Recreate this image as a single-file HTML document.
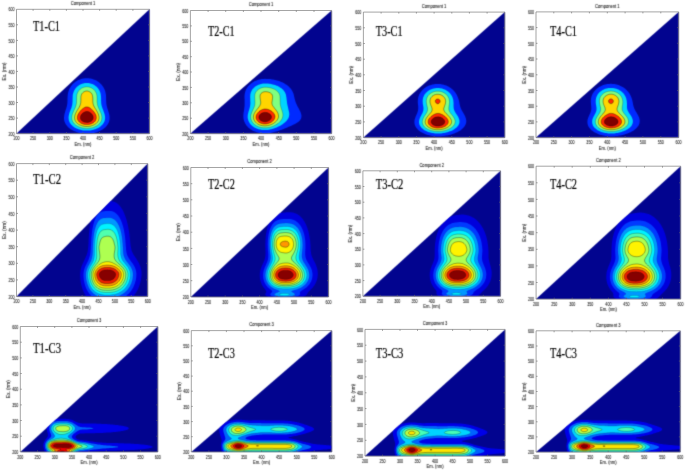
<!DOCTYPE html>
<html lang="en">
<head>
<meta charset="utf-8">
<title>PARAFAC components</title>
<style>
html,body{margin:0;padding:0;background:#fff;}
body{width:685px;height:472px;overflow:hidden;}
svg{display:block;font-family:"Liberation Sans",sans-serif;}
</style>
</head>
<body>
<svg width="685" height="472" viewBox="0 0 685 472">
<defs><filter id="bf" x="0" y="0" width="685" height="472" filterUnits="userSpaceOnUse" color-interpolation-filters="sRGB"><feConvolveMatrix order="3" kernelMatrix="1 5 1 5 25 5 1 5 1" edgeMode="duplicate" preserveAlpha="false"/></filter><filter id="bt" x="0" y="0" width="685" height="472" filterUnits="userSpaceOnUse" color-interpolation-filters="sRGB"><feConvolveMatrix order="3" kernelMatrix="1 5 1 5 25 5 1 5 1" edgeMode="duplicate" preserveAlpha="false"/></filter><filter id="bb" x="0" y="0" width="685" height="472" filterUnits="userSpaceOnUse" color-interpolation-filters="sRGB"><feConvolveMatrix order="3" kernelMatrix="1 6 1 6 36 6 1 6 1" edgeMode="duplicate" preserveAlpha="false"/></filter></defs>
<rect width="685" height="472" fill="#fff"/>
<g filter="url(#bf)">
<!-- T1-C1 -->
<clipPath id="c0"><polygon points="16.5,133.6 149.5,9.3 149.5,133.6"/></clipPath>
<polygon points="16.5,133.6 149.5,9.3 149.5,133.6" fill="rgb(2,4,143)"/>
<g clip-path="url(#c0)">
<path fill-rule="evenodd" fill="rgb(0,42,255)" d="M84.7,133.6 84.9,133.6 85.8,133.6 86.8,133.6 87.8,133.6 88.7,133.6 88.9,133.6 89.7,133.6 90.6,133.5 91.6,133.4 92.5,133.2 93.5,133 94.4,132.8 94.8,132.7 95.3,132.6 96.3,132.3 97.3,132 97.7,131.8 98.2,131.6 99.2,131.3 99.8,130.9 100.1,130.8 101,130.3 101.6,130 102,129.8 103,129.2 103.9,128.5 104.2,128.3 104.8,127.7 105.3,127.4 105.8,126.8 106.1,126.5 106.8,125.8 106.9,125.6 107.5,124.7 107.7,124.5 108.1,123.8 108.5,122.9 108.7,122.7 108.9,122.1 109.2,121.2 109.4,120.3 109.5,119.4 109.6,118.6 109.6,118.5 109.6,117.6 109.6,117.3 109.6,116.7 109.5,115.8 109.3,115 109.2,114.1 108.9,113.2 108.7,112.3 108.6,112.2 108.4,111.4 108.1,110.5 107.8,109.6 107.7,109.2 107.5,108.7 107.3,107.9 107,107 106.8,106.1 106.8,105.9 106.6,105.2 106.5,104.3 106.3,103.4 106.3,102.5 106.2,101.6 106.2,100.7 106.1,99.9 106.1,99 106.1,98.1 106.1,97.2 106,96.3 106,95.4 105.9,94.5 105.8,94.1 105.7,93.6 105.6,92.8 105.4,91.9 105.1,91 104.9,90.3 104.8,90.1 104.4,89.2 104,88.3 103.9,88.2 103.5,87.4 103,86.6 102.9,86.5 102.3,85.7 102,85.3 101.6,84.8 101.1,84.2 100.7,83.9 100.1,83.3 99.8,83 99.2,82.5 98.7,82.1 98.2,81.8 97.4,81.2 97.3,81.1 96.3,80.6 95.8,80.3 95.3,80.1 94.4,79.7 93.7,79.4 93.5,79.4 92.5,79 91.5,78.8 90.6,78.6 90.4,78.6 89.7,78.4 88.7,78.3 87.8,78.3 86.8,78.2 85.8,78.3 84.9,78.3 84,78.4 83.3,78.6 83,78.6 82,78.8 81.1,79.1 80.2,79.4 80,79.4 79.2,79.7 78.2,80.1 77.9,80.3 77.3,80.6 76.3,81.2 75.4,81.8 75,82.1 74.5,82.5 73.9,83 73.5,83.3 72.9,83.9 72.5,84.3 72.1,84.8 71.6,85.4 71.4,85.7 70.7,86.5 70.7,86.7 70.2,87.4 69.7,88.3 69.2,89.2 68.9,90.1 68.8,90.5 68.6,91 68.3,91.9 68.1,92.8 67.9,93.6 67.8,94.4 67.8,94.5 67.7,95.4 67.6,96.3 67.6,97.2 67.5,98.1 67.5,99 67.5,99.9 67.5,100.7 67.4,101.6 67.4,102.5 67.3,103.4 67.2,104.3 67,105.2 66.9,106.1 66.6,107 66.4,107.9 66.1,108.7 65.9,109.4 65.8,109.6 65.5,110.5 65.2,111.4 65,112.3 65,112.4 64.7,113.2 64.5,114.1 64.3,115 64.2,115.8 64.1,116.7 64,117.6 64,118.5 64.1,119.4 64.2,120.3 64.4,121.2 64.7,122.1 65,122.6 65.1,122.9 65.5,123.8 65.9,124.4 66.1,124.7 66.8,125.6 66.9,125.7 67.5,126.5 67.8,126.8 68.4,127.4 68.8,127.7 69.4,128.3 69.7,128.5 70.6,129.2 70.7,129.2 71.6,129.8 72.1,130 72.5,130.3 73.5,130.8 73.8,130.9 74.5,131.2 75.4,131.6 76,131.8 76.3,132 77.3,132.3 78.2,132.6 78.9,132.7 79.2,132.8 80.2,133 81.1,133.2 82,133.3 83,133.5 84,133.6 84.7,133.6Z"/>
<path fill-rule="evenodd" fill="rgb(0,212,255)" stroke="#000" stroke-opacity="0.1" stroke-width="0.5" d="M81.3,130 82,130.2 83,130.4 84,130.5 84.9,130.6 85.8,130.6 86.8,130.6 87.8,130.6 88.7,130.6 89.7,130.5 90.6,130.4 91.5,130.2 92.3,130 92.5,130 93.5,129.8 94.4,129.5 95.3,129.2 95.5,129.2 96.3,128.8 97.3,128.4 97.6,128.3 98.2,128 99.2,127.4 100.1,126.8 100.5,126.5 101,126 101.5,125.6 102,125.1 102.4,124.7 103,124.1 103.1,123.8 103.7,122.9 103.9,122.6 104.2,122.1 104.6,121.2 104.8,120.3 104.8,120.1 105,119.4 105.1,118.5 105.1,117.6 105.1,116.7 105,115.8 104.8,115.3 104.8,115 104.6,114.1 104.3,113.2 104,112.3 103.9,111.9 103.7,111.4 103.4,110.5 103,109.6 103,109.5 102.7,108.7 102.4,107.9 102.1,107 102,106.8 101.8,106.1 101.6,105.2 101.4,104.3 101.3,103.4 101.2,102.5 101.2,101.6 101.1,100.7 101.1,99.9 101.1,99 101.1,98.1 101.1,97.2 101,97.2 101,96.3 100.9,95.4 100.8,94.5 100.6,93.6 100.4,92.8 100.1,91.9 99.7,91 99.3,90.1 99.2,89.9 98.7,89.2 98.2,88.5 98.1,88.3 97.3,87.4 97.3,87.3 96.4,86.5 96.3,86.4 95.3,85.7 94.4,85.1 93.9,84.8 93.5,84.5 92.5,84.1 91.9,83.9 91.5,83.7 90.6,83.5 89.7,83.2 88.7,83.1 87.8,83 87.4,83 86.8,83 86.3,83 85.8,83 84.9,83.1 84,83.3 83,83.5 82,83.8 81.7,83.9 81.1,84.1 80.2,84.6 79.8,84.8 79.2,85.1 78.4,85.7 78.2,85.7 77.3,86.5 77.2,86.5 76.3,87.4 75.6,88.3 75.4,88.5 74.9,89.2 74.5,90 74.4,90.1 73.9,91 73.6,91.9 73.5,92 73.3,92.8 73,93.6 72.8,94.5 72.7,95.4 72.6,96.3 72.6,97.2 72.6,98.1 72.5,98.9 72.5,99 72.5,99.9 72.5,100.7 72.5,101.6 72.4,102.5 72.3,103.4 72.2,104.3 72.1,105.2 71.8,106.1 71.6,106.9 71.6,107 71.3,107.9 71,108.7 70.7,109.6 70.6,109.6 70.3,110.5 69.9,111.4 69.7,112.1 69.6,112.3 69.3,113.2 69.1,114.1 68.9,115 68.8,115.5 68.7,115.8 68.6,116.7 68.5,117.6 68.6,118.5 68.7,119.4 68.8,119.9 68.8,120.3 69.1,121.2 69.5,122.1 69.7,122.5 69.9,122.9 70.5,123.8 70.7,124 71.2,124.7 71.6,125.1 72.1,125.6 72.5,126 73.2,126.5 73.5,126.7 74.5,127.4 75.4,127.9 76.1,128.3 76.3,128.4 77.3,128.8 78.2,129.2 79.2,129.5 80.2,129.8 81.1,130 81.3,130Z"/>
<path fill-rule="evenodd" fill="rgb(128,255,128)" stroke="#000" stroke-opacity="0.45" stroke-width="0.5" d="M84.4,128.3 84.9,128.3 85.8,128.4 86.8,128.4 87.8,128.4 88.7,128.3 89.2,128.3 89.7,128.2 90.6,128.1 91.5,127.9 92.5,127.7 93.4,127.4 93.5,127.4 94.4,127 95.3,126.6 95.6,126.5 96.3,126.1 97.2,125.6 97.3,125.5 98.2,124.9 98.4,124.7 99.2,124 99.3,123.8 100.1,122.9 100.7,122.1 101,121.4 101.2,121.2 101.5,120.3 101.7,119.4 101.8,118.5 101.9,117.6 101.8,116.7 101.7,115.8 101.5,115 101.3,114.1 101.1,113.5 100.9,113.2 100.6,112.3 100.2,111.4 100.1,111.2 99.8,110.5 99.4,109.6 99.2,109.1 99,108.7 98.6,107.9 98.2,107 98.2,106.9 97.9,106.1 97.6,105.2 97.4,104.3 97.3,103.4 97.3,103.1 97.2,102.5 97.1,101.6 97.1,100.7 97.1,99.9 97.1,99 97.1,98.1 97,97.2 97,96.3 96.9,95.4 96.7,94.5 96.5,93.6 96.3,93.2 96.1,92.8 95.7,91.9 95.3,91.3 95.1,91 94.4,90.1 93.5,89.2 92.5,88.5 92.2,88.3 91.5,87.9 90.6,87.5 90.4,87.4 89.7,87.2 88.7,87 87.8,86.9 86.8,86.8 85.8,86.9 84.9,87 84,87.2 83.3,87.4 83,87.5 82,88 81.4,88.3 81.1,88.5 80.2,89.2 79.3,90.1 79.2,90.2 78.5,91 78.2,91.4 78,91.9 77.5,92.8 77.3,93.4 77.2,93.6 76.9,94.5 76.8,95.4 76.7,96.3 76.6,97.2 76.6,98.1 76.6,99 76.6,99.9 76.5,100.7 76.5,101.6 76.5,102.5 76.4,103.4 76.3,103.5 76.2,104.3 76,105.2 75.8,106.1 75.4,107 75.4,107.1 75.1,107.9 74.7,108.7 74.5,109.2 74.3,109.6 73.8,110.5 73.5,111.3 73.4,111.4 73.1,112.3 72.7,113.2 72.5,113.6 72.4,114.1 72.1,115 72,115.8 71.8,116.7 71.8,117.6 71.8,118.5 71.9,119.4 72.2,120.3 72.5,121.2 72.5,121.3 73,122.1 73.5,122.9 73.6,122.9 74.3,123.8 74.5,124 75.3,124.7 75.4,124.8 76.3,125.5 76.5,125.6 77.3,126.1 78.1,126.5 78.2,126.6 79.2,127 80.1,127.4 80.3,127.4 81.1,127.6 82,127.9 83,128.1 84,128.2 84.4,128.3Z"/>
<path fill-rule="evenodd" fill="rgb(255,213,0)" stroke="#000" stroke-opacity="0.75" stroke-width="0.5" d="M81.4,125.6 82,125.8 83,126.1 84,126.2 84.9,126.4 85.8,126.5 86.8,126.5 87.8,126.5 88.7,126.4 89.7,126.3 90.6,126.1 91.5,125.8 92.2,125.6 92.5,125.5 93.5,125.1 94.3,124.7 94.4,124.7 95.3,124.1 95.7,123.8 96.3,123.4 96.8,122.9 97.3,122.4 97.5,122.1 98.1,121.2 98.2,121 98.6,120.3 98.8,119.4 99,118.5 99,117.6 99,116.7 98.8,115.8 98.6,115 98.3,114.1 98.2,113.8 97.9,113.2 97.5,112.3 97.3,111.8 97,111.4 96.5,110.5 96.3,110.2 96,109.6 95.4,108.7 95.3,108.6 94.9,107.9 94.4,107 93.9,106.1 93.5,105.2 93.5,104.9 93.2,104.3 93,103.4 92.9,102.5 92.8,101.6 92.8,100.7 92.8,99.9 92.8,99 92.8,98.1 92.7,97.2 92.6,96.3 92.5,95.7 92.4,95.4 92.1,94.5 91.7,93.6 91.5,93.5 90.9,92.8 90.6,92.4 89.8,91.9 89.7,91.8 88.7,91.4 87.8,91.1 86.8,91 85.8,91.1 84.9,91.4 84,91.8 83.8,91.9 83,92.5 82.7,92.8 82,93.6 81.5,94.5 81.2,95.4 81.1,95.9 81,96.3 80.9,97.2 80.9,98.1 80.9,99 80.9,99.9 80.9,100.7 80.8,101.6 80.8,102.5 80.6,103.4 80.4,104.3 80.2,105 80.1,105.2 79.7,106.1 79.3,107 79.2,107.1 78.8,107.9 78.2,108.7 77.7,109.6 77.3,110.2 77.1,110.5 76.6,111.4 76.3,111.9 76.1,112.3 75.7,113.2 75.4,113.9 75.3,114.1 75,115 74.8,115.8 74.7,116.7 74.6,117.6 74.7,118.5 74.8,119.4 75.1,120.3 75.4,121 75.5,121.2 76.1,122.1 76.3,122.4 76.9,122.9 77.3,123.3 77.9,123.8 78.2,124.1 79.2,124.6 79.3,124.7 80.2,125.1 81.1,125.5 81.4,125.6Z"/>
<path fill-rule="evenodd" fill="rgb(255,42,0)" stroke="#000" stroke-opacity="0.75" stroke-width="0.5" d="M82.5,123.8 83,124 84,124.3 84.9,124.4 85.8,124.5 86.8,124.6 87.8,124.5 88.7,124.4 89.7,124.3 90.6,124 91.2,123.8 91.5,123.7 92.5,123.2 93,122.9 93.5,122.7 94.2,122.1 94.4,121.9 95.1,121.2 95.3,120.8 95.7,120.3 96,119.4 96.2,118.5 96.3,117.6 96.2,116.7 96.1,115.8 95.8,115 95.4,114.1 95.3,114 94.9,113.2 94.4,112.4 94.3,112.3 93.6,111.4 93.5,111.2 92.8,110.5 92.5,110.2 91.9,109.6 91.5,109.3 90.9,108.7 90.6,108.5 89.7,107.9 89.7,107.8 88.7,107.3 87.8,107 87.5,107 86.8,106.9 86.1,107 85.8,107 84.9,107.3 84,107.9 83,108.5 82.8,108.7 82,109.3 81.7,109.6 81.1,110.2 80.8,110.5 80.2,111.3 80,111.4 79.4,112.3 79.2,112.5 78.8,113.2 78.3,114.1 78.2,114.1 77.9,115 77.6,115.8 77.4,116.7 77.4,117.6 77.4,118.5 77.6,119.4 78,120.3 78.2,120.7 78.6,121.2 79.2,121.9 79.4,122.1 80.2,122.6 80.6,122.9 81.1,123.2 82,123.7 82.5,123.8Z"/>
<path fill-rule="evenodd" fill="rgb(128,0,0)" stroke="#000" stroke-opacity="0.7" stroke-width="0.5" d="M84.4,122.1 84.9,122.2 85.8,122.3 86.8,122.4 87.8,122.4 88.7,122.2 89.3,122.1 89.7,121.9 90.6,121.5 91.2,121.2 91.5,120.9 92.2,120.3 92.5,119.9 92.8,119.4 93.1,118.5 93.2,117.6 93.1,116.7 92.9,115.8 92.5,115 91.8,114.1 91.5,113.7 91,113.2 90.6,112.9 89.7,112.3 88.7,111.8 87.8,111.6 86.8,111.5 85.8,111.6 84.9,111.9 84,112.3 83,112.9 82.7,113.2 82,113.8 81.8,114.1 81.2,115 81.1,115.1 80.8,115.8 80.5,116.7 80.4,117.6 80.5,118.5 80.8,119.4 81.1,119.8 81.4,120.3 82,120.9 82.5,121.2 83,121.5 84,121.9 84.4,122.1Z"/>
</g>
<!-- T2-C1 -->
<clipPath id="c1"><polygon points="190.4,133.6 331.6,10.5 331.6,133.6"/></clipPath>
<polygon points="190.4,133.6 331.6,10.5 331.6,133.6" fill="rgb(2,4,143)"/>
<g clip-path="url(#c1)">
<path fill-rule="evenodd" fill="rgb(0,42,255)" d="M259,132.7 260,132.9 261,133.1 262,133.2 263,133.2 264,133.3 265,133.3 266,133.3 267.1,133.2 268.1,133.1 269.1,133 270.1,132.9 271,132.7 271.1,132.7 272.1,132.5 273.1,132.3 274.1,132.1 275,131.8 275.1,131.8 276.1,131.6 277.1,131.3 278.1,131 278.1,130.9 279.2,130.6 280.2,130.3 280.7,130.1 281.2,129.9 282.2,129.6 283.1,129.2 283.2,129.2 284.2,128.8 285.2,128.3 285.3,128.3 286.2,127.9 287.2,127.5 287.3,127.4 288.2,127.1 289.2,126.6 289.4,126.6 290.2,126.2 291.3,125.8 291.4,125.7 292.3,125.3 293.3,124.8 294.3,124.3 295.1,123.9 295.3,123.8 296.3,123.3 296.6,123 297.3,122.6 297.9,122.2 298.3,121.9 299,121.3 299.3,121 299.9,120.4 300.3,119.8 300.5,119.5 301,118.7 301.3,117.8 301.3,117.4 301.4,116.9 301.5,116 301.4,115.1 301.3,114.8 301.2,114.3 301,113.4 300.7,112.5 300.3,111.7 300.3,111.6 299.9,110.7 299.4,109.9 299.3,109.7 299,109 298.5,108.1 298.3,107.8 298,107.2 297.5,106.3 297.3,105.9 297.1,105.5 296.7,104.6 296.3,103.8 296.3,103.7 295.9,102.8 295.6,101.9 295.3,101.1 295.3,101 295.1,100.2 294.8,99.3 294.6,98.4 294.4,97.5 294.3,97 294.2,96.7 294,95.8 293.8,94.9 293.6,94 293.3,93.2 292.9,92.3 292.5,91.4 292.3,91 292,90.5 291.4,89.6 291.3,89.4 290.8,88.8 290.2,88.1 290,87.9 289.2,87.1 289.2,87 288.2,86.1 287.2,85.3 287.1,85.2 286.2,84.6 285.9,84.4 285.2,83.9 284.4,83.5 284.2,83.3 283.2,82.8 282.8,82.6 282.2,82.3 281.2,81.9 280.8,81.7 280.2,81.5 279.2,81.1 278.4,80.8 278.1,80.8 277.1,80.5 276.1,80.2 275.2,80 275.1,80 274.1,79.7 273.1,79.5 272.1,79.4 271.1,79.2 270.1,79.1 269.8,79.1 269.1,79 268.1,78.9 267.1,78.9 266,78.9 265,78.8 264,78.9 263,78.9 262,79.1 261.9,79.1 261,79.2 260,79.4 259,79.6 258,79.9 257.9,80 257,80.3 256,80.7 255.6,80.8 254.9,81.1 253.9,81.6 253.8,81.7 252.9,82.2 252.3,82.6 251.9,82.9 251.1,83.5 250.9,83.6 250,84.4 249.9,84.5 249.1,85.2 248.9,85.5 248.3,86.1 247.9,86.6 247.6,87 247,87.9 246.9,88.1 246.5,88.8 246,89.6 245.9,90 245.6,90.5 245.3,91.4 245.1,92.3 244.9,93.1 244.9,93.2 244.7,94 244.6,94.9 244.5,95.8 244.5,96.7 244.5,97.5 244.5,98.4 244.6,99.3 244.6,100.2 244.6,101.1 244.6,101.9 244.6,102.8 244.6,103.7 244.6,104.6 244.6,105.5 244.5,106.3 244.4,107.2 244.3,108.1 244.2,109 244.1,109.9 243.9,110.7 243.9,111.2 243.8,111.6 243.6,112.5 243.5,113.4 243.4,114.3 243.4,115.1 243.3,116 243.4,116.9 243.4,117.8 243.5,118.7 243.7,119.5 243.9,120 243.9,120.4 244.2,121.3 244.6,122.2 244.9,122.8 245,123 245.4,123.9 245.9,124.6 246,124.8 246.6,125.7 246.9,126 247.4,126.6 247.9,127.1 248.2,127.4 248.9,128 249.2,128.3 249.9,128.8 250.4,129.2 250.9,129.5 251.8,130.1 251.9,130.2 252.9,130.7 253.5,131 253.9,131.2 254.9,131.6 255.7,131.8 256,131.9 257,132.2 258,132.5 259,132.7Z"/>
<path fill-rule="evenodd" fill="rgb(0,212,255)" stroke="#000" stroke-opacity="0.1" stroke-width="0.5" d="M264,130.1 265,130.1 265.4,130.1 266,130.1 267.1,130 268.1,129.9 269.1,129.8 270.1,129.6 271.1,129.3 271.6,129.2 272.1,129.1 273.1,128.8 274.1,128.5 274.5,128.3 275.1,128.1 276.1,127.7 276.8,127.4 277.1,127.3 278.1,126.8 278.6,126.6 279.2,126.3 280.2,125.7 280.3,125.7 281.2,125.2 281.8,124.8 282.2,124.5 283.1,123.9 283.2,123.8 284.2,123.1 284.2,123 285.2,122.2 286.1,121.3 286.2,121.2 286.9,120.4 287.2,120 287.6,119.5 288.2,118.7 288.2,118.5 288.6,117.8 288.9,116.9 289.1,116 289.2,115.2 289.3,115.1 289.3,114.3 289.3,113.4 289.2,113.2 289.2,112.5 289,111.6 288.8,110.7 288.6,109.9 288.4,109 288.2,108.3 288.2,108.1 288,107.2 287.8,106.3 287.6,105.5 287.4,104.6 287.2,103.7 287.2,103.6 287.1,102.8 287,101.9 286.9,101.1 286.8,100.2 286.7,99.3 286.6,98.4 286.5,97.5 286.3,96.7 286.2,95.9 286.2,95.8 286,94.9 285.8,94 285.4,93.2 285.2,92.7 285,92.3 284.4,91.4 284.2,91.1 283.8,90.5 283.2,89.9 283,89.6 282.2,88.9 282,88.8 281.2,88.1 280.9,87.9 280.2,87.4 279.5,87 279.2,86.8 278.1,86.3 277.9,86.1 277.1,85.8 276.1,85.4 275.8,85.2 275.1,85 274.1,84.7 273.1,84.4 272.9,84.4 272.1,84.2 271.1,84 270.1,83.8 269.1,83.7 268.1,83.6 267.1,83.5 266.3,83.5 266,83.5 265,83.5 264.6,83.5 264,83.5 263,83.6 262,83.7 261,84 260,84.2 259.6,84.4 259,84.6 258,85 257.5,85.2 257,85.5 256,86.1 255.9,86.1 254.9,86.8 254.7,87 253.9,87.7 253.7,87.9 252.9,88.7 252.9,88.8 252.2,89.6 251.9,90.1 251.7,90.5 251.2,91.4 250.9,92.1 250.8,92.3 250.6,93.2 250.3,94 250.2,94.9 250.2,95.8 250.1,96.7 250.1,97.5 250.2,98.4 250.2,99.3 250.2,100.2 250.2,101.1 250.3,101.9 250.3,102.8 250.3,103.7 250.2,104.6 250.1,105.5 250,106.3 249.9,106.7 249.8,107.2 249.6,108.1 249.3,109 249.1,109.9 248.9,110.4 248.8,110.7 248.5,111.6 248.3,112.5 248,113.4 247.9,114.2 247.9,114.3 247.7,115.1 247.7,116 247.6,116.9 247.7,117.8 247.8,118.7 247.9,118.9 248,119.5 248.3,120.4 248.6,121.3 248.9,121.8 249.1,122.2 249.6,123 249.9,123.5 250.2,123.9 250.9,124.7 251,124.8 251.9,125.7 252.9,126.5 253,126.6 253.9,127.2 254.3,127.4 254.9,127.8 256,128.3 257,128.7 258,129.1 258.4,129.2 259,129.4 260,129.6 261,129.8 262,129.9 263,130 264,130.1Z"/>
<path fill-rule="evenodd" fill="rgb(128,255,128)" stroke="#000" stroke-opacity="0.45" stroke-width="0.5" d="M261,127.4 262,127.6 263,127.8 264,127.8 265,127.8 266,127.8 267.1,127.7 268.1,127.6 268.8,127.4 269.1,127.4 270.1,127.2 271.1,126.9 272,126.6 272.1,126.5 273.1,126.2 274.1,125.7 274.2,125.7 275.1,125.2 275.9,124.8 276.1,124.6 277.1,124 277.3,123.9 278.1,123.3 278.4,123 279.2,122.4 279.5,122.2 280.2,121.4 280.3,121.3 281,120.4 281.2,120.2 281.6,119.5 282.1,118.7 282.2,118.5 282.5,117.8 282.7,116.9 282.9,116 282.9,115.1 282.9,114.3 282.8,113.4 282.6,112.5 282.3,111.6 282.2,111.1 282.1,110.7 281.8,109.9 281.5,109 281.2,108.1 280.9,107.2 280.7,106.3 280.5,105.5 280.3,104.6 280.2,103.7 280.2,102.8 280.2,102 280.2,101.9 280.1,101.1 280.1,100.2 280.1,99.3 280.1,98.4 280,97.5 280,96.7 279.9,95.8 279.7,94.9 279.4,94 279.2,93.6 278.9,93.2 278.3,92.3 278.1,92.1 277.5,91.4 277.1,91.1 276.4,90.5 276.1,90.3 275.1,89.6 274.1,89.1 273.3,88.8 273.1,88.7 272.1,88.3 271.1,88 270.6,87.9 270.1,87.8 269.1,87.6 268.1,87.4 267.1,87.3 266,87.3 265,87.2 264,87.3 263,87.4 262,87.7 261.3,87.9 261,88 260,88.4 259.3,88.8 259,89 258,89.6 258,89.7 257.1,90.5 257,90.6 256.3,91.4 256,91.9 255.7,92.3 255.3,93.2 255,94 254.9,94.4 254.8,94.9 254.8,95.8 254.7,96.7 254.7,97.5 254.8,98.4 254.8,99.3 254.9,100.2 254.9,101.1 254.9,101.7 255,101.9 255,102.8 254.9,103.3 254.9,103.7 254.8,104.6 254.7,105.5 254.4,106.3 254.1,107.2 253.9,107.6 253.7,108.1 253.3,109 252.9,109.8 252.9,109.9 252.5,110.7 252.1,111.6 251.9,111.9 251.7,112.5 251.4,113.4 251.1,114.3 250.9,115.1 250.8,116 250.7,116.9 250.8,117.8 250.9,118.6 250.9,118.7 251.1,119.5 251.5,120.4 251.9,121.3 252.4,122.2 252.9,122.8 253.1,123 253.9,123.9 254.9,124.8 255,124.8 256,125.5 256.3,125.7 257,126.1 258,126.5 258.1,126.6 259,126.9 260,127.2 261,127.4Z"/>
<path fill-rule="evenodd" fill="rgb(255,213,0)" stroke="#000" stroke-opacity="0.75" stroke-width="0.5" d="M262.5,125.7 263,125.8 264,125.8 265,125.9 266,125.8 267.1,125.7 267.2,125.7 268.1,125.5 269.1,125.3 270.1,125 270.7,124.8 271.1,124.6 272.1,124.2 272.6,123.9 273.1,123.7 274.1,123 275.1,122.3 275.2,122.2 276.1,121.3 276.2,121.3 276.9,120.4 277.1,120.1 277.5,119.5 278,118.7 278.1,118.2 278.3,117.8 278.5,116.9 278.5,116 278.4,115.1 278.2,114.3 278.1,114 278,113.4 277.6,112.5 277.1,111.7 277.1,111.6 276.5,110.7 276.1,110.2 275.9,109.9 275.2,109 275.1,108.9 274.4,108.1 274.1,107.6 273.8,107.2 273.1,106.3 272.6,105.5 272.2,104.6 272.1,104.2 272,103.7 271.9,102.8 272,101.9 272.1,101.3 272.1,101.1 272.3,100.2 272.4,99.3 272.5,98.4 272.6,97.5 272.6,96.7 272.5,95.8 272.2,94.9 272.1,94.7 271.7,94 271.1,93.5 270.7,93.2 270.1,92.8 269.1,92.3 269,92.3 268.1,92 267.1,91.8 266,91.7 265,91.7 264,91.8 263,92.1 262.6,92.3 262,92.6 261.4,93.2 261,93.5 260.6,94 260.2,94.9 260.1,95.8 260,96.7 260.1,97.5 260.2,98.4 260.3,99.3 260.4,100.2 260.6,101.1 260.7,101.9 260.7,102.8 260.6,103.7 260.3,104.6 260,105.3 259.9,105.5 259.4,106.3 259,106.9 258.8,107.2 258.1,108.1 258,108.2 257.4,109 257,109.4 256.6,109.9 256,110.7 255.3,111.6 254.9,112.2 254.8,112.5 254.3,113.4 253.9,114.2 253.9,114.3 253.7,115.1 253.5,116 253.4,116.9 253.4,117.8 253.6,118.7 253.9,119.5 253.9,119.7 254.3,120.4 254.8,121.3 254.9,121.5 255.5,122.2 256,122.6 256.4,123 257,123.5 257.6,123.9 258,124.1 259,124.7 259.3,124.8 260,125.1 261,125.4 262,125.6 262.5,125.7Z"/>
<path fill-rule="evenodd" fill="rgb(255,42,0)" stroke="#000" stroke-opacity="0.75" stroke-width="0.5" d="M264.6,123.9 265,123.9 265.2,123.9 266,123.9 267.1,123.7 268.1,123.5 269.1,123.2 269.5,123 270.1,122.8 271.1,122.3 271.2,122.2 272.1,121.6 272.5,121.3 273.1,120.7 273.4,120.4 274,119.5 274.1,119.4 274.5,118.7 274.8,117.8 275,116.9 274.9,116 274.7,115.1 274.3,114.3 274.1,113.9 273.8,113.4 273.1,112.6 273,112.5 272.1,111.6 271.1,110.9 270.8,110.7 270.1,110.3 269.1,109.9 269.1,109.8 268.1,109.5 267.1,109.2 266,109.1 265,109 264,109.1 263,109.4 262,109.7 261.7,109.9 261,110.2 260.2,110.7 260,110.8 259,111.6 258.1,112.5 258,112.6 257.4,113.4 257,114 256.8,114.3 256.4,115.1 256.1,116 256,116.9 256,117.8 256.2,118.7 256.6,119.5 257,120.2 257.1,120.4 257.8,121.3 258,121.4 258.9,122.2 259,122.3 260,122.8 260.4,123 261,123.3 262,123.6 263,123.8 264,123.9 264.6,123.9Z"/>
<path fill-rule="evenodd" fill="rgb(128,0,0)" stroke="#000" stroke-opacity="0.7" stroke-width="0.5" d="M262.2,121.3 263,121.5 264,121.7 265,121.8 266,121.7 267.1,121.5 267.6,121.3 268.1,121.1 269.1,120.6 269.4,120.4 270.1,119.8 270.4,119.5 271,118.7 271.1,118.5 271.4,117.8 271.5,116.9 271.3,116 271.1,115.6 270.9,115.1 270.1,114.3 270.1,114.2 269.1,113.5 268.9,113.4 268.1,113 267.1,112.6 266.3,112.5 266,112.4 265,112.4 264,112.4 263.8,112.5 263,112.7 262,113.1 261.4,113.4 261,113.6 260.3,114.3 260,114.5 259.5,115.1 259.1,116 259,116.3 258.9,116.9 258.9,117.8 259,118.1 259.2,118.7 259.7,119.5 260,119.9 260.6,120.4 261,120.7 262,121.2 262.2,121.3Z"/>
</g>
<!-- T3-C1 -->
<clipPath id="c2"><polygon points="363.4,137.6 504.8,12.1 504.8,137.6"/></clipPath>
<polygon points="363.4,137.6 504.8,12.1 504.8,137.6" fill="rgb(2,4,143)"/>
<g clip-path="url(#c2)">
<path fill-rule="evenodd" fill="rgb(0,42,255)" d="M431.7,135.8 432.1,135.9 433.1,136 434.1,136.1 435.1,136.2 436.1,136.3 437.1,136.3 438.1,136.3 439.1,136.3 440.2,136.3 441.2,136.2 442.2,136.1 443.2,136 444.2,135.9 444.8,135.8 445.2,135.7 446.2,135.6 447.2,135.4 448.2,135.2 449.2,135 449.4,134.9 450.3,134.7 451.3,134.4 452.3,134.1 452.7,134 453.3,133.8 454.3,133.5 455.2,133.1 455.3,133.1 456.3,132.6 457.2,132.2 457.3,132.2 458.3,131.6 458.9,131.3 459.4,131 460.3,130.4 460.4,130.4 461.4,129.6 461.5,129.5 462.4,128.8 462.5,128.6 463.4,127.8 463.4,127.7 464.2,126.8 464.4,126.5 464.8,125.9 465.3,125 465.4,124.8 465.7,124.2 466,123.3 466.2,122.4 466.3,121.5 466.3,120.6 466.1,119.7 466,118.8 465.7,117.9 465.4,117 465,116.1 464.6,115.2 464.4,114.9 464.1,114.3 463.6,113.4 463.4,113.1 463,112.5 462.5,111.6 462.4,111.4 462,110.7 461.5,109.8 461.4,109.6 461.1,108.9 460.7,108 460.4,107.1 460.4,107 460.1,106.2 459.9,105.3 459.7,104.4 459.5,103.5 459.4,102.6 459.2,101.7 459,100.8 458.8,99.9 458.5,99.1 458.3,98.6 458.2,98.2 457.9,97.3 457.5,96.4 457.3,96 457.1,95.5 456.6,94.6 456.3,94 456.1,93.7 455.5,92.8 455.3,92.5 454.8,91.9 454.3,91.3 454.1,91 453.3,90.2 453.2,90.1 452.3,89.2 452.2,89.2 451.3,88.4 451.1,88.3 450.3,87.7 449.8,87.4 449.2,87 448.3,86.5 448.2,86.5 447.2,86 446.3,85.6 446.2,85.6 445.2,85.2 444.2,84.9 443.6,84.7 443.2,84.6 442.2,84.4 441.2,84.2 440.2,84.1 439.1,84 438.1,83.9 437.1,83.9 436.1,84 435.1,84.1 434.1,84.2 433.1,84.4 432.1,84.6 431.7,84.7 431.1,84.9 430.1,85.2 429.1,85.6 429,85.6 428,86 427.1,86.5 427,86.5 426,87.1 425.6,87.4 425,87.8 424.3,88.3 424,88.6 423.3,89.2 423,89.4 422.3,90.1 422,90.5 421.5,91 421,91.7 420.8,91.9 420.2,92.8 420,93.2 419.7,93.7 419.2,94.6 418.9,95.3 418.9,95.5 418.5,96.4 418.3,97.3 418.1,98.2 418,99.1 417.9,99.2 417.9,99.9 417.8,100.8 417.8,101.7 417.8,102.6 417.9,103.5 417.9,103.9 418,104.4 418.1,105.3 418.2,106.2 418.2,107.1 418.2,108 418.2,108.9 418.1,109.8 418,110.7 417.9,110.9 417.7,111.6 417.4,112.5 417.1,113.4 416.9,113.7 416.7,114.3 416.3,115.2 415.9,116 415.9,116.1 415.5,117 415.2,117.9 414.9,118.7 414.9,118.8 414.6,119.7 414.5,120.6 414.4,121.5 414.4,122.4 414.5,123.3 414.6,124.2 414.9,125 414.9,125.1 415.2,125.9 415.7,126.8 415.9,127.2 416.3,127.7 416.9,128.6 417,128.6 417.8,129.5 417.9,129.7 418.8,130.4 418.9,130.6 419.9,131.3 420,131.4 421,132 421.3,132.2 422,132.6 422.9,133.1 423,133.1 424,133.6 425,134 426,134.4 427,134.7 427.6,134.9 428,135 429.1,135.3 430.1,135.5 431.1,135.7 431.7,135.8Z"/>
<path fill-rule="evenodd" fill="rgb(0,212,255)" stroke="#000" stroke-opacity="0.1" stroke-width="0.5" d="M432.9,133.1 433.1,133.1 434.1,133.3 435.1,133.4 436.1,133.5 437.1,133.5 438.1,133.5 439.1,133.5 440.2,133.5 441.2,133.4 442.2,133.3 443.2,133.1 444.2,133 445.2,132.8 446.2,132.5 447.2,132.3 447.4,132.2 448.2,132 449.2,131.6 450.1,131.3 450.3,131.3 451.3,130.9 452.2,130.4 452.3,130.4 453.3,129.9 453.9,129.5 454.3,129.3 455.2,128.6 455.3,128.6 456.3,127.8 456.4,127.7 457.3,126.8 458,125.9 458.3,125.4 458.6,125 459,124.2 459.3,123.3 459.4,123 459.5,122.4 459.5,121.5 459.5,120.6 459.4,120 459.3,119.7 459,118.8 458.7,117.9 458.3,117.1 458.3,117 457.8,116.1 457.3,115.4 457.2,115.2 456.6,114.3 456.3,113.9 456,113.4 455.4,112.5 455.3,112.3 454.9,111.6 454.5,110.7 454.3,110.3 454.1,109.8 453.9,108.9 453.7,108 453.7,107.1 453.6,106.2 453.6,105.3 453.6,104.4 453.6,103.5 453.6,102.6 453.5,101.7 453.4,100.8 453.3,100 453.3,99.9 453.1,99.1 452.8,98.2 452.5,97.3 452.3,96.8 452.1,96.4 451.6,95.5 451.3,94.9 451,94.6 450.3,93.7 450.3,93.6 449.5,92.8 449.2,92.5 448.6,91.9 448.2,91.6 447.4,91 447.2,90.9 446.2,90.2 446,90.1 445.2,89.7 444.2,89.2 444.1,89.2 443.2,88.9 442.2,88.6 441.2,88.3 440.9,88.3 440.2,88.2 439.1,88 438.1,88 437.1,88 436.1,88.1 435.1,88.2 434.4,88.3 434.1,88.4 433.1,88.6 432.1,88.9 431.3,89.2 431.1,89.3 430.1,89.7 429.4,90.1 429.1,90.3 428,91 427,91.7 426.9,91.9 426,92.7 425.9,92.8 425.2,93.7 425,93.9 424.5,94.6 424,95.5 423.6,96.4 423.2,97.3 423,98.1 423,98.2 422.8,99.1 422.7,99.9 422.6,100.8 422.6,101.7 422.7,102.6 422.7,103.5 422.9,104.4 423,105.2 423,105.3 423.2,106.2 423.3,107.1 423.4,108 423.4,108.9 423.3,109.8 423.2,110.7 423,111.4 422.9,111.6 422.6,112.5 422.2,113.4 422,113.8 421.7,114.3 421.2,115.2 421,115.7 420.8,116.1 420.3,117 420,117.8 419.9,117.9 419.6,118.8 419.3,119.7 419.1,120.6 419,121.5 419,122.4 419.1,123.3 419.3,124.2 419.6,125 420,125.7 420.1,125.9 420.7,126.8 421,127.2 421.4,127.7 422,128.3 422.3,128.6 423,129.2 423.5,129.5 424,129.9 424.9,130.4 425,130.5 426,131 426.7,131.3 427,131.5 428,131.9 429.1,132.2 430.1,132.5 431.1,132.8 432.1,133 432.9,133.1Z"/>
<path fill-rule="evenodd" fill="rgb(128,255,128)" stroke="#000" stroke-opacity="0.45" stroke-width="0.5" d="M435,131.3 435.1,131.3 436.1,131.4 437.1,131.5 438.1,131.5 439.1,131.5 440.2,131.4 440.9,131.3 441.2,131.3 442.2,131.2 443.2,131 444.2,130.8 445.2,130.5 445.5,130.4 446.2,130.2 447.2,129.9 448,129.5 448.2,129.4 449.2,129 449.9,128.6 450.3,128.4 451.3,127.8 451.4,127.7 452.3,127 452.5,126.8 453.3,126.1 453.4,125.9 454.1,125 454.3,124.7 454.6,124.2 454.9,123.3 455.1,122.4 455.2,121.5 455.1,120.6 454.8,119.7 454.5,118.8 454.3,118.4 454.1,117.9 453.5,117 453.3,116.7 452.9,116.1 452.3,115.3 452.2,115.2 451.5,114.3 451.3,114 450.8,113.4 450.3,112.7 450.1,112.5 449.6,111.6 449.2,110.8 449.2,110.7 448.9,109.8 448.8,108.9 448.8,108 448.9,107.1 449,106.2 449.1,105.3 449.2,104.6 449.3,104.4 449.4,103.5 449.5,102.6 449.5,101.7 449.4,100.8 449.3,99.9 449.2,99.8 449.1,99.1 448.8,98.2 448.4,97.3 448.2,97 447.9,96.4 447.2,95.5 446.4,94.6 446.2,94.4 445.4,93.7 445.2,93.6 444.2,92.9 444,92.8 443.2,92.4 442.2,91.9 442,91.9 441.2,91.6 440.2,91.4 439.1,91.2 438.1,91.2 437.1,91.2 436.1,91.2 435.1,91.4 434.1,91.6 433.3,91.9 433.1,92 432.1,92.4 431.4,92.8 431.1,93 430.1,93.7 430,93.7 429.1,94.5 429,94.6 428.2,95.5 428,95.8 427.6,96.4 427.2,97.3 427,97.6 426.8,98.2 426.5,99.1 426.4,99.9 426.3,100.8 426.3,101.7 426.4,102.6 426.5,103.5 426.7,104.4 426.9,105.3 427,105.9 427.1,106.2 427.3,107.1 427.5,108 427.5,108.9 427.5,109.8 427.4,110.7 427.1,111.6 427,111.7 426.7,112.5 426.2,113.4 426,113.6 425.6,114.3 425,115.2 424.4,116.1 424,116.8 423.9,117 423.4,117.9 423,118.8 422.7,119.7 422.5,120.6 422.3,121.5 422.3,122.4 422.5,123.3 422.7,124.2 423,124.7 423.1,125 423.7,125.9 424,126.3 424.4,126.8 425,127.4 425.4,127.7 426,128.2 426.7,128.6 427,128.8 428,129.4 428.3,129.5 429.1,129.9 430.1,130.2 430.7,130.4 431.1,130.6 432.1,130.8 433.1,131 434.1,131.2 435,131.3Z"/>
<path fill-rule="evenodd" fill="rgb(255,213,0)" stroke="#000" stroke-opacity="0.75" stroke-width="0.5" d="M435,129.5 435.1,129.5 436.1,129.7 437.1,129.7 438.1,129.7 439.1,129.7 440.2,129.6 440.8,129.5 441.2,129.5 442.2,129.3 443.2,129.1 444.2,128.8 444.7,128.6 445.2,128.4 446.2,128 446.8,127.7 447.2,127.5 448.2,126.9 448.4,126.8 449.2,126.1 449.5,125.9 450.3,125.1 450.3,125 450.9,124.2 451.3,123.4 451.3,123.3 451.5,122.4 451.6,121.5 451.4,120.6 451.3,120 451.2,119.7 450.7,118.8 450.3,118 450.2,117.9 449.5,117 449.2,116.7 448.7,116.1 448.2,115.5 447.9,115.2 447.2,114.5 447,114.3 446.2,113.5 446.1,113.4 445.3,112.5 445.2,112.4 444.6,111.6 444.2,110.9 444.1,110.7 443.8,109.8 443.7,108.9 443.9,108 444.2,107.1 444.2,107 444.5,106.2 444.8,105.3 445.1,104.4 445.2,104.2 445.4,103.5 445.5,102.6 445.6,101.7 445.6,100.8 445.5,99.9 445.2,99.1 444.8,98.2 444.2,97.3 443.3,96.4 443.2,96.2 442.2,95.5 442.1,95.5 441.2,95 440.2,94.6 440,94.6 439.1,94.4 438.1,94.3 437.1,94.3 436.1,94.4 435.4,94.6 435.1,94.6 434.1,95 433.3,95.5 433.1,95.6 432.1,96.3 432.1,96.4 431.3,97.3 431.1,97.5 430.7,98.2 430.3,99.1 430.1,99.9 430.1,100 430,100.8 430,101.7 430.1,102.5 430.1,102.6 430.3,103.5 430.6,104.4 430.9,105.3 431.1,105.8 431.3,106.2 431.6,107.1 431.9,108 432.1,108.7 432.1,108.9 432.1,109.8 432.1,110 431.9,110.7 431.5,111.6 431.1,112.2 430.9,112.5 430.1,113.4 430.1,113.5 429.3,114.3 429.1,114.6 428.6,115.2 428,115.8 427.8,116.1 427.1,117 427,117.1 426.5,117.9 426,118.7 426,118.8 425.6,119.7 425.4,120.6 425.2,121.5 425.2,122.4 425.4,123.3 425.7,124.2 426,124.7 426.2,125 427,125.9 427,126 428,126.8 428,126.9 429.1,127.6 429.4,127.7 430.1,128.1 431.1,128.5 431.3,128.6 432.1,128.9 433.1,129.2 434.1,129.4 435,129.5Z"/>
<path fill-rule="evenodd" fill="rgb(255,42,0)" stroke="#000" stroke-opacity="0.75" stroke-width="0.5" d="M435,127.7 435.1,127.8 436.1,127.9 437.1,128 438.1,128 439.1,127.9 440.2,127.8 440.8,127.7 441.2,127.7 442.2,127.4 443.2,127.1 443.9,126.8 444.2,126.7 445.2,126.2 445.6,125.9 446.2,125.5 446.7,125 447.2,124.5 447.5,124.2 448,123.3 448.2,122.4 448.2,122.3 448.3,121.5 448.2,121.3 448.1,120.6 447.8,119.7 447.2,118.8 446.5,117.9 446.2,117.6 445.6,117 445.2,116.6 444.5,116.1 444.2,115.9 443.2,115.2 442.2,114.6 441.4,114.3 441.2,114.2 440.2,113.8 439.1,113.5 438.1,113.4 437.1,113.5 436.1,113.7 435.1,114 434.5,114.3 434.1,114.5 433.1,115 432.8,115.2 432.1,115.7 431.6,116.1 431.1,116.5 430.6,117 430.1,117.5 429.7,117.9 429.1,118.8 429,118.8 428.5,119.7 428.2,120.6 428.1,121.5 428.1,122.4 428.3,123.3 428.7,124.2 429.1,124.6 429.4,125 430.1,125.6 430.5,125.9 431.1,126.3 432,126.8 432.1,126.9 433.1,127.2 434.1,127.5 435,127.7ZM436.9,103.5 437.1,103.7 438.1,103.7 438.6,103.5 439.1,103.2 439.7,102.6 440.1,101.7 440.1,100.8 439.7,99.9 439.1,99.4 438.4,99.1 438.1,99 437.1,99 437,99.1 436.1,99.5 435.7,99.9 435.3,100.8 435.4,101.7 435.8,102.6 436.1,103 436.9,103.5Z"/>
<path fill-rule="evenodd" fill="rgb(128,0,0)" stroke="#000" stroke-opacity="0.7" stroke-width="0.5" d="M436.4,125.9 437.1,126 438.1,126 439.1,126 439.3,125.9 440.2,125.8 441.2,125.5 442.2,125.1 442.3,125 443.2,124.5 443.6,124.2 444.2,123.5 444.4,123.3 444.7,122.4 444.8,121.5 444.5,120.6 444.2,119.9 444,119.7 443.2,118.8 442.2,118 441.9,117.9 441.2,117.5 440.2,117.1 439.4,117 439.1,116.9 438.1,116.8 437.1,116.9 436.4,117 436.1,117 435.1,117.3 434.1,117.8 434,117.9 433.1,118.5 432.7,118.8 432.1,119.5 431.9,119.7 431.4,120.6 431.2,121.5 431.2,122.4 431.6,123.3 432.1,123.9 432.3,124.2 433.1,124.8 433.5,125 434.1,125.3 435.1,125.7 436.1,125.9 436.4,125.9Z"/>
</g>
<!-- T4-C1 -->
<clipPath id="c3"><polygon points="536,137.6 678.6,11.9 678.6,137.6"/></clipPath>
<polygon points="536,137.6 678.6,11.9 678.6,137.6" fill="rgb(2,4,143)"/>
<g clip-path="url(#c3)">
<path fill-rule="evenodd" fill="rgb(0,42,255)" d="M604.8,135.8 605.2,135.9 606.3,136 607.3,136.1 608.3,136.2 609.3,136.3 610.3,136.3 611.4,136.3 612.4,136.3 613.4,136.3 614.4,136.2 615.4,136.1 616.4,136 617.5,135.9 618.1,135.8 618.5,135.7 619.5,135.6 620.5,135.4 621.5,135.2 622.6,135 622.7,134.9 623.6,134.7 624.6,134.4 625.6,134.1 626,134 626.6,133.8 627.7,133.5 628.5,133.1 628.7,133.1 629.7,132.6 630.6,132.2 630.7,132.2 631.7,131.6 632.3,131.3 632.7,131 633.7,130.4 633.8,130.4 634.8,129.6 634.9,129.5 635.8,128.8 636,128.6 636.8,127.7 637.6,126.8 637.8,126.5 638.3,125.9 638.8,125 638.9,124.8 639.2,124.1 639.5,123.2 639.6,122.3 639.7,121.4 639.7,120.5 639.6,119.6 639.4,118.7 639.2,117.8 638.9,117 638.8,116.9 638.5,116.1 638,115.2 637.8,114.8 637.5,114.3 637,113.4 636.8,113.1 636.5,112.5 635.9,111.6 635.8,111.4 635.4,110.7 634.9,109.8 634.8,109.5 634.5,108.9 634.1,108 633.8,107.1 633.8,107 633.5,106.2 633.3,105.3 633.1,104.4 632.9,103.5 632.8,102.6 632.7,102.6 632.6,101.7 632.4,100.8 632.2,99.9 631.9,99 631.7,98.5 631.6,98.1 631.3,97.2 630.9,96.3 630.7,95.9 630.5,95.4 630,94.5 629.7,94 629.5,93.6 628.9,92.7 628.7,92.4 628.2,91.8 627.7,91.2 627.4,90.9 626.6,90.1 626.6,90 625.6,89.2 625.6,89.1 624.6,88.3 624.4,88.2 623.6,87.6 623.1,87.3 622.6,87 621.6,86.4 621.5,86.4 620.5,85.9 619.6,85.5 619.5,85.5 618.5,85.1 617.5,84.8 616.9,84.6 616.4,84.5 615.4,84.3 614.4,84.1 613.4,84 612.4,83.9 611.4,83.8 610.3,83.8 609.3,83.9 608.3,84 607.3,84.1 606.3,84.3 605.2,84.5 604.8,84.6 604.2,84.8 603.2,85.1 602.2,85.5 601.2,85.9 600.2,86.4 600.1,86.5 599.1,87 598.7,87.3 598.1,87.7 597.4,88.2 597.1,88.5 596.3,89.1 596.1,89.4 595.4,90 595,90.4 594.6,90.9 594,91.6 593.9,91.8 593.3,92.7 593,93.1 592.7,93.6 592.3,94.5 592,95.2 591.9,95.4 591.6,96.3 591.3,97.2 591.1,98.1 591,99 591,99.2 590.9,99.9 590.8,100.8 590.8,101.7 590.9,102.6 590.9,103.5 591,103.8 591,104.4 591.1,105.3 591.2,106.2 591.2,107.1 591.3,108 591.3,108.9 591.2,109.8 591,110.7 591,110.8 590.8,111.6 590.5,112.5 590.1,113.4 590,113.7 589.7,114.3 589.3,115.2 588.9,116 588.9,116.1 588.5,116.9 588.2,117.8 587.9,118.7 587.6,119.6 587.5,120.5 587.4,121.4 587.4,122.3 587.5,123.2 587.6,124.1 587.9,125 587.9,125.1 588.2,125.9 588.7,126.8 588.9,127.2 589.3,127.7 590,128.6 590.8,129.5 591,129.7 591.8,130.4 592,130.6 593,131.3 594,132 594.3,132.2 595,132.6 596,133.1 596.1,133.1 597.1,133.6 598.1,134 599.1,134.4 600.1,134.7 600.8,134.9 601.2,135 602.2,135.3 603.2,135.5 604.2,135.7 604.8,135.8Z"/>
<path fill-rule="evenodd" fill="rgb(0,212,255)" stroke="#000" stroke-opacity="0.1" stroke-width="0.5" d="M606.1,133.1 606.3,133.1 607.3,133.3 608.3,133.4 609.3,133.5 610.3,133.5 611.4,133.5 612.4,133.5 613.4,133.4 614.4,133.4 615.4,133.3 616.4,133.1 617.5,132.9 618.5,132.8 619.5,132.5 620.5,132.3 620.6,132.2 621.5,132 622.6,131.6 623.4,131.3 623.6,131.3 624.6,130.8 625.5,130.4 625.6,130.4 626.6,129.8 627.2,129.5 627.7,129.3 628.6,128.6 628.7,128.6 629.7,127.8 629.7,127.7 630.7,126.8 631.4,125.9 631.7,125.4 632,125 632.4,124.1 632.7,123.2 632.7,123 632.9,122.3 632.9,121.4 632.9,120.5 632.7,120 632.7,119.6 632.4,118.7 632.1,117.8 631.7,117.1 631.7,116.9 631.2,116.1 630.7,115.3 630.6,115.2 630,114.3 629.7,113.8 629.4,113.4 628.8,112.5 628.7,112.3 628.3,111.6 627.8,110.7 627.7,110.3 627.5,109.8 627.2,108.9 627.1,108 627,107.1 627,106.2 627,105.3 627,104.4 627,103.5 626.9,102.6 626.9,101.7 626.8,100.8 626.6,99.9 626.4,99 626.2,98.1 625.8,97.2 625.6,96.7 625.4,96.3 624.9,95.4 624.6,94.9 624.3,94.5 623.7,93.6 623.6,93.5 622.8,92.7 622.6,92.4 621.9,91.8 621.5,91.5 620.7,90.9 620.5,90.8 619.5,90.2 619.2,90 618.5,89.6 617.5,89.2 617.3,89.1 616.4,88.8 615.4,88.5 614.4,88.3 614.1,88.2 613.4,88.1 612.4,88 611.4,87.9 610.3,87.9 609.3,88 608.3,88.1 607.6,88.2 607.3,88.3 606.3,88.5 605.2,88.8 604.5,89.1 604.2,89.2 603.2,89.7 602.5,90 602.2,90.2 601.2,90.9 601.1,90.9 600.1,91.7 600,91.8 599.1,92.6 599,92.7 598.3,93.6 598.1,93.8 597.6,94.5 597.1,95.4 596.7,96.3 596.3,97.2 596.1,98 596.1,98.1 595.9,99 595.7,99.9 595.7,100.8 595.7,101.7 595.7,102.6 595.8,103.5 595.9,104.4 596.1,105.1 596.1,105.3 596.2,106.2 596.4,107.1 596.4,108 596.5,108.9 596.4,109.8 596.3,110.7 596.1,111.4 596,111.6 595.7,112.5 595.2,113.4 595,113.7 594.8,114.3 594.3,115.2 594,115.7 593.8,116.1 593.4,116.9 593,117.7 593,117.8 592.6,118.7 592.3,119.6 592.2,120.5 592.1,121.4 592.1,122.3 592.2,123.2 592.4,124.1 592.7,125 593,125.7 593.1,125.9 593.7,126.8 594,127.2 594.5,127.7 595,128.3 595.4,128.6 596.1,129.1 596.6,129.5 597.1,129.9 598,130.4 598.1,130.5 599.1,131 599.8,131.3 600.1,131.5 601.2,131.9 602.2,132.2 603.2,132.5 604.2,132.8 605.2,133 606.1,133.1Z"/>
<path fill-rule="evenodd" fill="rgb(128,255,128)" stroke="#000" stroke-opacity="0.45" stroke-width="0.5" d="M608.2,131.3 608.3,131.3 609.3,131.4 610.3,131.5 611.4,131.5 612.4,131.5 613.4,131.4 614.1,131.3 614.4,131.3 615.4,131.2 616.4,131 617.5,130.8 618.5,130.5 618.8,130.4 619.5,130.2 620.5,129.8 621.3,129.5 621.5,129.4 622.6,129 623.2,128.6 623.6,128.4 624.6,127.8 624.7,127.7 625.6,127 625.8,126.8 626.6,126 626.7,125.9 627.4,125 627.7,124.7 628,124.1 628.3,123.2 628.5,122.3 628.5,121.4 628.4,120.5 628.2,119.6 627.9,118.7 627.7,118.3 627.4,117.8 626.9,116.9 626.6,116.6 626.2,116.1 625.6,115.3 625.5,115.2 624.8,114.3 624.6,114 624.1,113.4 623.6,112.6 623.5,112.5 622.9,111.6 622.6,110.8 622.5,110.7 622.2,109.8 622.1,108.9 622.1,108 622.2,107.1 622.3,106.2 622.4,105.3 622.6,104.6 622.6,104.4 622.7,103.5 622.8,102.6 622.8,101.7 622.7,100.8 622.6,99.9 622.6,99.7 622.4,99 622.1,98.1 621.7,97.2 621.5,96.9 621.2,96.3 620.5,95.4 619.7,94.5 619.5,94.3 618.6,93.6 618.5,93.5 617.5,92.8 617.3,92.7 616.4,92.3 615.4,91.9 615.3,91.8 614.4,91.5 613.4,91.3 612.4,91.2 611.4,91.1 610.3,91.1 609.3,91.2 608.3,91.3 607.3,91.6 606.5,91.8 606.3,91.9 605.2,92.3 604.5,92.7 604.2,92.9 603.2,93.6 602.2,94.5 601.4,95.4 601.2,95.7 600.7,96.3 600.3,97.2 600.1,97.5 599.9,98.1 599.7,99 599.5,99.9 599.4,100.8 599.4,101.7 599.5,102.6 599.6,103.5 599.8,104.4 600,105.3 600.1,105.8 600.2,106.2 600.4,107.1 600.6,108 600.7,108.9 600.6,109.8 600.5,110.7 600.2,111.6 600.1,111.6 599.8,112.5 599.3,113.4 599.1,113.6 598.7,114.3 598.1,115.1 598.1,115.2 597.5,116.1 597.1,116.7 597,116.9 596.5,117.8 596.1,118.7 595.7,119.6 595.5,120.5 595.4,121.4 595.4,122.3 595.5,123.2 595.8,124.1 596.1,124.7 596.2,125 596.8,125.9 597.1,126.3 597.5,126.8 598.1,127.4 598.5,127.7 599.1,128.2 599.8,128.6 600.1,128.8 601.2,129.4 601.5,129.5 602.2,129.8 603.2,130.2 603.8,130.4 604.2,130.5 605.2,130.8 606.3,131 607.3,131.2 608.2,131.3Z"/>
<path fill-rule="evenodd" fill="rgb(255,213,0)" stroke="#000" stroke-opacity="0.75" stroke-width="0.5" d="M608.2,129.5 608.3,129.5 609.3,129.6 610.3,129.7 611.4,129.7 612.4,129.7 613.4,129.6 614,129.5 614.4,129.5 615.4,129.3 616.4,129.1 617.5,128.8 617.9,128.6 618.5,128.4 619.5,128 620.1,127.7 620.5,127.5 621.5,126.9 621.7,126.8 622.6,126.1 622.8,125.9 623.6,125.1 623.6,125 624.3,124.1 624.6,123.4 624.7,123.2 624.9,122.3 624.9,121.4 624.8,120.5 624.6,120 624.5,119.6 624.1,118.7 623.6,118 623.5,117.8 622.8,116.9 622.6,116.6 622.1,116.1 621.5,115.5 621.2,115.2 620.5,114.5 620.3,114.3 619.5,113.5 619.4,113.4 618.6,112.5 618.5,112.4 617.8,111.6 617.5,110.9 617.3,110.7 617.1,109.8 617,108.9 617.2,108 617.4,107.1 617.5,107 617.8,106.2 618.1,105.3 618.4,104.4 618.5,104.1 618.6,103.5 618.8,102.6 618.9,101.7 618.9,100.8 618.7,99.9 618.5,99.1 618.5,99 618,98.1 617.5,97.2 617.4,97.2 616.6,96.3 616.4,96.2 615.4,95.4 614.4,94.9 613.4,94.5 613.2,94.5 612.4,94.3 611.4,94.2 610.3,94.2 609.3,94.3 608.6,94.5 608.3,94.6 607.3,95 606.4,95.4 606.3,95.5 605.2,96.3 604.4,97.2 604.2,97.5 603.8,98.1 603.4,99 603.2,99.9 603.1,100.8 603.1,101.7 603.2,102.4 603.2,102.6 603.4,103.5 603.7,104.4 604,105.3 604.2,105.7 604.4,106.2 604.8,107.1 605.1,108 605.2,108.7 605.3,108.9 605.3,109.8 605.2,110 605.1,110.7 604.6,111.6 604.2,112.1 604,112.5 603.3,113.4 603.2,113.4 602.5,114.3 602.2,114.6 601.7,115.2 601.2,115.7 600.9,116.1 600.2,116.9 600.1,117.1 599.6,117.8 599.1,118.7 598.7,119.6 598.5,120.5 598.3,121.4 598.3,122.3 598.5,123.2 598.8,124.1 599.1,124.7 599.3,125 600.1,125.9 600.1,126 601.1,126.8 601.2,126.9 602.2,127.5 602.5,127.7 603.2,128.1 604.2,128.5 604.5,128.6 605.2,128.9 606.3,129.2 607.3,129.4 608.2,129.5Z"/>
<path fill-rule="evenodd" fill="rgb(255,42,0)" stroke="#000" stroke-opacity="0.75" stroke-width="0.5" d="M608.2,127.7 608.3,127.7 609.3,127.9 610.3,128 611.4,128 612.4,127.9 613.4,127.8 614,127.7 614.4,127.7 615.4,127.4 616.4,127.1 617.1,126.8 617.5,126.7 618.5,126.2 618.9,125.9 619.5,125.4 620,125 620.5,124.5 620.8,124.1 621.3,123.2 621.5,122.3 621.6,121.4 621.5,121.3 621.4,120.5 621.1,119.6 620.5,118.8 620.5,118.7 619.8,117.8 619.5,117.5 618.9,116.9 618.5,116.6 617.8,116.1 617.5,115.8 616.4,115.2 615.4,114.6 614.7,114.3 614.4,114.1 613.4,113.7 612.4,113.5 611.4,113.4 610.3,113.4 609.3,113.6 608.3,114 607.7,114.3 607.3,114.4 606.3,115 606,115.2 605.2,115.7 604.7,116.1 604.2,116.5 603.7,116.9 603.2,117.4 602.8,117.8 602.2,118.7 601.7,119.6 601.3,120.5 601.2,121.4 601.2,122.3 601.4,123.2 601.8,124.1 602.2,124.6 602.5,125 603.2,125.6 603.6,125.9 604.2,126.3 605.2,126.8 606.3,127.2 607.3,127.5 608.2,127.7ZM610.1,103.5 610.3,103.6 611.4,103.6 611.8,103.5 612.4,103.2 612.9,102.6 613.3,101.7 613.4,100.8 612.9,99.9 612.4,99.4 611.6,99 611.4,98.9 610.3,98.9 610.2,99 609.3,99.5 608.9,99.9 608.5,100.8 608.6,101.7 609,102.6 609.3,103 610.1,103.5Z"/>
<path fill-rule="evenodd" fill="rgb(128,0,0)" stroke="#000" stroke-opacity="0.7" stroke-width="0.5" d="M609.6,125.9 610.3,126 611.4,126 612.4,126 612.6,125.9 613.4,125.8 614.4,125.5 615.4,125.1 615.6,125 616.4,124.5 616.9,124.1 617.5,123.5 617.7,123.2 618,122.3 618,121.4 617.8,120.5 617.5,119.9 617.3,119.6 616.5,118.7 616.4,118.7 615.4,118 615.1,117.8 614.4,117.5 613.4,117.1 612.7,116.9 612.4,116.9 611.4,116.8 610.3,116.8 609.6,116.9 609.3,117 608.3,117.3 607.3,117.8 607.1,117.8 606.3,118.5 605.9,118.7 605.2,119.5 605.1,119.6 604.6,120.5 604.4,121.4 604.4,122.3 604.7,123.2 605.2,123.9 605.4,124.1 606.3,124.8 606.7,125 607.3,125.3 608.3,125.6 609.3,125.9 609.6,125.9Z"/>
</g>
<!-- T1-C2 -->
<clipPath id="c4"><polygon points="16.5,296.5 147.7,163.6 147.7,296.5"/></clipPath>
<polygon points="16.5,296.5 147.7,163.6 147.7,296.5" fill="rgb(2,4,143)"/>
<g clip-path="url(#c4)">
<path fill-rule="evenodd" fill="rgb(0,0,220)" d="M86.3,296.5 86.8,296.5 87.7,296.5 88.6,296.5 89.6,296.5 90.5,296.5 91.4,296.5 92.4,296.5 93.3,296.5 94.3,296.5 95.2,296.5 96.1,296.5 97.1,296.5 98,296.5 98.9,296.5 99.9,296.5 100.8,296.5 101.7,296.5 102.7,296.5 103.6,296.5 104.6,296.5 105.5,296.5 106.4,296.5 107.4,296.5 108.3,296.5 109.2,296.5 110.2,296.5 111.1,296.5 112.1,296.5 113,296.5 113.9,296.5 114.9,296.5 115.8,296.5 116.7,296.5 117.7,296.5 118.6,296.5 119.5,296.5 120.5,296.5 121.4,296.5 122.4,296.5 123.3,296.5 124.2,296.5 125.2,296.5 126.1,296.5 127,296.5 128,296.5 128.9,296.5 129.9,296.5 130.8,296.5 131.7,296.5 132.7,296.5 133.2,296.5 133.6,296 134,295.6 134.5,294.8 134.7,294.6 135.4,293.7 135.5,293.5 136,292.7 136.4,292 136.6,291.8 137.1,290.8 137.3,290.3 137.6,289.9 138.1,288.9 138.3,288.4 138.5,288 138.9,287 139.2,286.1 139.6,285.1 139.9,284.2 140.1,283.2 140.2,283.1 140.4,282.3 140.6,281.3 140.8,280.4 141,279.4 141.1,278.7 141.1,278.5 141.3,277.5 141.4,276.6 141.5,275.6 141.5,274.7 141.5,273.7 141.5,272.8 141.5,271.8 141.3,270.9 141.2,269.9 141.1,269.4 141,269 140.8,268 140.5,267.1 140.2,266.1 139.8,265.2 139.4,264.2 139.2,263.8 139,263.3 138.5,262.3 138.3,261.9 138,261.4 137.4,260.4 137.3,260.3 136.8,259.5 136.4,258.8 136.2,258.5 135.6,257.6 135.5,257.5 134.9,256.6 134.5,256.1 134.3,255.7 133.6,254.7 133.1,253.8 132.7,253 132.6,252.8 132.2,251.9 131.8,250.9 131.7,250.8 131.5,250 131.3,249 131.1,248.1 130.9,247.1 130.8,246.6 130.7,246.2 130.6,245.2 130.5,244.3 130.4,243.3 130.3,242.4 130.2,241.4 130.1,240.5 130,239.5 129.9,238.6 129.9,238 129.8,237.6 129.7,236.7 129.6,235.7 129.5,234.8 129.4,233.8 129.2,232.9 129.1,231.9 128.9,231 128.9,230.8 128.8,230.1 128.6,229.1 128.5,228.2 128.3,227.2 128.1,226.3 128,225.8 127.9,225.3 127.7,224.4 127.5,223.4 127.2,222.5 127,221.8 127,221.5 126.7,220.6 126.5,219.6 126.2,218.7 126.1,218.5 125.9,217.7 125.5,216.8 125.2,215.8 125.2,215.7 124.8,214.9 124.5,213.9 124.2,213.4 124.1,213 123.6,212 123.3,211.3 123.2,211.1 122.7,210.1 122.4,209.6 122.1,209.2 121.5,208.2 121.4,208 120.9,207.3 120.5,206.7 120.2,206.3 119.5,205.6 119.4,205.4 118.6,204.6 118.4,204.4 117.7,203.8 117.3,203.5 116.7,203.1 115.8,202.5 114.9,202.1 113.9,201.7 113.5,201.6 113,201.4 112.1,201.2 111.1,201.1 110.2,201.1 109.2,201.5 109.2,201.6 108.3,202.4 108.2,202.5 107.4,203.3 107.2,203.5 106.4,204.2 106.2,204.4 105.5,205.1 105.3,205.4 104.6,206 104.3,206.3 103.6,206.9 103.3,207.3 102.7,207.9 102.3,208.2 101.7,208.8 101.4,209.2 100.8,209.7 100.4,210.1 99.9,210.6 99.5,211.1 98.9,211.6 98.5,212 98,212.5 97.6,213 97.1,213.5 96.6,213.9 96.1,214.4 95.7,214.9 95.2,215.4 94.8,215.8 94.3,216.4 93.9,216.8 93.3,217.4 93,217.7 92.4,218.5 92.2,218.7 91.4,219.5 91.4,219.6 90.8,220.6 90.6,221.5 90.5,222.2 90.5,222.5 90.3,223.4 90.1,224.4 90,225.3 89.8,226.3 89.7,227.2 89.6,228.2 89.6,228.4 89.5,229.1 89.4,230.1 89.3,231 89.2,231.9 89.1,232.9 89,233.8 88.9,234.8 88.9,235.7 88.8,236.7 88.7,237.6 88.7,238.6 88.6,239.5 88.6,239.9 88.6,240.5 88.6,241.4 88.5,242.4 88.5,243.3 88.4,244.3 88.3,245.2 88.3,246.2 88.2,247.1 88.1,248.1 88,249 87.9,250 87.7,250.9 87.7,251.2 87.5,251.9 87.3,252.8 87,253.8 86.8,254.5 86.7,254.7 86.3,255.7 85.9,256.6 85.8,256.8 85.5,257.6 85,258.5 84.9,258.9 84.6,259.5 84.1,260.4 83.9,260.9 83.7,261.4 83.3,262.3 83,262.9 82.8,263.3 82.4,264.2 82.1,265.1 82,265.2 81.7,266.1 81.3,267.1 81.1,267.8 81.1,268 80.8,269 80.6,269.9 80.4,270.9 80.3,271.8 80.2,272.5 80.2,272.8 80.1,273.7 80.1,274.7 80.1,275.6 80.1,276.6 80.2,277.5 80.2,277.7 80.3,278.5 80.3,279.4 80.4,280.4 80.6,281.3 80.7,282.3 80.9,283.2 81.1,284.2 81.1,284.3 81.3,285.1 81.6,286.1 81.8,287 82.1,287.8 82.1,288 82.4,288.9 82.8,289.9 83,290.4 83.2,290.8 83.6,291.8 83.9,292.5 84.1,292.7 84.5,293.7 84.9,294.3 85.1,294.6 85.7,295.6 85.8,295.8 86.3,296.5Z"/>
<path fill-rule="evenodd" fill="rgb(0,58,255)" d="M92.1,296.5 92.4,296.5 93.3,296.5 94.3,296.5 95.2,296.5 96.1,296.5 97.1,296.5 98,296.5 98.9,296.5 99.9,296.5 100.8,296.5 101.7,296.5 102.7,296.5 103.6,296.5 104.6,296.5 105.5,296.5 106.4,296.5 107.4,296.5 108.3,296.5 109.2,296.5 110.2,296.5 111.1,296.5 112.1,296.5 113,296.5 113.9,296.5 114.9,296.5 115.8,296.5 116.7,296.5 117.7,296.5 118.6,296.5 119.5,296.5 120.5,296.5 121.4,296.5 122.4,296.5 123.3,296.5 124.2,296.5 125.2,296.5 125.3,296.5 126.1,295.9 126.6,295.6 127,295.2 127.7,294.6 128,294.3 128.7,293.7 128.9,293.4 129.6,292.7 129.9,292.4 130.4,291.8 130.8,291.2 131.1,290.8 131.7,289.9 132.3,288.9 132.7,288.3 132.9,288 133.4,287 133.6,286.5 133.8,286.1 134.2,285.1 134.5,284.2 134.6,284.2 134.9,283.2 135.2,282.3 135.4,281.3 135.5,281.2 135.7,280.4 135.9,279.4 136,278.5 136.2,277.5 136.3,276.6 136.3,275.6 136.4,274.7 136.4,273.7 136.3,272.8 136.2,271.8 136,270.9 135.8,269.9 135.5,269 135.1,268 134.7,267.1 134.5,266.8 134.2,266.1 133.7,265.2 133.6,265.1 133.1,264.2 132.7,263.6 132.4,263.3 131.7,262.3 131,261.4 130.8,261.1 130.3,260.4 129.9,259.8 129.6,259.5 129,258.5 128.9,258.4 128.4,257.6 128,256.8 127.9,256.6 127.5,255.7 127.1,254.7 127,254.6 126.8,253.8 126.6,252.8 126.4,251.9 126.3,250.9 126.1,250 126.1,249.7 126,249 126,248.1 125.9,247.1 125.8,246.2 125.7,245.2 125.7,244.3 125.6,243.3 125.5,242.4 125.4,241.4 125.4,240.5 125.3,239.5 125.2,238.6 125.2,238.5 125.1,237.6 125,236.7 124.9,235.7 124.7,234.8 124.6,233.8 124.4,232.9 124.3,231.9 124.2,231.7 124.1,231 123.9,230.1 123.7,229.1 123.5,228.2 123.3,227.4 123.3,227.2 123,226.3 122.7,225.3 122.4,224.4 122.4,224.1 122.1,223.4 121.8,222.5 121.4,221.5 121,220.6 120.6,219.6 120.5,219.4 120.1,218.7 119.6,217.7 119.5,217.6 119,216.8 118.6,216.2 118.3,215.8 117.7,215 117.6,214.9 116.7,214 116.7,213.9 115.8,213.2 115.5,213 114.9,212.5 114,212 113.9,212 113,211.6 112.1,211.3 111.1,211.1 110.9,211.1 110.2,211 109.2,210.9 108.3,210.9 107.4,210.9 106.4,211 106,211.1 105.5,211.1 104.6,211.2 103.6,211.3 102.7,211.5 101.7,211.8 101.2,212 100.8,212.2 99.9,212.7 99.5,213 98.9,213.4 98.4,213.9 98,214.3 97.5,214.9 97.1,215.5 96.8,215.8 96.3,216.8 96.1,217 95.8,217.7 95.3,218.7 95.2,219 94.9,219.6 94.6,220.6 94.3,221.5 94.2,221.5 93.9,222.5 93.7,223.4 93.4,224.4 93.3,224.8 93.2,225.3 93,226.3 92.8,227.2 92.6,228.2 92.4,229.1 92.4,229.5 92.3,230.1 92.1,231 92,231.9 91.9,232.9 91.8,233.8 91.7,234.8 91.6,235.7 91.5,236.7 91.4,237.3 91.4,237.6 91.3,238.6 91.3,239.5 91.2,240.5 91.2,241.4 91.1,242.4 91.1,243.3 91,244.3 91,245.2 90.9,246.2 90.8,247.1 90.8,248.1 90.8,249 90.7,250 90.6,250.9 90.5,251.9 90.5,252.1 90.4,252.8 90.3,253.8 90.1,254.7 89.9,255.7 89.6,256.6 89.6,256.8 89.3,257.6 89,258.5 88.7,259.5 88.6,259.6 88.3,260.4 87.8,261.4 87.7,261.7 87.4,262.3 86.9,263.3 86.8,263.6 86.4,264.2 85.9,265.2 85.8,265.4 85.5,266.1 85.1,267.1 84.9,267.6 84.7,268 84.4,269 84.1,269.9 83.9,270.7 83.9,270.9 83.7,271.8 83.6,272.8 83.5,273.7 83.5,274.7 83.5,275.6 83.5,276.6 83.6,277.5 83.7,278.5 83.8,279.4 83.9,280.4 84.1,281.3 84.3,282.3 84.5,283.2 84.8,284.2 84.9,284.6 85,285.1 85.3,286.1 85.7,287 85.8,287.4 86.1,288 86.5,288.9 86.8,289.5 86.9,289.9 87.5,290.8 87.7,291.2 88,291.8 88.6,292.6 88.7,292.7 89.4,293.7 89.6,293.9 90.2,294.6 90.5,295 91.1,295.6 91.4,295.9 92.1,296.5Z"/>
<path fill-rule="evenodd" fill="rgb(0,151,255)" stroke="#000" stroke-opacity="0.15" stroke-width="0.5" d="M98.5,296.5 98.9,296.5 99.9,296.5 100.8,296.5 101.7,296.5 102.7,296.5 103.6,296.5 104.6,296.5 105.5,296.5 106.4,296.5 107.4,296.5 108.3,296.5 109.2,296.5 110.2,296.5 111.1,296.5 112.1,296.5 113,296.5 113.9,296.5 114.9,296.5 115.8,296.5 116.7,296.5 117.3,296.5 117.7,296.4 118.6,296 119.5,295.7 119.8,295.6 120.5,295.2 121.4,294.8 121.7,294.6 122.4,294.2 123.2,293.7 123.3,293.6 124.2,292.9 124.5,292.7 125.2,292.2 125.6,291.8 126.1,291.3 126.6,290.8 127,290.3 127.5,289.9 128,289.2 128.2,288.9 128.9,288 128.9,287.9 129.5,287 129.9,286.4 130.1,286.1 130.5,285.1 130.8,284.6 131,284.2 131.4,283.2 131.7,282.3 131.7,282.2 132,281.3 132.3,280.4 132.5,279.4 132.7,278.5 132.8,277.5 132.9,276.6 133,275.6 133,274.7 133,273.7 132.9,272.8 132.8,271.8 132.7,271.4 132.5,270.9 132.2,269.9 131.9,269 131.7,268.7 131.4,268 130.9,267.1 130.8,266.9 130.3,266.1 129.9,265.5 129.6,265.2 128.9,264.2 128.2,263.3 128,263 127.4,262.3 127,261.8 126.7,261.4 126.1,260.5 126,260.4 125.4,259.5 125.2,259 124.9,258.5 124.5,257.6 124.2,257 124.1,256.6 123.8,255.7 123.6,254.7 123.4,253.8 123.3,252.8 123.3,252.7 123.2,251.9 123.2,250.9 123.1,250 123.1,249 123,248.1 123,247.1 122.9,246.2 122.8,245.2 122.8,244.3 122.7,243.3 122.6,242.4 122.5,241.4 122.4,240.5 122.4,239.8 122.3,239.5 122.2,238.6 122.1,237.6 122,236.7 121.8,235.7 121.6,234.8 121.5,233.8 121.4,233.6 121.3,232.9 121,231.9 120.8,231 120.5,230.1 120.5,229.8 120.3,229.1 119.9,228.2 119.6,227.2 119.5,227.1 119.2,226.3 118.8,225.3 118.6,224.9 118.3,224.4 117.8,223.4 117.7,223.2 117.2,222.5 116.7,221.9 116.5,221.5 115.8,220.8 115.6,220.6 114.9,219.9 114.5,219.6 113.9,219.2 113,218.7 112.1,218.3 111.1,218 110.2,217.8 109.2,217.7 108.5,217.7 108.3,217.7 108.1,217.7 107.4,217.7 106.4,217.8 105.5,217.9 104.6,218 103.6,218.1 102.7,218.3 101.7,218.6 101.6,218.7 100.8,219 100,219.6 99.9,219.7 98.9,220.5 98.9,220.6 98.1,221.5 98,221.7 97.5,222.5 97.1,223.2 97,223.4 96.5,224.4 96.1,225.3 95.8,226.3 95.5,227.2 95.2,228.1 95.2,228.2 94.9,229.1 94.7,230.1 94.5,231 94.3,231.9 94.3,232.1 94.1,232.9 94,233.8 93.8,234.8 93.7,235.7 93.6,236.7 93.5,237.6 93.4,238.6 93.3,239.2 93.3,239.5 93.2,240.5 93.1,241.4 93.1,242.4 93,243.3 93,244.3 92.9,245.2 92.9,246.2 92.8,247.1 92.8,248.1 92.7,249 92.7,250 92.7,250.9 92.7,251.9 92.6,252.8 92.5,253.8 92.4,254.7 92.4,254.9 92.3,255.7 92.1,256.6 91.9,257.6 91.7,258.5 91.4,259.4 91.4,259.5 91.1,260.4 90.7,261.4 90.5,261.7 90.2,262.3 89.7,263.3 89.6,263.6 89.2,264.2 88.7,265.2 88.6,265.3 88.2,266.1 87.7,267.1 87.7,267.2 87.3,268 86.9,269 86.8,269.5 86.6,269.9 86.4,270.9 86.1,271.8 86,272.8 85.9,273.7 85.9,274.7 85.9,275.6 85.9,276.6 86,277.5 86.1,278.5 86.2,279.4 86.4,280.4 86.6,281.3 86.8,282 86.8,282.3 87.1,283.2 87.4,284.2 87.7,285.1 88.1,286.1 88.5,287 88.6,287.2 89,288 89.5,288.9 89.6,289 90.1,289.9 90.5,290.4 90.8,290.8 91.4,291.6 91.6,291.8 92.4,292.6 92.5,292.7 93.3,293.5 93.5,293.7 94.3,294.2 94.8,294.6 95.2,294.9 96.1,295.4 96.4,295.6 97.1,295.9 98,296.3 98.5,296.5Z"/>
<path fill-rule="evenodd" fill="rgb(0,243,255)" stroke="#000" stroke-opacity="0.3" stroke-width="0.5" d="M102.2,294.6 102.7,294.7 103.6,294.8 104.6,294.9 105.5,294.9 106.4,294.9 107.4,294.9 108.3,294.9 109.2,294.9 110.2,294.9 111.1,294.8 112.1,294.7 112.9,294.6 113,294.6 113.9,294.4 114.9,294.2 115.8,294 116.7,293.7 116.9,293.7 117.7,293.4 118.6,293 119.2,292.7 119.5,292.5 120.5,292 121,291.8 121.4,291.5 122.4,290.8 123.3,290.1 123.6,289.9 124.2,289.2 124.6,288.9 125.2,288.3 125.4,288 126.1,287.1 126.2,287 126.9,286.1 127,285.8 127.5,285.1 128,284.2 128.5,283.2 128.9,282.3 128.9,282.1 129.2,281.3 129.5,280.4 129.7,279.4 129.9,278.9 130,278.5 130.1,277.5 130.2,276.6 130.3,275.6 130.4,274.7 130.3,273.7 130.2,272.8 130,271.8 129.9,271.2 129.8,270.9 129.4,269.9 129,269 128.9,268.9 128.4,268 128,267.3 127.8,267.1 127.1,266.1 127,266 126.4,265.2 126.1,264.9 125.6,264.2 125.2,263.7 124.8,263.3 124.2,262.6 124,262.3 123.3,261.4 122.6,260.4 122.4,260 122.1,259.5 121.7,258.5 121.4,257.9 121.3,257.6 121.1,256.6 120.9,255.7 120.7,254.7 120.6,253.8 120.6,252.8 120.6,251.9 120.6,250.9 120.6,250 120.6,249 120.6,248.1 120.5,247.1 120.5,246.6 120.5,246.2 120.4,245.2 120.3,244.3 120.2,243.3 120.1,242.4 120,241.4 119.9,240.5 119.7,239.5 119.6,238.6 119.5,238.3 119.4,237.6 119.2,236.7 119,235.7 118.8,234.8 118.6,234.1 118.5,233.8 118.2,232.9 117.9,231.9 117.7,231.3 117.6,231 117.1,230.1 116.7,229.2 116.7,229.1 116.1,228.2 115.8,227.7 115.4,227.2 114.9,226.5 114.6,226.3 113.9,225.6 113.6,225.3 113,224.9 112.1,224.4 112.1,224.3 111.1,224 110.2,223.7 109.2,223.6 108.3,223.6 107.4,223.6 106.4,223.6 105.5,223.7 104.6,223.8 103.6,224 102.7,224.2 102.3,224.4 101.7,224.6 100.8,225.1 100.6,225.3 99.9,225.9 99.6,226.3 98.9,227 98.8,227.2 98.2,228.2 98,228.6 97.7,229.1 97.3,230.1 97.1,230.7 97,231 96.7,231.9 96.4,232.9 96.2,233.8 96.1,234 96,234.8 95.8,235.7 95.6,236.7 95.5,237.6 95.3,238.6 95.2,239.5 95.2,239.6 95.1,240.5 95,241.4 94.9,242.4 94.9,243.3 94.8,244.3 94.7,245.2 94.7,246.2 94.6,247.1 94.6,248.1 94.6,249 94.6,250 94.6,250.9 94.6,251.9 94.6,252.8 94.5,253.8 94.5,254.7 94.4,255.7 94.3,256.6 94.3,257.1 94.2,257.6 94,258.5 93.8,259.5 93.5,260.4 93.3,260.9 93.1,261.4 92.7,262.3 92.4,262.9 92.2,263.3 91.6,264.2 91.4,264.5 91.1,265.2 90.5,266.1 90,267.1 89.6,267.9 89.5,268 89.1,269 88.7,269.9 88.6,270.1 88.4,270.9 88.2,271.8 88,272.8 87.9,273.7 87.8,274.7 87.9,275.6 87.9,276.6 88,277.5 88.1,278.5 88.3,279.4 88.5,280.4 88.6,281.1 88.7,281.3 89,282.3 89.3,283.2 89.6,284 89.6,284.2 90,285.1 90.5,286.1 91,287 91.4,287.7 91.6,288 92.3,288.9 92.4,289 93.1,289.9 93.3,290 94.1,290.8 94.3,291 95.2,291.7 95.2,291.8 96.1,292.4 96.7,292.7 97.1,292.9 98,293.4 98.6,293.7 98.9,293.8 99.9,294.1 100.8,294.3 101.7,294.5 102.2,294.6Z"/>
<path fill-rule="evenodd" fill="rgb(81,255,174)" stroke="#000" stroke-opacity="0.5" stroke-width="0.5" d="M100.5,291.8 100.8,291.9 101.7,292.1 102.7,292.2 103.6,292.4 104.6,292.4 105.5,292.5 106.4,292.5 107.4,292.5 108.3,292.5 109.2,292.5 110.2,292.5 111.1,292.4 112.1,292.3 113,292.1 113.9,291.9 114.6,291.8 114.9,291.7 115.8,291.4 116.7,291.1 117.4,290.8 117.7,290.7 118.6,290.2 119.3,289.9 119.5,289.7 120.5,289.1 120.8,288.9 121.4,288.4 122,288 122.4,287.6 123,287 123.3,286.7 123.8,286.1 124.2,285.6 124.6,285.1 125.2,284.2 125.8,283.2 126.1,282.6 126.3,282.3 126.7,281.3 127,280.4 127,280.3 127.3,279.4 127.5,278.5 127.7,277.5 127.9,276.6 128,275.6 128,275.2 128,274.7 128,274 128,273.7 127.8,272.8 127.6,271.8 127.3,270.9 127,270.3 126.9,269.9 126.4,269 126.1,268.6 125.7,268 125.2,267.3 125,267.1 124.2,266.1 123.4,265.2 123.3,265.1 122.5,264.2 122.4,264.1 121.6,263.3 121.4,263.1 120.7,262.3 120.5,262 120,261.4 119.5,260.7 119.4,260.4 118.9,259.5 118.6,258.8 118.5,258.5 118.2,257.6 118,256.6 117.9,255.7 117.8,254.7 117.8,253.8 117.8,252.8 117.9,251.9 117.9,250.9 118,250 118,249 118,248.1 118,247.1 117.9,246.2 117.8,245.2 117.7,244.3 117.7,243.9 117.6,243.3 117.5,242.4 117.3,241.4 117.1,240.5 117,239.5 116.7,238.6 116.5,237.6 116.2,236.7 115.9,235.7 115.8,235.6 115.4,234.8 115,233.8 114.9,233.6 114.4,232.9 113.9,232.2 113.7,231.9 113,231.2 112.8,231 112.1,230.5 111.3,230.1 111.1,229.9 110.2,229.6 109.2,229.4 108.3,229.3 107.4,229.3 106.4,229.4 105.5,229.5 104.6,229.6 103.6,229.8 102.8,230.1 102.7,230.1 101.7,230.6 101.2,231 100.8,231.3 100.3,231.9 99.9,232.4 99.6,232.9 99.1,233.8 98.9,234.1 98.7,234.8 98.3,235.7 98,236.7 97.8,237.6 97.6,238.6 97.4,239.5 97.2,240.5 97.1,241.4 97.1,241.5 97,242.4 96.9,243.3 96.8,244.3 96.7,245.2 96.6,246.2 96.5,247.1 96.5,248.1 96.5,249 96.6,250 96.6,250.9 96.7,251.9 96.7,252.8 96.7,253.8 96.7,254.7 96.7,255.7 96.7,256.6 96.6,257.6 96.5,258.5 96.2,259.5 96.1,259.8 96,260.4 95.6,261.4 95.2,262.1 95.1,262.3 94.5,263.3 94.3,263.7 93.9,264.2 93.3,265.1 93.3,265.2 92.6,266.1 92.4,266.5 92,267.1 91.5,268 91.4,268.1 91,269 90.6,269.9 90.5,270.1 90.2,270.9 90,271.8 89.8,272.8 89.7,273.7 89.6,274.7 89.6,275.6 89.7,276.6 89.8,277.5 89.9,278.5 90.1,279.4 90.3,280.4 90.5,280.9 90.6,281.3 90.9,282.3 91.3,283.2 91.4,283.5 91.7,284.2 92.2,285.1 92.4,285.3 92.8,286.1 93.3,286.7 93.5,287 94.3,287.9 94.3,288 95.2,288.8 95.3,288.9 96.1,289.6 96.5,289.9 97.1,290.2 98,290.8 98.1,290.8 98.9,291.2 99.9,291.6 100.5,291.8Z"/>
<path fill-rule="evenodd" fill="rgb(174,255,81)" stroke="#000" stroke-opacity="0.7" stroke-width="0.5" d="M102,289.9 102.7,290 103.6,290.1 104.6,290.2 105.5,290.2 106.4,290.3 107.4,290.3 108.3,290.3 109.2,290.3 110.2,290.2 111.1,290.1 112.1,290 112.7,289.9 113,289.8 113.9,289.6 114.9,289.3 115.8,289 116,288.9 116.7,288.6 117.7,288.1 118,288 118.6,287.6 119.5,287 120.5,286.2 120.7,286.1 121.4,285.3 121.6,285.1 122.4,284.3 122.4,284.2 123.1,283.2 123.3,283 123.7,282.3 124.2,281.3 124.6,280.4 125,279.4 125.2,278.8 125.3,278.5 125.5,277.5 125.6,276.6 125.7,275.6 125.8,274.7 125.7,273.7 125.6,272.8 125.3,271.8 125.2,271.4 125,270.9 124.5,269.9 124.2,269.5 123.9,269 123.3,268.2 123.1,268 122.4,267.1 122.3,267.1 121.4,266.2 121.4,266.1 120.5,265.3 120.3,265.2 119.5,264.5 119.3,264.2 118.6,263.6 118.2,263.3 117.7,262.8 117.2,262.3 116.7,261.8 116.3,261.4 115.8,260.8 115.5,260.4 115,259.5 114.9,259.2 114.5,258.5 114.3,257.6 114.2,256.6 114.1,255.7 114.2,254.7 114.2,253.8 114.4,252.8 114.5,251.9 114.7,250.9 114.8,250 114.9,249.7 114.9,249 115,248.1 115,247.1 114.9,246.2 114.7,245.2 114.4,244.3 114.2,243.3 114,242.4 113.9,242.1 113.7,241.4 113.3,240.5 113,239.7 112.9,239.5 112.3,238.6 112.1,238.2 111.5,237.6 111.1,237.2 110.3,236.7 110.2,236.6 109.2,236.3 108.3,236.2 107.4,236.2 106.4,236.2 105.5,236.4 104.6,236.6 104.2,236.7 103.6,236.9 102.7,237.4 102.4,237.6 101.7,238.2 101.5,238.6 100.9,239.5 100.8,239.7 100.5,240.5 100.2,241.4 99.9,242.4 99.7,243.3 99.5,244.3 99.3,245.2 99.1,246.2 99,247.1 99,248.1 99.1,249 99.2,250 99.3,250.9 99.5,251.9 99.6,252.8 99.7,253.8 99.8,254.7 99.9,255.6 99.9,255.7 99.9,256.6 99.9,257.2 99.9,257.6 99.7,258.5 99.5,259.5 99.1,260.4 98.9,260.7 98.6,261.4 98,262.2 97.9,262.3 97.2,263.3 97.1,263.4 96.4,264.2 96.1,264.5 95.6,265.2 95.2,265.7 94.8,266.1 94.3,266.9 94.1,267.1 93.5,268 93.3,268.3 92.9,269 92.4,269.9 92.4,270 92,270.9 91.7,271.8 91.5,272.8 91.4,273 91.3,273.7 91.3,274.7 91.3,275.6 91.4,276.6 91.4,276.9 91.5,277.5 91.7,278.5 91.9,279.4 92.2,280.4 92.4,281 92.5,281.3 92.9,282.3 93.3,283.1 93.3,283.2 93.9,284.2 94.3,284.7 94.6,285.1 95.2,285.9 95.3,286.1 96.1,286.9 96.3,287 97.1,287.6 97.5,288 98,288.3 98.9,288.8 99.2,288.9 99.9,289.2 100.8,289.5 101.7,289.8 102,289.9Z"/>
<path fill-rule="evenodd" fill="rgb(255,243,0)" stroke="#000" stroke-opacity="0.7" stroke-width="0.5" d="M103.9,288 104.6,288 105.5,288.1 106.4,288.1 107.4,288.1 108.3,288.1 109.2,288.1 110.2,288 110.6,288 111.1,287.9 112.1,287.7 113,287.5 113.9,287.3 114.7,287 114.9,287 115.8,286.6 116.7,286.1 116.8,286.1 117.7,285.5 118.3,285.1 118.6,284.8 119.4,284.2 119.5,284 120.3,283.2 120.5,283 121.1,282.3 121.4,281.7 121.7,281.3 122.2,280.4 122.4,280.1 122.6,279.4 123,278.5 123.2,277.5 123.3,277.2 123.4,276.6 123.6,275.6 123.6,274.7 123.6,273.7 123.4,272.8 123.3,272.5 123.1,271.8 122.6,270.9 122.4,270.4 122,269.9 121.4,269.1 121.3,269 120.5,268.1 120.4,268 119.5,267.2 119.4,267.1 118.6,266.5 118.2,266.1 117.7,265.8 116.8,265.2 116.7,265.1 115.8,264.5 115.2,264.2 114.9,264 113.9,263.5 113.4,263.3 113,263 112.1,262.6 111.2,262.3 111.1,262.3 110.2,262 109.2,261.8 108.3,261.7 107.4,261.7 106.4,261.7 105.5,261.8 104.6,262 103.6,262.3 103.5,262.3 102.7,262.6 101.7,263 101.3,263.3 100.8,263.5 99.9,264.1 99.8,264.2 98.9,264.8 98.5,265.2 98,265.6 97.4,266.1 97.1,266.4 96.4,267.1 96.1,267.4 95.6,268 95.2,268.5 94.9,269 94.3,269.9 94.3,270 93.8,270.9 93.4,271.8 93.3,272.3 93.2,272.8 93,273.7 93,274.7 93,275.6 93.1,276.6 93.3,277.5 93.3,277.8 93.5,278.5 93.7,279.4 94.1,280.4 94.3,280.8 94.5,281.3 95,282.3 95.2,282.6 95.6,283.2 96.1,284 96.3,284.2 97.1,285 97.2,285.1 98,285.7 98.4,286.1 98.9,286.4 99.9,286.9 100.2,287 100.8,287.3 101.7,287.6 102.7,287.8 103.6,287.9 103.9,288Z"/>
<path fill-rule="evenodd" fill="rgb(255,151,0)" stroke="#000" stroke-opacity="0.7" stroke-width="0.5" d="M101.4,285.1 101.7,285.2 102.7,285.5 103.6,285.7 104.6,285.8 105.5,285.9 106.4,285.9 107.4,285.9 108.3,285.9 109.2,285.9 110.2,285.8 111.1,285.6 112.1,285.4 113,285.2 113.3,285.1 113.9,284.9 114.9,284.5 115.5,284.2 115.8,284 116.7,283.4 116.9,283.2 117.7,282.6 118,282.3 118.6,281.7 118.9,281.3 119.5,280.4 119.6,280.4 120.1,279.4 120.5,278.6 120.6,278.5 120.9,277.5 121.1,276.6 121.3,275.6 121.3,274.7 121.3,273.7 121.1,272.8 120.7,271.8 120.5,271.5 120.1,270.9 119.5,270.1 119.4,269.9 118.6,269.1 118.4,269 117.7,268.3 117.2,268 116.7,267.7 115.8,267.1 115.7,267.1 114.9,266.6 113.9,266.2 113.6,266.1 113,265.9 112.1,265.6 111.1,265.4 110.2,265.3 109.4,265.2 109.2,265.2 108.3,265.1 107.4,265.1 106.4,265.1 105.9,265.2 105.5,265.2 104.6,265.3 103.6,265.4 102.7,265.6 101.7,265.9 101.3,266.1 100.8,266.3 99.9,266.8 99.4,267.1 98.9,267.4 98.1,268 98,268.1 97.1,269 97.1,269.1 96.4,269.9 96.1,270.3 95.8,270.9 95.3,271.8 95.2,272.2 95,272.8 94.8,273.7 94.8,274.7 94.8,275.6 94.9,276.6 95.1,277.5 95.2,277.9 95.4,278.5 95.7,279.4 96.1,280.4 96.7,281.3 97.1,281.9 97.4,282.3 98,283 98.3,283.2 98.9,283.8 99.5,284.2 99.9,284.4 100.8,284.9 101.4,285.1Z"/>
<path fill-rule="evenodd" fill="rgb(238,30,0)" stroke="#000" stroke-opacity="0.7" stroke-width="0.5" d="M103.5,283.2 103.6,283.2 104.6,283.4 105.5,283.5 106.4,283.5 107.4,283.5 108.3,283.5 109.2,283.4 110.2,283.3 110.9,283.2 111.1,283.2 112.1,282.9 113,282.6 113.7,282.3 113.9,282.2 114.9,281.6 115.3,281.3 115.8,280.9 116.4,280.4 116.7,279.9 117.2,279.4 117.7,278.6 117.8,278.5 118.2,277.5 118.5,276.6 118.6,276.2 118.7,275.6 118.8,274.7 118.8,273.7 118.6,273.2 118.5,272.8 118,271.8 117.7,271.4 117.2,270.9 116.7,270.4 116.2,269.9 115.8,269.7 114.9,269.1 114.6,269 113.9,268.6 113,268.3 112.2,268 112.1,268 111.1,267.8 110.2,267.6 109.2,267.5 108.3,267.5 107.4,267.5 106.4,267.5 105.5,267.6 104.6,267.6 103.6,267.8 102.7,268 102.5,268 101.7,268.3 100.8,268.7 100.3,269 99.9,269.2 99,269.9 98.9,270 98.1,270.9 98,271 97.5,271.8 97.1,272.7 97,272.8 96.8,273.7 96.7,274.7 96.8,275.6 97,276.6 97.1,276.9 97.2,277.5 97.6,278.5 98,279.3 98.1,279.4 98.7,280.4 98.9,280.6 99.6,281.3 99.9,281.5 100.8,282.2 100.9,282.3 101.7,282.7 102.7,283 103.5,283.2Z"/>
<path fill-rule="evenodd" fill="rgb(135,0,0)" stroke="#000" stroke-opacity="0.55" stroke-width="0.5" d="M104.1,280.4 104.6,280.5 105.5,280.6 106.4,280.6 107.4,280.6 108.3,280.6 109.2,280.5 110.2,280.4 110.3,280.4 111.1,280.1 112.1,279.7 112.6,279.4 113,279.2 113.9,278.5 113.9,278.4 114.7,277.5 114.9,277.2 115.2,276.6 115.5,275.6 115.7,274.7 115.6,273.7 115.1,272.8 114.9,272.4 114.3,271.8 113.9,271.5 113,270.9 112.9,270.9 112.1,270.5 111.1,270.2 110.2,270 109.3,269.9 109.2,269.9 108.3,269.9 107.4,269.8 106.4,269.9 105.6,269.9 105.5,269.9 104.6,270 103.6,270.2 102.7,270.5 101.8,270.9 101.7,270.9 100.8,271.6 100.5,271.8 99.9,272.6 99.8,272.8 99.4,273.7 99.3,274.7 99.4,275.6 99.7,276.6 99.9,277 100.1,277.5 100.8,278.5 101.7,279.3 101.8,279.4 102.7,279.9 103.6,280.2 104.1,280.4Z"/>
</g>
<!-- T2-C2 -->
<clipPath id="c5"><polygon points="190.8,296.9 328.5,167.5 328.5,296.9"/></clipPath>
<polygon points="190.8,296.9 328.5,167.5 328.5,296.9" fill="rgb(2,4,143)"/>
<g clip-path="url(#c5)">
<path fill-rule="evenodd" fill="rgb(0,0,220)" d="M268.3,296.9 268.5,296.9 269.5,296.9 270.5,296.9 271.5,296.9 272.4,296.9 273.4,296.9 274.4,296.9 275.4,296.9 276.4,296.9 277.4,296.9 278.3,296.9 279.3,296.9 280.3,296.9 281.3,296.9 282.3,296.9 283.3,296.9 284.2,296.9 285.2,296.9 286.2,296.9 287.2,296.9 288.2,296.9 289.2,296.9 290.1,296.9 291.1,296.9 292.1,296.9 293.1,296.9 294.1,296.9 295.1,296.9 296,296.9 297,296.9 298,296.9 299,296.9 300,296.9 301,296.9 301.9,296.9 302.9,296.9 303.1,296.9 303.9,296.6 304.9,296.1 305.2,296 305.9,295.5 306.4,295.1 306.9,294.4 307.1,294.1 307.6,293.2 307.8,292.7 308.1,292.3 308.8,291.4 308.9,291.4 309.8,290.5 309.9,290.4 310.8,289.6 310.9,289.5 311.8,288.6 312.7,287.7 312.8,287.5 313.4,286.7 313.7,286.3 314.1,285.8 314.7,284.9 314.7,284.8 315.2,284 315.7,283 316.1,282.1 316.5,281.2 316.7,280.6 316.8,280.3 317.1,279.3 317.3,278.4 317.5,277.5 317.6,276.6 317.7,276 317.7,275.6 317.8,274.7 317.8,273.8 317.8,272.9 317.7,271.9 317.7,271.8 317.6,271 317.5,270.1 317.3,269.2 317.1,268.2 316.8,267.3 316.7,267 316.5,266.4 316.2,265.5 315.8,264.5 315.7,264.4 315.4,263.6 315,262.7 314.7,262.2 314.5,261.8 314,260.9 313.7,260.3 313.5,259.9 313.1,259 312.8,258.4 312.6,258.1 312.2,257.2 311.8,256.2 311.8,256.1 311.5,255.3 311.3,254.4 311.1,253.5 311,252.5 310.8,251.6 310.8,251.3 310.7,250.7 310.7,249.8 310.6,248.8 310.6,247.9 310.6,247 310.5,246.1 310.5,245.1 310.4,244.2 310.3,243.3 310.3,242.4 310.2,241.4 310.1,240.5 310,239.6 309.8,238.7 309.8,238.5 309.7,237.7 309.6,236.8 309.4,235.9 309.2,235 309,234 308.8,233.1 308.6,232.2 308.4,231.3 308.1,230.4 307.8,229.5 307.8,229.4 307.5,228.5 307.2,227.6 306.9,226.7 306.5,225.7 306.1,224.8 305.9,224.3 305.7,223.9 305.2,223 304.9,222.4 304.7,222 304.1,221.1 303.9,220.7 303.5,220.2 302.9,219.3 302.1,218.3 301.9,218.1 301.3,217.4 301,217 300.4,216.5 300,216.1 299.3,215.6 299,215.3 298,214.7 298,214.6 297,214.1 296.3,213.7 296,213.6 295.1,213.2 294.1,212.9 293.8,212.8 293.1,212.6 292.1,212.4 291.1,212.3 290.1,212.2 289.2,212.2 288.2,212.2 287.2,212.2 286.2,212.3 285.2,212.4 284.2,212.5 283.3,212.6 282.3,212.8 282,212.8 281.3,212.9 280.3,213.1 279.3,213.3 278.3,213.7 277.4,214.6 277.3,214.6 276.4,215.4 276.2,215.6 275.4,216.3 275.2,216.5 274.4,217.2 274.2,217.4 273.4,218.2 273.2,218.3 272.4,219.1 272.3,219.3 271.5,220 271.3,220.2 270.5,221 270.4,221.1 269.5,222 269,223 268.6,223.9 268.5,224.2 268.3,224.8 267.9,225.7 267.7,226.7 267.5,227.1 267.4,227.6 267.1,228.5 266.9,229.4 266.7,230.4 266.5,231.3 266.4,232.2 266.2,233.1 266,234 265.9,235 265.8,235.9 265.7,236.8 265.6,237.7 265.6,238.7 265.6,238.9 265.5,239.6 265.4,240.5 265.4,241.4 265.4,242.4 265.3,243.3 265.3,244.2 265.3,245.1 265.3,246.1 265.3,247 265.4,247.9 265.4,248.8 265.4,249.8 265.4,250.7 265.5,251.6 265.5,252.5 265.5,253.5 265.4,254.4 265.4,255.3 265.3,256.2 265.2,257.2 265,258.1 264.7,259 264.6,259.6 264.5,259.9 264.1,260.9 263.7,261.8 263.6,262.1 263.3,262.7 262.9,263.6 262.6,264.2 262.5,264.5 262,265.5 261.7,266.4 261.6,266.5 261.3,267.3 261,268.2 260.7,269.2 260.6,269.4 260.4,270.1 260.2,271 260,271.9 259.9,272.9 259.8,273.8 259.8,274.7 259.8,275.6 259.8,276.6 259.9,277.5 260,278.4 260.1,279.3 260.3,280.3 260.6,281.2 260.6,281.4 260.9,282.1 261.2,283 261.6,284 262,284.9 262.5,285.8 262.6,285.9 263.1,286.7 263.6,287.4 263.7,287.7 264.5,288.6 264.6,288.7 265.2,289.5 265.6,290 265.9,290.4 266.3,291.4 266.2,292.3 265.6,293.2 265.6,293.4 265.2,294.1 265.3,295.1 265.6,295.3 266.2,296 266.5,296.1 267.5,296.6 268.3,296.9Z"/>
<path fill-rule="evenodd" fill="rgb(0,58,255)" d="M275,296.9 275.4,296.9 276.4,296.9 277.4,296.9 278.3,296.9 279.3,296.9 280.3,296.9 281.3,296.9 282.3,296.9 283.3,296.9 284.2,296.9 285.2,296.9 286.2,296.9 287.2,296.9 288.2,296.9 289.2,296.9 290.1,296.9 291.1,296.9 292.1,296.9 293.1,296.9 294.1,296.9 294.5,296.9 295.1,296.8 296,296.6 297,296.3 298,296 299,295.4 299.6,295.1 300,294.4 300.1,294.1 300,293.2 300,292.7 299.9,292.3 300,292.2 300.5,291.4 301,291 301.8,290.4 301.9,290.4 302.9,289.8 303.4,289.5 303.9,289.2 304.8,288.6 304.9,288.5 305.9,287.8 306.1,287.7 306.9,287 307.2,286.7 307.8,286.1 308.1,285.8 308.8,285 308.9,284.9 309.6,284 309.8,283.6 310.2,283 310.7,282.1 310.8,282 311.2,281.2 311.5,280.3 311.8,279.6 311.9,279.3 312.1,278.4 312.3,277.5 312.4,276.6 312.5,275.6 312.5,274.7 312.5,273.8 312.4,272.9 312.2,271.9 312,271 311.8,270.1 311.5,269.2 311.1,268.2 310.8,267.6 310.7,267.3 310.2,266.4 309.8,265.7 309.7,265.5 309.2,264.5 308.8,264 308.6,263.6 308,262.7 307.8,262.4 307.5,261.8 307,260.9 306.9,260.7 306.5,259.9 306.1,259 305.9,258.4 305.8,258.1 305.5,257.2 305.4,256.2 305.3,255.3 305.2,254.4 305.2,253.5 305.2,252.5 305.2,251.6 305.3,250.7 305.3,249.8 305.4,248.8 305.4,247.9 305.4,247 305.4,246.1 305.4,245.1 305.4,244.2 305.4,243.3 305.3,242.4 305.3,241.4 305.2,240.5 305.1,239.6 305,238.7 304.9,238.2 304.8,237.7 304.7,236.8 304.5,235.9 304.3,235 304.1,234 303.9,233.6 303.8,233.1 303.5,232.2 303.2,231.3 302.9,230.6 302.9,230.4 302.5,229.4 302,228.5 301.9,228.3 301.6,227.6 301.1,226.7 301,226.5 300.5,225.7 300,225 299.8,224.8 299,223.9 299,223.8 298.2,223 298,222.8 297.1,222 297,221.9 296,221.2 295.8,221.1 295.1,220.6 294.1,220.2 293.1,219.8 292.1,219.5 291.2,219.3 291.1,219.2 290.1,219.1 289.2,219 288.2,218.9 287.2,218.9 286.2,218.9 285.2,219 284.2,219 283.3,219.1 282.3,219.2 281.5,219.3 281.3,219.3 280.3,219.4 279.3,219.6 278.3,219.9 277.4,220.2 276.4,220.7 275.7,221.1 275.4,221.3 274.4,222 274.4,222.1 273.5,223 273.4,223.1 272.8,223.9 272.4,224.3 272.1,224.8 271.6,225.7 271.5,225.9 271.1,226.7 270.7,227.6 270.5,228 270.3,228.5 269.9,229.4 269.6,230.4 269.5,230.9 269.4,231.3 269.1,232.2 268.9,233.1 268.7,234 268.5,235 268.5,235.2 268.4,235.9 268.2,236.8 268.1,237.7 268,238.7 267.9,239.6 267.9,240.5 267.8,241.4 267.8,242.4 267.7,243.3 267.7,244.2 267.7,245.1 267.8,246.1 267.8,247 267.8,247.9 267.9,248.8 267.9,249.8 268,250.7 268.1,251.6 268.1,252.5 268.2,253.5 268.3,254.4 268.3,255.3 268.3,256.2 268.2,257.2 268.2,258.1 268,259 267.8,259.9 267.6,260.9 267.5,261 267.3,261.8 266.9,262.7 266.5,263.6 266.1,264.5 265.7,265.5 265.6,265.7 265.2,266.4 264.8,267.3 264.6,268 264.5,268.2 264.1,269.2 263.8,270.1 263.6,271 263.6,271.1 263.4,271.9 263.2,272.9 263.1,273.8 263.1,274.7 263.1,275.6 263.1,276.6 263.2,277.5 263.3,278.4 263.5,279.3 263.6,279.6 263.8,280.3 264,281.2 264.4,282.1 264.6,282.4 264.8,283 265.4,284 265.6,284.3 265.9,284.9 266.5,285.7 266.6,285.8 267.4,286.7 267.5,286.9 268.3,287.7 268.5,287.8 269.4,288.6 269.5,288.7 270.5,289.4 270.6,289.5 271.5,290.2 271.7,290.4 272.3,291.4 271.9,292.3 271.5,292.6 270.9,293.2 270.5,293.7 270.2,294.1 270.3,295.1 270.5,295.2 271.5,295.9 271.7,296 272.4,296.2 273.4,296.5 274.4,296.8 275,296.9Z"/>
<path fill-rule="evenodd" fill="rgb(0,151,255)" stroke="#000" stroke-opacity="0.15" stroke-width="0.5" d="M276.6,296 277.4,296.1 278.3,296.3 279.3,296.4 280.3,296.5 281.3,296.6 282.3,296.6 283.3,296.7 284.2,296.7 285.2,296.7 286.2,296.7 287.2,296.6 288.2,296.5 289.2,296.4 290.1,296.3 291.1,296.2 292.1,296 292.3,296 293.1,295.7 294.1,295.3 294.6,295.1 295,294.1 294.1,293.2 293.1,292.6 292.4,292.3 292.1,292 291.3,291.4 292.1,291 293.1,290.6 293.5,290.4 294.1,290.3 295.1,290 296,289.7 296.6,289.5 297,289.4 298,289 299,288.6 299.1,288.6 300,288.2 301,287.7 301.1,287.7 301.9,287.2 302.6,286.7 302.9,286.5 303.9,285.8 304.9,284.9 305.8,284 305.9,283.9 306.6,283 306.9,282.6 307.2,282.1 307.8,281.2 307.8,281 308.2,280.3 308.6,279.3 308.8,278.5 308.9,278.4 309.1,277.5 309.2,276.6 309.3,275.6 309.3,274.7 309.2,273.8 309.1,272.9 308.9,271.9 308.8,271.6 308.7,271 308.4,270.1 308,269.2 307.8,268.9 307.5,268.2 307,267.3 306.9,267 306.5,266.4 305.9,265.5 305.9,265.4 305.3,264.5 304.9,263.9 304.7,263.6 304.1,262.7 303.9,262.4 303.6,261.8 303.1,260.9 302.9,260.5 302.7,259.9 302.4,259 302.1,258.1 302,257.2 301.9,256.7 301.9,256.2 301.9,255.3 301.9,254.4 301.9,254.2 302,253.5 302.1,252.5 302.2,251.6 302.3,250.7 302.4,249.8 302.5,248.8 302.6,247.9 302.6,247 302.7,246.1 302.7,245.1 302.7,244.2 302.6,243.3 302.6,242.4 302.5,241.4 302.4,240.5 302.3,239.6 302.2,238.7 302,237.7 301.9,237.6 301.8,236.8 301.6,235.9 301.3,235 301,234 300.7,233.1 300.3,232.2 300,231.5 299.8,231.3 299.4,230.4 299,229.7 298.8,229.4 298.2,228.5 298,228.3 297.4,227.6 297,227.1 296.5,226.7 296,226.2 295.5,225.7 295.1,225.4 294.1,224.8 293.1,224.3 292.1,223.9 292,223.9 291.1,223.6 290.1,223.4 289.2,223.3 288.2,223.2 287.2,223.1 286.2,223.1 285.2,223.1 284.2,223.2 283.3,223.2 282.3,223.3 281.3,223.4 280.3,223.5 279.3,223.7 278.8,223.9 278.3,224 277.4,224.4 276.6,224.8 276.4,224.9 275.4,225.7 275.3,225.7 274.4,226.6 274.4,226.7 273.6,227.6 273.4,227.8 273,228.5 272.5,229.4 272.4,229.5 272,230.4 271.6,231.3 271.5,231.7 271.3,232.2 271,233.1 270.7,234 270.5,235 270.5,235.1 270.3,235.9 270.1,236.8 270,237.7 269.8,238.7 269.7,239.6 269.6,240.5 269.6,241.4 269.5,242.4 269.5,243.3 269.5,244.2 269.5,245.1 269.5,246.1 269.6,247 269.6,247.9 269.7,248.8 269.8,249.8 269.9,250.7 270,251.6 270.1,252.5 270.2,253.5 270.3,254.4 270.4,255.3 270.5,256.1 270.5,256.2 270.5,257.2 270.5,258.1 270.5,258.2 270.4,259 270.2,259.9 270,260.9 269.7,261.8 269.5,262.5 269.4,262.7 269,263.6 268.6,264.5 268.5,264.7 268.2,265.5 267.7,266.4 267.5,266.8 267.3,267.3 266.9,268.2 266.5,269.2 266.2,270.1 265.9,271 265.7,271.9 265.6,272.8 265.5,272.9 265.4,273.8 265.3,274.7 265.3,275.6 265.4,276.6 265.5,277.5 265.6,277.8 265.7,278.4 265.9,279.3 266.2,280.3 266.5,281.2 267,282.1 267.5,283 268.1,284 268.5,284.4 268.9,284.9 269.5,285.5 269.8,285.8 270.5,286.4 270.9,286.7 271.5,287.2 272.2,287.7 272.4,287.8 273.4,288.4 273.9,288.6 274.4,288.9 275.4,289.3 276,289.5 276.4,289.7 277.4,290.1 278.3,290.4 278.5,290.4 279.3,291 279.8,291.4 279.3,291.5 278.3,292 277.9,292.3 277.4,292.5 276.4,292.8 275.6,293.2 275.4,293.4 274.4,294.1 274.3,294.1 274.4,294.7 274.4,295.1 275.4,295.5 276.4,295.9 276.6,296Z"/>
<path fill-rule="evenodd" fill="rgb(0,243,255)" stroke="#000" stroke-opacity="0.3" stroke-width="0.5" d="M279.5,295.1 280.3,295.2 281.3,295.4 282.3,295.5 283.3,295.6 284.2,295.6 285.2,295.6 286.2,295.5 287.2,295.4 288.2,295.2 289.1,295.1 289.2,294.8 289.3,294.1 289.2,294.1 288.2,293.8 287.2,293.6 286.2,293.5 285.2,293.4 284.2,293.4 283.3,293.4 282.3,293.5 281.3,293.7 280.3,293.9 279.4,294.1 279.5,295.1ZM281.1,288.6 281.3,288.6 282.3,288.7 283.3,288.8 284.2,288.8 285.2,288.8 286.2,288.8 287.2,288.8 288.2,288.8 289.2,288.7 290.1,288.7 290.9,288.6 291.1,288.6 292.1,288.4 293.1,288.3 294.1,288.1 295.1,287.8 295.6,287.7 296,287.5 297,287.2 298,286.8 298.2,286.7 299,286.4 300,285.8 301,285.2 301.4,284.9 301.9,284.5 302.6,284 302.9,283.7 303.5,283 303.9,282.6 304.3,282.1 304.9,281.3 305,281.2 305.5,280.3 305.9,279.5 305.9,279.3 306.3,278.4 306.5,277.5 306.7,276.6 306.8,275.6 306.8,274.7 306.7,273.8 306.6,272.9 306.3,271.9 306,271 305.9,270.6 305.7,270.1 305.2,269.2 304.9,268.6 304.7,268.2 304.2,267.3 303.9,266.9 303.5,266.4 302.9,265.5 302.2,264.5 301.9,264.1 301.6,263.6 301,262.7 300.4,261.8 300,261 299.9,260.9 299.5,259.9 299.2,259 299.1,258.1 299,257.2 299,256.2 299.1,255.3 299.2,254.4 299.4,253.5 299.5,252.5 299.7,251.6 299.9,250.7 300,249.9 300,249.8 300.1,248.8 300.3,247.9 300.3,247 300.4,246.1 300.4,245.1 300.4,244.2 300.4,243.3 300.4,242.4 300.3,241.4 300.2,240.5 300,239.6 300,239.4 299.8,238.7 299.6,237.7 299.4,236.8 299.1,235.9 299,235.7 298.7,235 298.3,234 298,233.4 297.9,233.1 297.3,232.2 297,231.8 296.7,231.3 296,230.5 295.9,230.4 295.1,229.5 295,229.4 294.1,228.7 293.8,228.5 293.1,228 292.1,227.6 291.1,227.2 290.1,226.9 289.2,226.7 288.7,226.7 288.2,226.6 287.2,226.5 286.2,226.5 285.2,226.5 284.2,226.6 283.3,226.6 282.6,226.7 282.3,226.7 281.3,226.8 280.3,226.9 279.3,227.1 278.3,227.4 278,227.6 277.4,227.9 276.4,228.5 275.4,229.4 274.6,230.4 274.4,230.6 274,231.3 273.4,232.2 273,233.1 272.6,234 272.4,234.6 272.3,235 272,235.9 271.8,236.8 271.6,237.7 271.5,238.6 271.4,238.7 271.3,239.6 271.2,240.5 271.1,241.4 271.1,242.4 271,243.3 271,244.2 271,245.1 271.1,246.1 271.1,247 271.2,247.9 271.3,248.8 271.4,249.8 271.5,249.9 271.6,250.7 271.7,251.6 271.9,252.5 272.1,253.5 272.2,254.4 272.4,255.3 272.4,255.6 272.5,256.2 272.6,257.2 272.6,258.1 272.6,259 272.5,259.9 272.4,260.1 272.3,260.9 272,261.8 271.6,262.7 271.5,263.1 271.2,263.6 270.7,264.5 270.5,265.1 270.3,265.5 269.8,266.4 269.5,267 269.3,267.3 268.9,268.2 268.5,269.2 268.1,270.1 267.8,271 267.6,271.9 267.5,272.4 267.4,272.9 267.3,273.8 267.2,274.7 267.2,275.6 267.3,276.6 267.4,277.5 267.5,278.1 267.6,278.4 267.9,279.3 268.2,280.3 268.5,280.9 268.6,281.2 269.2,282.1 269.5,282.6 269.8,283 270.5,283.8 270.6,284 271.5,284.7 271.6,284.9 272.4,285.5 272.8,285.8 273.4,286.2 274.4,286.7 275.4,287.2 276.4,287.6 276.7,287.7 277.4,287.9 278.3,288.1 279.3,288.3 280.3,288.5 281.1,288.6Z"/>
<path fill-rule="evenodd" fill="rgb(81,255,174)" stroke="#000" stroke-opacity="0.5" stroke-width="0.5" d="M279.8,286.7 280.3,286.8 281.3,287 282.3,287 283.3,287.1 284.2,287.1 285.2,287.2 286.2,287.2 287.2,287.2 288.2,287.1 289.2,287.1 290.1,287 291.1,286.9 292,286.7 292.1,286.7 293.1,286.5 294.1,286.3 295.1,286 295.7,285.8 296,285.7 297,285.3 297.8,284.9 298,284.8 299,284.2 299.4,284 300,283.6 300.7,283 301,282.8 301.7,282.1 301.9,281.8 302.5,281.2 302.9,280.5 303.1,280.3 303.6,279.3 303.9,278.6 304,278.4 304.3,277.5 304.5,276.6 304.6,275.6 304.6,274.7 304.5,273.8 304.3,272.9 304.1,271.9 303.9,271.5 303.7,271 303.3,270.1 302.9,269.4 302.8,269.2 302.2,268.2 301.9,267.8 301.6,267.3 301,266.5 300.9,266.4 300.2,265.5 300,265.3 299.4,264.5 299,264 298.6,263.6 298,262.8 297.9,262.7 297.3,261.8 297,261.3 296.7,260.9 296.3,259.9 296,259 295.9,258.1 295.9,257.2 296,256.2 296.2,255.3 296.5,254.4 296.7,253.5 297,252.5 297.3,251.6 297.5,250.7 297.7,249.8 297.9,248.8 298,248.4 298.1,247.9 298.2,247 298.3,246.1 298.3,245.1 298.4,244.2 298.3,243.3 298.3,242.4 298.2,241.4 298,240.5 297.8,239.6 297.6,238.7 297.3,237.7 297,237 297,236.8 296.6,235.9 296.1,235 296,234.9 295.5,234 295.1,233.5 294.8,233.1 294.1,232.4 293.9,232.2 293.1,231.6 292.7,231.3 292.1,230.9 291.1,230.5 290.8,230.4 290.1,230.1 289.2,229.9 288.2,229.7 287.2,229.6 286.2,229.6 285.2,229.6 284.2,229.6 283.3,229.7 282.3,229.7 281.3,229.8 280.3,230 279.3,230.2 279,230.4 278.3,230.6 277.4,231.2 277.2,231.3 276.4,232 276.1,232.2 275.4,233.1 274.8,234 274.4,234.7 274.3,235 273.9,235.9 273.6,236.8 273.4,237.3 273.3,237.7 273.1,238.7 272.9,239.6 272.8,240.5 272.6,241.4 272.6,242.4 272.5,243.3 272.5,244.2 272.5,245.1 272.6,246.1 272.7,247 272.8,247.9 272.9,248.8 273.1,249.8 273.3,250.7 273.4,251.3 273.5,251.6 273.8,252.5 274,253.5 274.3,254.4 274.4,254.8 274.6,255.3 274.8,256.2 275,257.2 275.1,258.1 275.1,259 275,259.9 274.7,260.9 274.4,261.6 274.3,261.8 273.9,262.7 273.4,263.6 272.9,264.5 272.4,265.3 272.3,265.5 271.8,266.4 271.5,266.9 271.2,267.3 270.8,268.2 270.5,268.8 270.3,269.2 269.9,270.1 269.6,271 269.5,271.3 269.3,271.9 269.1,272.9 269,273.8 268.9,274.7 268.9,275.6 269,276.6 269.1,277.5 269.3,278.4 269.5,278.9 269.7,279.3 270.1,280.3 270.5,281 270.6,281.2 271.3,282.1 271.5,282.3 272.1,283 272.4,283.4 273.2,284 273.4,284.2 274.4,284.8 274.5,284.9 275.4,285.4 276.4,285.8 277.4,286.2 278.3,286.4 279.3,286.7 279.8,286.7Z"/>
<path fill-rule="evenodd" fill="rgb(174,255,81)" stroke="#000" stroke-opacity="0.7" stroke-width="0.5" d="M278.5,284.9 279.3,285.1 280.3,285.3 281.3,285.4 282.3,285.5 283.3,285.6 284.2,285.6 285.2,285.7 286.2,285.7 287.2,285.6 288.2,285.6 289.2,285.5 290.1,285.4 291.1,285.3 292.1,285.1 293.1,284.9 293.2,284.9 294.1,284.6 295.1,284.3 295.9,284 296,283.9 297,283.4 297.7,283 298,282.8 299,282.1 300,281.2 300.8,280.3 301,280 301.4,279.3 301.9,278.4 301.9,278.2 302.2,277.5 302.4,276.6 302.5,275.6 302.5,274.7 302.4,273.8 302.2,272.9 302,271.9 301.9,271.9 301.6,271 301.1,270.1 301,269.9 300.5,269.2 300,268.4 299.8,268.2 299.1,267.3 299,267.2 298.2,266.4 298,266.2 297.3,265.5 297,265.2 296.4,264.5 296,264.2 295.4,263.6 295.1,263.3 294.4,262.7 294.1,262.4 293.4,261.8 293.1,261.4 292.6,260.9 292.1,260.2 291.9,259.9 291.5,259 291.4,258.1 291.6,257.2 292,256.2 292.1,256.1 292.5,255.3 293.1,254.4 293.1,254.3 293.6,253.5 294.1,252.5 294.5,251.6 294.9,250.7 295.1,250.3 295.3,249.8 295.5,248.8 295.8,247.9 296,247 296,246.5 296.1,246.1 296.2,245.1 296.2,244.2 296.2,243.3 296.1,242.4 296,242.1 295.9,241.4 295.7,240.5 295.5,239.6 295.2,238.7 295.1,238.4 294.7,237.7 294.2,236.8 294.1,236.6 293.6,235.9 293.1,235.4 292.7,235 292.1,234.5 291.5,234 291.1,233.8 290.1,233.3 289.5,233.1 289.2,233 288.2,232.8 287.2,232.7 286.2,232.6 285.2,232.6 284.2,232.6 283.3,232.7 282.3,232.8 281.3,232.9 280.3,233.1 280.1,233.1 279.3,233.4 278.3,233.9 278.1,234 277.4,234.6 277,235 276.4,235.7 276.2,235.9 275.7,236.8 275.4,237.5 275.3,237.7 274.9,238.7 274.7,239.6 274.5,240.5 274.4,240.8 274.3,241.4 274.2,242.4 274.1,243.3 274.1,244.2 274.2,245.1 274.2,246.1 274.3,247 274.4,247.4 274.5,247.9 274.7,248.8 275,249.8 275.3,250.7 275.4,251 275.7,251.6 276.1,252.5 276.4,253.1 276.6,253.5 277.1,254.4 277.4,254.8 277.7,255.3 278.2,256.2 278.3,256.4 278.8,257.2 279.1,258.1 279.1,259 278.9,259.9 278.3,260.7 278.3,260.9 277.6,261.8 277.4,262 276.8,262.7 276.4,263.2 276.1,263.6 275.4,264.4 275.3,264.5 274.5,265.5 274.4,265.6 273.8,266.4 273.4,267 273.2,267.3 272.6,268.2 272.4,268.5 272.1,269.2 271.6,270.1 271.5,270.5 271.2,271 270.9,271.9 270.7,272.9 270.5,273.8 270.5,274.7 270.5,275.6 270.6,276.6 270.7,277.5 271,278.4 271.4,279.3 271.5,279.4 271.9,280.3 272.4,281 272.6,281.2 273.4,282.1 274.4,282.9 274.5,283 275.4,283.6 276.1,284 276.4,284.1 277.4,284.5 278.3,284.9 278.5,284.9Z"/>
<path fill-rule="evenodd" fill="rgb(255,243,0)" stroke="#000" stroke-opacity="0.7" stroke-width="0.5" d="M281.2,284 281.3,284 282.3,284.1 283.3,284.2 284.2,284.2 285.2,284.2 286.2,284.2 287.2,284.2 288.2,284.2 289.2,284.1 290.1,284 291.1,283.8 292.1,283.6 293.1,283.3 293.9,283 294.1,283 295.1,282.6 295.9,282.1 296,282 297,281.4 297.3,281.2 298,280.6 298.3,280.3 299,279.5 299.1,279.3 299.7,278.4 300,277.8 300.1,277.5 300.4,276.6 300.5,275.6 300.5,274.7 300.4,273.8 300.2,272.9 300,272.2 299.9,271.9 299.4,271 299,270.3 298.8,270.1 298.1,269.2 298,269 297.3,268.2 297,268 296.3,267.3 296,267.1 295.2,266.4 295.1,266.3 294.1,265.6 293.9,265.5 293.1,265 292.3,264.5 292.1,264.4 291.1,264 290.1,263.6 289.2,263.3 288.2,263.1 287.2,263 286.2,263 285.2,263 284.2,263.1 283.3,263.2 282.3,263.3 281.3,263.6 281.1,263.6 280.3,263.9 279.3,264.3 278.9,264.5 278.3,264.8 277.4,265.5 276.4,266.3 276.3,266.4 275.4,267.3 274.6,268.2 274.4,268.5 274,269.2 273.4,270.1 272.9,271 272.6,271.9 272.4,272.4 272.3,272.9 272.1,273.8 272,274.7 272.1,275.6 272.2,276.6 272.4,277.5 272.4,277.6 272.7,278.4 273.2,279.3 273.4,279.6 273.9,280.3 274.4,280.9 274.7,281.2 275.4,281.7 275.9,282.1 276.4,282.4 277.4,282.9 277.7,283 278.3,283.3 279.3,283.6 280.3,283.8 281.2,284ZM282,252.5 282.3,252.6 283.3,252.7 284.2,252.9 285.2,253 286.2,253 287.2,252.9 288.2,252.6 288.4,252.5 289.2,252.2 290.1,251.6 290.2,251.6 291.1,250.8 291.2,250.7 291.9,249.8 292.1,249.5 292.5,248.8 292.9,247.9 293.1,247.5 293.2,247 293.4,246.1 293.6,245.1 293.6,244.2 293.6,243.3 293.4,242.4 293.2,241.4 293.1,241 292.9,240.5 292.5,239.6 292.1,239 291.9,238.7 291.1,237.9 291,237.7 290.1,237.1 289.6,236.8 289.2,236.6 288.2,236.3 287.2,236.1 286.2,236 285.2,236 284.2,236 283.3,236.1 282.3,236.2 281.3,236.3 280.3,236.6 279.8,236.8 279.3,237 278.4,237.7 278.3,237.8 277.6,238.7 277.4,239.1 277.1,239.6 276.7,240.5 276.4,241.4 276.4,241.8 276.3,242.4 276.2,243.3 276.2,244.2 276.2,245.1 276.3,246.1 276.4,246.4 276.5,247 276.8,247.9 277.2,248.8 277.4,249.2 277.7,249.8 278.3,250.6 278.4,250.7 279.3,251.5 279.6,251.6 280.3,252 281.3,252.4 282,252.5Z"/>
<path fill-rule="evenodd" fill="rgb(255,151,0)" stroke="#000" stroke-opacity="0.7" stroke-width="0.5" d="M279.7,282.1 280.3,282.3 281.3,282.5 282.3,282.6 283.3,282.7 284.2,282.7 285.2,282.7 286.2,282.7 287.2,282.7 288.2,282.7 289.2,282.6 290.1,282.4 291.1,282.2 291.6,282.1 292.1,282 293.1,281.6 294.1,281.2 295.1,280.6 295.6,280.3 296,279.9 296.6,279.3 297,278.9 297.4,278.4 297.9,277.5 298,277.3 298.3,276.6 298.4,275.6 298.5,274.7 298.3,273.8 298.1,272.9 298,272.7 297.7,271.9 297.1,271 297,270.9 296.4,270.1 296,269.7 295.5,269.2 295.1,268.8 294.3,268.2 294.1,268.1 293.1,267.5 292.8,267.3 292.1,267 291.1,266.6 290.5,266.4 290.1,266.3 289.2,266.1 288.2,265.9 287.2,265.8 286.2,265.8 285.2,265.8 284.2,265.8 283.3,265.9 282.3,266 281.3,266.2 280.7,266.4 280.3,266.5 279.3,266.9 278.5,267.3 278.3,267.4 277.4,268.1 277.1,268.2 276.4,268.9 276.2,269.2 275.4,270.1 274.8,271 274.4,271.8 274.3,271.9 274,272.9 273.8,273.8 273.7,274.7 273.7,275.6 273.9,276.6 274.2,277.5 274.4,278 274.6,278.4 275.2,279.3 275.4,279.5 276.1,280.3 276.4,280.5 277.4,281.1 277.4,281.2 278.3,281.6 279.3,282 279.7,282.1ZM283.7,247 284.2,247.1 285.2,247.2 286.2,247.2 287,247 287.2,246.9 288.2,246.3 288.4,246.1 288.9,245.1 289.1,244.2 288.9,243.3 288.4,242.4 288.2,242.1 287.3,241.4 287.2,241.4 286.2,241.2 285.2,241.1 284.2,241.2 283.3,241.4 283.1,241.4 282.3,241.7 281.3,242.2 281.1,242.4 280.5,243.3 280.3,244 280.3,244.2 280.3,244.4 280.5,245.1 281.2,246.1 281.3,246.1 282.3,246.6 283.3,246.9 283.7,247Z"/>
<path fill-rule="evenodd" fill="rgb(238,30,0)" stroke="#000" stroke-opacity="0.7" stroke-width="0.5" d="M279.4,280.3 280.3,280.6 281.3,280.8 282.3,281 283.3,281.1 284.2,281.1 285.2,281.2 286.2,281.2 287.2,281.1 288.2,281.1 289.2,280.9 290.1,280.7 291.1,280.5 291.7,280.3 292.1,280.1 293.1,279.6 293.6,279.3 294.1,279 294.7,278.4 295.1,278 295.4,277.5 295.9,276.6 296,276 296.1,275.6 296.2,274.7 296,273.9 296,273.8 295.7,272.9 295.1,271.9 295.1,271.8 294.4,271 294.1,270.7 293.3,270.1 293.1,270 292.1,269.4 291.7,269.2 291.1,268.9 290.1,268.6 289.2,268.3 288.7,268.2 288.2,268.2 287.2,268.1 286.2,268 285.2,268 284.2,268.1 283.3,268.2 282.6,268.2 282.3,268.3 281.3,268.5 280.3,268.8 279.4,269.2 279.3,269.2 278.3,269.9 278,270.1 277.4,270.7 277.1,271 276.4,271.9 276.4,272.1 276,272.9 275.7,273.8 275.6,274.7 275.6,275.6 275.8,276.6 276.2,277.5 276.4,277.8 276.9,278.4 277.4,278.9 277.8,279.3 278.3,279.7 279.3,280.2 279.4,280.3Z"/>
<path fill-rule="evenodd" fill="rgb(135,0,0)" stroke="#000" stroke-opacity="0.55" stroke-width="0.5" d="M280.4,278.4 281.3,278.8 282.3,279 283.3,279.1 284.2,279.2 285.2,279.3 286.2,279.3 287.2,279.2 288.2,279.1 289.2,278.9 290.1,278.6 290.6,278.4 291.1,278.1 292.1,277.5 292.8,276.6 293.1,276 293.2,275.6 293.3,274.7 293.1,273.8 292.5,272.9 292.1,272.4 291.6,271.9 291.1,271.6 290.1,271.1 289.9,271 289.2,270.8 288.2,270.6 287.2,270.4 286.2,270.4 285.2,270.4 284.2,270.4 283.3,270.5 282.3,270.7 281.3,270.9 281.1,271 280.3,271.4 279.5,271.9 279.3,272.1 278.7,272.9 278.3,273.5 278.2,273.8 278,274.7 278.1,275.6 278.3,276.5 278.4,276.6 279.1,277.5 279.3,277.7 280.3,278.4 280.4,278.4Z"/>
</g>
<!-- T3-C2 -->
<clipPath id="c6"><polygon points="362.9,296.3 500.5,170.8 500.5,296.3"/></clipPath>
<polygon points="362.9,296.3 500.5,170.8 500.5,296.3" fill="rgb(2,4,143)"/>
<g clip-path="url(#c6)">
<path fill-rule="evenodd" fill="rgb(0,0,220)" d="M439.7,296.3 440.6,296.3 441.6,296.3 442.5,296.3 443.5,296.3 444.5,296.3 445.5,296.3 446.5,296.3 447.4,296.3 448.4,296.3 449.4,296.3 450.4,296.3 451.4,296.3 452.4,296.3 453.3,296.3 454.3,296.3 455.3,296.3 456.3,296.3 457.3,296.3 458.3,296.3 459.2,296.3 460.2,296.3 461.2,296.3 462.2,296.3 463.2,296.3 464.1,296.3 465.1,296.3 466.1,296.3 467.1,296.3 468.1,296.3 469.1,296.3 470,296.3 471,296.3 472,296.3 473,296.3 474,296.3 475,296.3 475.9,296.3 476.4,296.3 476.9,296.1 477.9,295.7 478.4,295.4 478.9,295.1 479.7,294.5 479.9,294.4 480.6,293.6 480.9,293.4 481.4,292.7 481.8,292.2 482.2,291.8 482.8,291.3 483.2,290.9 483.8,290.3 484.1,290 484.8,289.4 485.1,289.1 485.8,288.4 485.9,288.2 486.7,287.3 487.4,286.4 487.7,286 488.1,285.5 488.6,284.6 488.7,284.5 489.1,283.8 489.6,282.9 489.7,282.6 490,282 490.4,281.1 490.7,280.2 490.7,280.1 490.9,279.3 491.2,278.4 491.3,277.5 491.5,276.6 491.6,275.7 491.6,274.8 491.7,274.5 491.7,273.9 491.7,273 491.7,272.7 491.6,272.1 491.6,271.2 491.5,270.3 491.3,269.4 491.1,268.5 490.9,267.6 490.7,266.7 490.7,266.6 490.5,265.8 490.2,264.9 490,264 489.7,263.2 489.7,263.1 489.4,262.2 489.2,261.3 489,260.4 488.8,259.5 488.7,258.7 488.6,257.8 488.5,256.9 488.5,256 488.5,255.1 488.5,254.2 488.5,253.3 488.5,252.4 488.5,251.5 488.4,250.6 488.4,249.7 488.3,248.8 488.3,247.9 488.2,247 488.1,246.1 488,245.2 487.9,244.3 487.7,243.4 487.7,243.3 487.6,242.5 487.5,241.6 487.3,240.7 487.1,239.8 486.9,238.9 486.7,238.3 486.7,238 486.5,237.1 486.2,236.2 485.9,235.3 485.8,234.9 485.6,234.4 485.3,233.6 485,232.7 484.8,232.2 484.6,231.8 484.2,230.9 483.8,230 483.8,229.9 483.4,229.1 482.9,228.2 482.8,228 482.4,227.3 481.8,226.4 481.3,225.5 480.9,224.9 480.6,224.6 480,223.7 479.9,223.6 479.2,222.8 478.9,222.4 478.4,221.9 477.9,221.3 477.6,221 476.9,220.4 476.6,220.1 475.9,219.5 475.5,219.2 475,218.8 474.3,218.3 474,218.1 473,217.5 472.8,217.4 472,217 471.1,216.5 471,216.5 470,216.1 469.1,215.7 468.7,215.6 468.1,215.4 467.1,215.2 466.1,215 465.1,214.8 464.3,214.7 464.1,214.7 463.2,214.6 462.2,214.6 461.2,214.6 460.2,214.7 459.8,214.7 459.2,214.8 458.3,214.9 457.3,215 456.3,215.1 455.3,215.3 454.3,215.5 453.9,215.6 453.3,215.8 452.4,216 451.4,216.4 451.1,216.5 450.4,216.8 449.4,217.2 449.1,217.4 448.4,217.8 447.6,218.3 447.4,218.4 446.5,219.2 446.4,219.2 445.5,220.1 444.5,221 443.5,221.9 442.7,222.8 442.5,222.9 442,223.7 441.6,224.3 441.3,224.6 440.8,225.5 440.6,225.8 440.2,226.4 439.7,227.3 439.6,227.6 439.3,228.2 438.9,229.1 438.6,229.6 438.5,230 438.1,230.9 437.8,231.8 437.6,232.2 437.4,232.7 437.1,233.6 436.9,234.4 436.6,235.3 436.4,236.2 436.2,237.1 436,238 435.8,238.9 435.7,239.8 435.5,240.7 435.4,241.6 435.2,242.5 435.1,243.4 435,244.3 435,245.2 434.9,246.1 434.8,247 434.8,247.9 434.7,248.8 434.7,249.7 434.7,250.1 434.7,250.6 434.7,251.5 434.7,252.4 434.7,253.3 434.7,254.1 434.7,254.2 434.7,255.1 434.6,256 434.6,256.9 434.5,257.8 434.3,258.7 434.1,259.5 433.9,260.4 433.7,261 433.6,261.3 433.2,262.2 432.9,263.1 432.7,263.5 432.5,264 432.1,264.9 431.7,265.8 431.7,265.9 431.4,266.7 431.1,267.6 430.8,268.5 430.7,268.6 430.5,269.4 430.3,270.3 430.1,271.2 429.9,272.1 429.8,273 429.8,273.9 429.8,274.3 429.7,274.8 429.7,275.7 429.8,276 429.8,276.6 429.9,277.5 430,278.4 430.1,279.3 430.3,280.2 430.6,281.1 430.7,281.6 430.8,282 431.2,282.9 431.5,283.8 431.7,284.1 432,284.6 432.5,285.5 432.7,286 433,286.4 433.6,287.3 433.7,287.4 434.3,288.2 434.7,288.7 435,289.1 435.7,289.9 435.8,290 436.3,290.9 436.6,291.8 436.5,292.7 436.4,293.6 436.6,294.2 436.8,294.5 437.6,295.3 437.8,295.4 438.6,295.8 439.6,296.3 439.7,296.3Z"/>
<path fill-rule="evenodd" fill="rgb(0,58,255)" d="M446.8,296.3 447.4,296.3 448.4,296.3 449.4,296.3 450.4,296.3 451.4,296.3 452.4,296.3 453.3,296.3 454.3,296.3 455.3,296.3 456.3,296.3 457.3,296.3 458.3,296.3 459.2,296.3 460.2,296.3 461.2,296.3 462.2,296.3 463.2,296.3 464.1,296.3 465.1,296.3 466.1,296.3 467.1,296.3 468.1,296.1 469.1,295.9 470,295.6 470.5,295.4 471,295.2 472,294.7 472.3,294.5 473,293.7 473.1,293.6 473.4,292.7 473.9,291.8 474,291.8 474.9,290.9 475,290.9 475.9,290.3 476.3,290 476.9,289.6 477.7,289.1 477.9,289 478.9,288.3 479,288.2 479.9,287.5 480.1,287.3 480.9,286.6 481.1,286.4 481.8,285.6 481.9,285.5 482.7,284.6 482.8,284.5 483.3,283.8 483.8,283 483.9,282.9 484.4,282 484.8,281.2 484.8,281.1 485.2,280.2 485.5,279.3 485.8,278.4 486,277.5 486.1,276.6 486.2,275.7 486.3,274.8 486.3,273.9 486.2,273 486.1,272.1 485.9,271.2 485.8,270.5 485.7,270.3 485.5,269.4 485.2,268.5 484.9,267.6 484.8,267.4 484.5,266.7 484.1,265.8 483.8,265 483.8,264.9 483.4,264 483,263.1 482.8,262.6 482.7,262.2 482.4,261.3 482.2,260.4 482.1,259.5 482,258.7 481.9,257.8 482,256.9 482,256 482.1,255.1 482.2,254.2 482.2,253.3 482.3,252.4 482.4,251.5 482.4,250.6 482.4,249.7 482.3,248.8 482.2,247.9 482.2,247 482.1,246.1 481.9,245.2 481.8,244.4 481.8,244.3 481.7,243.4 481.5,242.5 481.3,241.6 481.1,240.7 480.9,239.8 480.9,239.7 480.6,238.9 480.3,238 480,237.1 479.9,236.7 479.7,236.2 479.3,235.3 478.9,234.4 478.5,233.6 478,232.7 477.9,232.5 477.4,231.8 476.9,231 476.9,230.9 476.2,230 475.9,229.6 475.5,229.1 475,228.4 474.7,228.2 474,227.4 473.8,227.3 473,226.5 472.8,226.4 472,225.7 471.6,225.5 471,225.1 470.2,224.6 470,224.5 469.1,224 468.5,223.7 468.1,223.5 467.1,223.1 466.1,222.8 465.9,222.8 465.1,222.6 464.1,222.4 463.2,222.3 462.2,222.2 461.2,222.1 460.2,222.1 459.2,222.1 458.3,222.2 457.3,222.3 456.3,222.4 455.3,222.5 454.3,222.7 453.7,222.8 453.3,222.9 452.4,223.1 451.4,223.5 450.9,223.7 450.4,223.9 449.4,224.4 449.1,224.6 448.4,225 447.7,225.5 447.4,225.7 446.6,226.4 446.5,226.5 445.7,227.3 445.5,227.5 444.9,228.2 444.5,228.7 444.2,229.1 443.5,230 443,230.9 442.5,231.6 442.5,231.8 442,232.7 441.6,233.6 441.2,234.4 440.8,235.3 440.6,236 440.5,236.2 440.2,237.1 439.9,238 439.7,238.9 439.6,239.4 439.5,239.8 439.3,240.7 439.1,241.6 438.9,242.5 438.8,243.4 438.7,244.3 438.6,245.1 438.6,245.2 438.5,246.1 438.4,247 438.4,247.9 438.3,248.8 438.3,249.7 438.2,250.6 438.3,251.5 438.3,252.4 438.4,253.3 438.4,254.2 438.5,255.1 438.5,256 438.5,256.9 438.5,257.8 438.4,258.7 438.3,259.5 438,260.4 437.8,261.3 437.6,261.7 437.4,262.2 437,263.1 436.6,263.9 436.6,264 436.1,264.9 435.7,265.8 435.7,265.9 435.3,266.7 434.9,267.6 434.7,268.2 434.5,268.5 434.2,269.4 433.9,270.3 433.7,271.2 433.7,271.3 433.5,272.1 433.4,273 433.3,273.9 433.2,274.8 433.2,275.7 433.3,276.6 433.4,277.5 433.5,278.4 433.7,279.1 433.7,279.3 434,280.2 434.3,281.1 434.6,282 434.7,282.1 435,282.9 435.5,283.8 435.7,284 436.1,284.6 436.6,285.4 436.7,285.5 437.5,286.4 437.6,286.6 438.3,287.3 438.6,287.6 439.3,288.2 439.6,288.5 440.4,289.1 440.6,289.3 441.5,290 441.6,290.1 442.3,290.9 442.4,291.8 442,292.7 441.7,293.6 442,294.5 442.5,294.8 443.5,295.4 444.5,295.7 445.5,296 446.5,296.2 446.8,296.3Z"/>
<path fill-rule="evenodd" fill="rgb(0,151,255)" stroke="#000" stroke-opacity="0.15" stroke-width="0.5" d="M448.9,295.4 449.4,295.5 450.4,295.7 451.4,295.8 452.4,295.9 453.3,296 454.3,296 455.3,296 456.3,296 457.3,296 458.3,296 459.2,296 460.2,295.9 461.2,295.8 462.2,295.7 463.2,295.6 464.1,295.4 464.2,295.4 465.1,295.1 466.1,294.8 466.8,294.5 467.1,294.2 467.5,293.6 467.2,292.7 467.1,292.5 466.6,291.8 467.1,291 467.2,290.9 468.1,290.5 469.1,290.1 469.2,290 470,289.7 471,289.3 471.5,289.1 472,288.9 473,288.5 473.5,288.2 474,288 475,287.5 475.2,287.3 475.9,286.8 476.5,286.4 476.9,286.1 477.6,285.5 477.9,285.3 478.6,284.6 478.9,284.4 479.4,283.8 479.9,283.2 480.2,282.9 480.8,282 480.9,281.8 481.3,281.1 481.7,280.2 481.8,279.9 482.1,279.3 482.4,278.4 482.6,277.5 482.8,276.6 482.8,276 482.9,275.7 482.9,274.8 482.9,273.9 482.8,273.4 482.8,273 482.6,272.1 482.4,271.2 482.2,270.3 481.8,269.4 481.5,268.5 481.1,267.6 480.9,267.2 480.6,266.7 480.2,265.8 479.9,265.2 479.7,264.9 479.3,264 478.9,263.2 478.8,263.1 478.5,262.2 478.2,261.3 478,260.4 477.9,260 477.8,259.5 477.8,258.7 477.8,257.8 477.9,257 477.9,256.9 478,256 478.2,255.1 478.3,254.2 478.5,253.3 478.6,252.4 478.7,251.5 478.7,250.6 478.7,249.7 478.7,248.8 478.6,247.9 478.5,247 478.4,246.1 478.3,245.2 478.1,244.3 477.9,243.4 477.9,243.3 477.7,242.5 477.5,241.6 477.2,240.7 476.9,239.8 476.6,238.9 476.2,238 475.9,237.4 475.8,237.1 475.4,236.2 475,235.5 474.9,235.3 474.3,234.4 474,234 473.7,233.6 473,232.7 472.9,232.7 472.1,231.8 472,231.6 471.2,230.9 471,230.7 470.1,230 470,229.9 469.1,229.3 468.7,229.1 468.1,228.7 467.1,228.2 467,228.2 466.1,227.8 465.1,227.5 464.2,227.3 464.1,227.3 463.2,227.1 462.2,226.9 461.2,226.8 460.2,226.8 459.2,226.8 458.3,226.9 457.3,226.9 456.3,227 455.3,227.1 454.3,227.3 453.3,227.5 452.4,227.8 451.4,228.2 450.4,228.6 449.7,229.1 449.4,229.2 448.4,229.9 448.4,230 447.4,230.8 447.4,230.9 446.5,231.8 445.8,232.7 445.5,233.1 445.2,233.6 444.6,234.4 444.5,234.7 444.1,235.3 443.7,236.2 443.5,236.6 443.3,237.1 442.9,238 442.6,238.9 442.5,239.2 442.3,239.8 442.1,240.7 441.8,241.6 441.7,242.5 441.6,243.1 441.5,243.4 441.3,244.3 441.2,245.2 441.1,246.1 441,247 440.9,247.9 440.9,248.8 440.8,249.7 440.8,250.6 440.9,251.5 440.9,252.4 441,253.3 441.1,254.2 441.2,255.1 441.3,256 441.4,256.9 441.5,257.8 441.4,258.7 441.3,259.5 441.1,260.4 440.8,261.3 440.6,262 440.5,262.2 440.1,263.1 439.6,264 439.1,264.9 438.6,265.8 438.1,266.7 437.6,267.6 437.2,268.5 436.8,269.4 436.6,269.9 436.5,270.3 436.2,271.2 436,272.1 435.8,273 435.7,273.9 435.7,274.8 435.7,275.7 435.7,276.6 435.9,277.5 436,278.4 436.3,279.3 436.6,280.2 436.6,280.4 436.9,281.1 437.3,282 437.6,282.4 437.9,282.9 438.5,283.8 438.6,283.9 439.2,284.6 439.6,285.1 440,285.5 440.6,286.1 441,286.4 441.6,286.9 442.2,287.3 442.5,287.6 443.5,288.2 443.6,288.2 444.5,288.7 445.3,289.1 445.5,289.2 446.5,289.7 447.2,290 447.4,290.2 448.4,290.9 448.5,290.9 448.4,291 448.1,291.8 447.4,292.3 446.9,292.7 446.5,293.2 446.1,293.6 446.5,294.4 446.5,294.5 447.4,294.9 448.4,295.3 448.9,295.4Z"/>
<path fill-rule="evenodd" fill="rgb(0,243,255)" stroke="#000" stroke-opacity="0.3" stroke-width="0.5" d="M452.3,294.5 452.4,294.5 453.3,294.7 454.3,294.8 455.3,294.8 456.3,294.8 457.3,294.8 458.3,294.8 459.2,294.7 460.2,294.5 460.4,294.5 461.2,293.6 460.2,293.3 459.2,293 458.3,292.9 457.3,292.8 456.3,292.8 455.3,292.8 454.3,292.9 453.3,293.1 452.4,293.4 451.8,293.6 452.3,294.5ZM454.5,289.1 455.3,289.2 456.3,289.2 457.3,289.3 458.3,289.3 459.2,289.3 460.2,289.2 461.2,289.2 461.7,289.1 462.2,289.1 463.2,289 464.1,288.9 465.1,288.7 466.1,288.5 467.1,288.3 467.3,288.2 468.1,288 469.1,287.7 470,287.4 470.2,287.3 471,287 472,286.5 472.2,286.4 473,286 473.8,285.5 474,285.4 475,284.7 475.1,284.6 475.9,283.9 476.1,283.8 476.9,283 477,282.9 477.8,282 477.9,281.8 478.4,281.1 478.9,280.2 479.3,279.3 479.7,278.4 479.9,277.6 479.9,277.5 480.1,276.6 480.2,275.7 480.2,274.8 480.2,273.9 480.1,273 479.9,272.1 479.9,272 479.7,271.2 479.3,270.3 479,269.4 478.9,269.3 478.5,268.5 478,267.6 477.9,267.4 477.5,266.7 476.9,265.8 476.4,264.9 475.9,264.2 475.8,264 475.3,263.1 475,262.3 474.9,262.2 474.6,261.3 474.4,260.4 474.3,259.5 474.3,258.7 474.4,257.8 474.5,256.9 474.8,256 475,255.1 475.2,254.2 475.4,253.3 475.6,252.4 475.7,251.5 475.8,250.6 475.8,249.7 475.7,248.8 475.6,247.9 475.5,247 475.4,246.1 475.2,245.2 475.1,244.3 475,243.9 474.8,243.4 474.6,242.5 474.3,241.6 474,240.8 474,240.7 473.6,239.8 473.1,238.9 473,238.7 472.6,238 472.1,237.1 472,237 471.4,236.2 471,235.7 470.7,235.3 470,234.7 469.8,234.4 469.1,233.8 468.7,233.6 468.1,233.1 467.4,232.7 467.1,232.4 466.1,231.9 465.7,231.8 465.1,231.5 464.1,231.2 463.2,231 462.6,230.9 462.2,230.8 461.2,230.7 460.2,230.6 459.2,230.6 458.3,230.6 457.3,230.7 456.3,230.8 455.5,230.9 455.3,230.9 454.3,231.1 453.3,231.3 452.4,231.6 452.1,231.8 451.4,232.1 450.4,232.7 449.4,233.4 449.2,233.6 448.4,234.3 448.3,234.4 447.5,235.3 447.4,235.4 446.8,236.2 446.5,236.8 446.2,237.1 445.7,238 445.5,238.6 445.3,238.9 444.9,239.8 444.6,240.7 444.5,241 444.3,241.6 444.1,242.5 443.8,243.4 443.7,244.3 443.5,245.1 443.5,245.2 443.4,246.1 443.3,247 443.2,247.9 443.1,248.8 443.1,249.7 443.1,250.6 443.1,251.5 443.2,252.4 443.4,253.3 443.5,254.1 443.5,254.2 443.7,255.1 443.9,256 444,256.9 444.1,257.8 444.2,258.7 444.1,259.5 443.9,260.4 443.7,261.3 443.5,261.7 443.3,262.2 442.8,263.1 442.5,263.5 442.2,264 441.7,264.9 441.6,265.1 441.1,265.8 440.6,266.6 440.5,266.7 440,267.6 439.6,268.3 439.5,268.5 439,269.4 438.7,270.3 438.6,270.4 438.3,271.2 438.1,272.1 437.9,273 437.8,273.9 437.7,274.8 437.7,275.7 437.8,276.6 437.9,277.5 438.1,278.4 438.4,279.3 438.6,279.8 438.7,280.2 439.2,281.1 439.6,281.8 439.7,282 440.3,282.9 440.6,283.2 441.1,283.8 441.6,284.3 442,284.6 442.5,285.1 443.1,285.5 443.5,285.9 444.4,286.4 444.5,286.5 445.5,287 446.2,287.3 446.5,287.4 447.4,287.8 448.4,288.1 448.8,288.2 449.4,288.4 450.4,288.6 451.4,288.8 452.4,288.9 453.3,289 454.3,289.1 454.5,289.1Z"/>
<path fill-rule="evenodd" fill="rgb(81,255,174)" stroke="#000" stroke-opacity="0.5" stroke-width="0.5" d="M453.9,287.3 454.3,287.4 455.3,287.4 456.3,287.5 457.3,287.5 458.3,287.5 459.2,287.5 460.2,287.4 461.2,287.4 462,287.3 462.2,287.3 463.2,287.2 464.1,287.1 465.1,286.9 466.1,286.7 467.1,286.4 468.1,286.2 469.1,285.8 469.7,285.5 470,285.4 471,284.9 471.5,284.6 472,284.4 472.9,283.8 473,283.7 474,282.9 474.1,282.9 475,282 475.8,281.1 475.9,280.8 476.4,280.2 476.9,279.3 476.9,279.2 477.3,278.4 477.6,277.5 477.8,276.6 477.9,275.7 477.9,274.8 477.9,273.9 477.7,273 477.5,272.1 477.2,271.2 476.9,270.5 476.8,270.3 476.4,269.4 475.9,268.7 475.8,268.5 475.2,267.6 475,267.2 474.6,266.7 474,265.9 473.9,265.8 473.2,264.9 473,264.6 472.5,264 472,263.3 471.9,263.1 471.4,262.2 471,261.4 471,261.3 470.7,260.4 470.7,259.5 470.8,258.7 471,257.8 471,257.6 471.2,256.9 471.6,256 471.9,255.1 472,254.8 472.2,254.2 472.5,253.3 472.7,252.4 472.9,251.5 473,250.9 473,250.6 473,249.7 473,248.8 473,248.7 472.9,247.9 472.8,247 472.6,246.1 472.4,245.2 472.2,244.3 472,243.8 471.9,243.4 471.5,242.5 471.2,241.6 471,241.3 470.7,240.7 470.2,239.8 470,239.6 469.5,238.9 469.1,238.3 468.8,238 468.1,237.3 467.9,237.1 467.1,236.5 466.7,236.2 466.1,235.8 465.2,235.3 465.1,235.3 464.1,234.9 463.2,234.6 462.7,234.4 462.2,234.3 461.2,234.2 460.2,234.1 459.2,234.1 458.3,234.1 457.3,234.1 456.3,234.2 455.3,234.4 454.9,234.4 454.3,234.6 453.3,234.9 452.4,235.3 452.2,235.3 451.4,235.8 450.8,236.2 450.4,236.5 449.7,237.1 449.4,237.5 448.9,238 448.4,238.7 448.3,238.9 447.7,239.8 447.4,240.3 447.2,240.7 446.8,241.6 446.5,242.5 446.5,242.6 446.2,243.4 446,244.3 445.8,245.2 445.6,246.1 445.5,246.8 445.4,247 445.3,247.9 445.3,248.8 445.2,249.7 445.2,250.6 445.3,251.5 445.5,252.4 445.5,252.5 445.7,253.3 445.9,254.2 446.2,255.1 446.4,256 446.5,256.1 446.7,256.9 446.9,257.8 447,258.7 447,259.5 446.9,260.4 446.6,261.3 446.5,261.6 446.1,262.2 445.6,263.1 445.5,263.2 444.9,264 444.5,264.5 444.2,264.9 443.5,265.8 442.8,266.7 442.5,267.1 442.2,267.6 441.6,268.5 441.6,268.6 441.1,269.4 440.6,270.3 440.6,270.4 440.2,271.2 440,272.1 439.7,273 439.6,273.9 439.6,274 439.5,274.8 439.5,275.7 439.6,276.3 439.6,276.6 439.8,277.5 440,278.4 440.3,279.3 440.6,279.8 440.7,280.2 441.3,281.1 441.6,281.5 441.9,282 442.5,282.7 442.7,282.9 443.5,283.6 443.6,283.8 444.5,284.4 444.9,284.6 445.5,285 446.5,285.5 447.4,286 448.4,286.3 448.8,286.4 449.4,286.6 450.4,286.9 451.4,287 452.4,287.2 453.3,287.3 453.9,287.3Z"/>
<path fill-rule="evenodd" fill="rgb(174,255,81)" stroke="#000" stroke-opacity="0.7" stroke-width="0.5" d="M451.8,285.5 452.4,285.6 453.3,285.7 454.3,285.8 455.3,285.9 456.3,285.9 457.3,285.9 458.3,285.9 459.2,285.9 460.2,285.9 461.2,285.8 462.2,285.7 463.2,285.6 463.7,285.5 464.1,285.5 465.1,285.3 466.1,285 467.1,284.7 467.3,284.6 468.1,284.4 469.1,283.9 469.5,283.8 470,283.4 471,282.9 472,282.1 472.2,282 473,281.2 473.2,281.1 473.9,280.2 474,280.1 474.5,279.3 475,278.4 475.3,277.5 475.6,276.6 475.7,275.7 475.7,274.8 475.7,273.9 475.5,273 475.2,272.1 475,271.4 474.9,271.2 474.4,270.3 474,269.6 473.9,269.4 473.2,268.5 473,268.2 472.5,267.6 472,267.1 471.7,266.7 471,266.1 470.8,265.8 470,265.1 469.8,264.9 469.1,264.2 468.9,264 468.1,263.2 468,263.1 467.2,262.2 467.1,262.1 466.6,261.3 466.3,260.4 466.2,259.5 466.4,258.7 466.9,257.8 467.1,257.4 467.4,256.9 468,256 468.1,255.8 468.5,255.1 469,254.2 469.1,254.1 469.4,253.3 469.8,252.4 470,251.5 470.2,250.6 470.2,249.7 470.2,248.8 470,247.9 469.9,247 469.7,246.1 469.4,245.2 469.1,244.3 468.6,243.4 468.2,242.5 468.1,242.4 467.5,241.6 467.1,241 466.8,240.7 466.1,240 465.9,239.8 465.1,239.3 464.6,238.9 464.1,238.7 463.2,238.3 462.4,238 462.2,238 461.2,237.7 460.2,237.6 459.2,237.6 458.3,237.6 457.3,237.7 456.3,237.7 455.3,237.9 454.8,238 454.3,238.2 453.3,238.5 452.6,238.9 452.4,239.1 451.4,239.8 450.5,240.7 450.4,240.9 449.9,241.6 449.4,242.3 449.3,242.5 448.9,243.4 448.5,244.3 448.4,244.6 448.2,245.2 448,246.1 447.8,247 447.7,247.9 447.5,248.8 447.5,249.7 447.5,250.6 447.7,251.5 447.9,252.4 448.2,253.3 448.4,253.9 448.6,254.2 449,255.1 449.4,255.9 449.5,256 450,256.9 450.4,257.7 450.4,257.8 450.8,258.7 450.9,259.5 450.8,260.4 450.4,261.3 450.4,261.4 449.8,262.2 449.4,262.6 448.9,263.1 448.4,263.6 448,264 447.4,264.5 447,264.9 446.5,265.4 446.1,265.8 445.5,266.4 445.2,266.7 444.5,267.5 444.4,267.6 443.7,268.5 443.5,268.8 443.1,269.4 442.5,270.3 442.1,271.2 441.8,272.1 441.6,272.8 441.5,273 441.3,273.9 441.3,274.8 441.3,275.7 441.4,276.6 441.5,277.5 441.6,277.5 441.8,278.4 442.2,279.3 442.5,279.9 442.7,280.2 443.3,281.1 443.5,281.3 444.2,282 444.5,282.3 445.2,282.9 445.5,283.1 446.5,283.7 446.5,283.8 447.4,284.2 448.4,284.6 449.4,285 450.4,285.3 451.4,285.5 451.8,285.5Z"/>
<path fill-rule="evenodd" fill="rgb(255,243,0)" stroke="#000" stroke-opacity="0.7" stroke-width="0.5" d="M450.7,283.8 451.4,283.9 452.4,284.1 453.3,284.2 454.3,284.3 455.3,284.4 456.3,284.4 457.3,284.4 458.3,284.4 459.2,284.4 460.2,284.4 461.2,284.3 462.2,284.2 463.2,284.1 464.1,283.9 464.7,283.8 465.1,283.6 466.1,283.3 467.1,283 467.4,282.9 468.1,282.5 469.1,282 469.2,282 470,281.4 470.4,281.1 471,280.5 471.4,280.2 472,279.4 472.1,279.3 472.7,278.4 473,277.8 473.1,277.5 473.4,276.6 473.5,275.7 473.6,274.8 473.5,273.9 473.3,273 473,272.1 472.6,271.2 472,270.3 471.3,269.4 471,269.1 470.5,268.5 470,268.1 469.5,267.6 469.1,267.3 468.3,266.7 468.1,266.5 467.1,265.9 467,265.8 466.1,265.3 465.4,264.9 465.1,264.8 464.1,264.3 463.3,264 463.2,263.9 462.2,263.6 461.2,263.4 460.2,263.3 459.2,263.2 458.3,263.2 457.3,263.2 456.3,263.3 455.3,263.5 454.3,263.6 453.3,263.9 453.1,264 452.4,264.3 451.4,264.7 451,264.9 450.4,265.2 449.4,265.8 449.3,265.8 448.4,266.4 448,266.7 447.4,267.2 446.9,267.6 446.5,268 446,268.5 445.5,269.1 445.2,269.4 444.5,270.3 444.5,270.4 444,271.2 443.6,272.1 443.5,272.3 443.3,273 443.1,273.9 443,274.8 443,275.7 443.1,276.6 443.3,277.5 443.5,277.9 443.7,278.4 444.2,279.3 444.5,279.8 444.8,280.2 445.5,280.9 445.6,281.1 446.5,281.8 446.7,282 447.4,282.4 448.2,282.9 448.4,282.9 449.4,283.4 450.4,283.7 450.7,283.8ZM456,256 456.3,256 457.3,256.2 458.3,256.3 459.2,256.3 460.2,256.2 461.2,256 461.3,256 462.2,255.7 463.2,255.2 463.4,255.1 464.1,254.5 464.6,254.2 465.1,253.7 465.5,253.3 466.1,252.4 466.5,251.5 466.8,250.6 466.9,249.7 466.8,248.8 466.6,247.9 466.3,247 466.1,246.4 466,246.1 465.5,245.2 465.1,244.7 464.9,244.3 464.1,243.5 464,243.4 463.2,242.8 462.7,242.5 462.2,242.3 461.2,241.9 460.2,241.7 459.2,241.6 458.3,241.6 457.3,241.7 456.3,241.9 455.3,242.1 454.3,242.5 453.3,243.1 453,243.4 452.4,244.1 452.2,244.3 451.6,245.2 451.4,245.6 451.2,246.1 450.8,247 450.6,247.9 450.4,248.8 450.3,249.7 450.4,250.6 450.6,251.5 451,252.4 451.4,252.9 451.6,253.3 452.4,254.1 452.5,254.2 453.3,254.9 453.7,255.1 454.3,255.4 455.3,255.8 456,256Z"/>
<path fill-rule="evenodd" fill="rgb(255,151,0)" stroke="#000" stroke-opacity="0.7" stroke-width="0.5" d="M454.9,282.9 455.3,282.9 456.3,282.9 457.3,282.9 458.3,282.9 459.2,282.9 460.2,282.9 460.4,282.9 461.2,282.8 462.2,282.7 463.2,282.5 464.1,282.2 465.1,282 465.1,281.9 466.1,281.6 467.1,281.1 467.2,281.1 468.1,280.5 468.5,280.2 469.1,279.7 469.5,279.3 470,278.7 470.3,278.4 470.8,277.5 471,276.9 471.1,276.6 471.3,275.7 471.4,274.8 471.3,273.9 471,273 470.6,272.1 470.1,271.2 470,271.2 469.3,270.3 469.1,270 468.4,269.4 468.1,269.2 467.2,268.5 467.1,268.5 466.1,267.9 465.6,267.6 465.1,267.4 464.1,267 463.3,266.7 463.2,266.7 462.2,266.4 461.2,266.3 460.2,266.1 459.2,266.1 458.3,266.1 457.3,266.1 456.3,266.1 455.3,266.2 454.3,266.3 453.3,266.5 452.7,266.7 452.4,266.8 451.4,267.1 450.4,267.6 450.3,267.6 449.4,268.1 448.8,268.5 448.4,268.8 447.7,269.4 447.4,269.6 446.8,270.3 446.5,270.7 446.1,271.2 445.5,272.1 445.5,272.2 445.2,273 444.9,273.9 444.8,274.8 444.8,275.7 445,276.6 445.3,277.5 445.5,278 445.7,278.4 446.3,279.3 446.5,279.4 447.2,280.2 447.4,280.4 448.4,281.1 449.4,281.6 450.2,282 450.4,282 451.4,282.3 452.4,282.5 453.3,282.7 454.3,282.8 454.9,282.9Z"/>
<path fill-rule="evenodd" fill="rgb(238,30,0)" stroke="#000" stroke-opacity="0.7" stroke-width="0.5" d="M453.5,281.1 454.3,281.2 455.3,281.2 456.3,281.3 457.3,281.3 458.3,281.3 459.2,281.3 460.2,281.2 461.2,281.1 461.5,281.1 462.2,280.9 463.2,280.7 464.1,280.4 464.7,280.2 465.1,280 466.1,279.4 466.4,279.3 467.1,278.7 467.4,278.4 468.1,277.6 468.2,277.5 468.6,276.6 468.9,275.7 468.9,274.8 468.8,273.9 468.4,273 468.1,272.4 467.9,272.1 467.1,271.2 466.1,270.4 466,270.3 465.1,269.8 464.3,269.4 464.1,269.3 463.2,269 462.2,268.7 461.3,268.5 461.2,268.5 460.2,268.4 459.2,268.3 458.3,268.3 457.3,268.3 456.3,268.3 455.3,268.4 454.4,268.5 454.3,268.5 453.3,268.7 452.4,269 451.4,269.3 451.2,269.4 450.4,269.8 449.7,270.3 449.4,270.5 448.6,271.2 448.4,271.4 447.9,272.1 447.4,272.8 447.3,273 447,273.9 446.9,274.8 446.9,275.7 447.1,276.6 447.4,277.4 447.5,277.5 448.1,278.4 448.4,278.7 449,279.3 449.4,279.5 450.4,280.1 450.5,280.2 451.4,280.5 452.4,280.8 453.3,281 453.5,281.1Z"/>
<path fill-rule="evenodd" fill="rgb(135,0,0)" stroke="#000" stroke-opacity="0.55" stroke-width="0.5" d="M455.2,279.3 455.3,279.3 456.3,279.3 457.3,279.4 458.3,279.4 459.2,279.3 459.9,279.3 460.2,279.2 461.2,279 462.2,278.8 463.2,278.4 464.1,277.8 464.6,277.5 465.1,276.9 465.4,276.6 465.8,275.7 465.8,274.8 465.6,273.9 465.1,273.1 465.1,273 464.1,272.1 463.2,271.6 462.4,271.2 462.2,271.1 461.2,270.9 460.2,270.7 459.2,270.6 458.3,270.5 457.3,270.6 456.3,270.6 455.3,270.7 454.3,270.8 453.3,271.1 452.9,271.2 452.4,271.4 451.4,272 451.2,272.1 450.4,272.8 450.3,273 449.7,273.9 449.5,274.8 449.6,275.7 449.9,276.6 450.4,277.3 450.6,277.5 451.4,278.1 451.8,278.4 452.4,278.6 453.3,278.9 454.3,279.2 455.2,279.3Z"/>
</g>
<!-- T4-C2 -->
<clipPath id="c7"><polygon points="536.1,299.1 680.6,166.2 680.6,299.1"/></clipPath>
<polygon points="536.1,299.1 680.6,166.2 680.6,299.1" fill="rgb(2,4,143)"/>
<g clip-path="url(#c7)">
<path fill-rule="evenodd" fill="rgb(0,0,220)" d="M616.7,299.1 617.6,299.1 618.7,299.1 619.7,299.1 620.7,299.1 621.8,299.1 622.8,299.1 623.8,299.1 624.9,299.1 625.9,299.1 626.9,299.1 628,299.1 629,299.1 630,299.1 631.1,299.1 632.1,299.1 633.1,299.1 634.2,299.1 635.2,299.1 636.2,299.1 637.2,299.1 638.3,299.1 639.3,299.1 640.3,299.1 641.4,299.1 642.4,299.1 643.4,299.1 644.5,299.1 645.5,299.1 646.5,299.1 647.6,299.1 648.6,299.1 649.6,299.1 650.7,299.1 651.7,299.1 652.7,299.1 653.8,299.1 654.8,299.1 655.3,299.1 655.8,298.9 656.9,298.4 657.4,298.2 657.9,297.8 658.8,297.2 658.9,297.1 659.7,296.3 660,296 660.5,295.3 661,294.8 661.4,294.4 662,293.8 662.4,293.4 663.1,292.8 663.4,292.5 664.1,291.8 664.4,291.5 665.1,290.8 665.3,290.6 666.1,289.6 666.2,289.6 666.9,288.7 667.2,288.2 667.5,287.7 668.1,286.8 668.2,286.6 668.7,285.8 669.1,284.9 669.2,284.6 669.6,283.9 669.9,283 670.3,282 670.3,281.9 670.5,281.1 670.8,280.1 671,279.2 671.1,278.2 671.2,277.3 671.3,276.3 671.3,276 671.3,275.4 671.3,274.4 671.3,274.1 671.3,273.5 671.2,272.5 671.1,271.6 670.9,270.6 670.8,269.7 670.6,268.7 670.3,267.8 670.3,267.7 670.1,266.8 669.8,265.9 669.5,264.9 669.2,264 669,263 668.8,262.1 668.5,261.1 668.4,260.2 668.2,259.3 668.2,259.2 668.1,258.3 668,257.3 668,256.4 668,255.4 668,254.5 668,253.5 668,252.6 668,251.6 667.9,250.7 667.9,249.7 667.8,248.8 667.8,247.8 667.7,246.9 667.6,245.9 667.5,245 667.3,244 667.2,243.1 667.2,243 667.1,242.1 666.9,241.2 666.7,240.2 666.5,239.3 666.3,238.3 666.2,237.7 666.1,237.4 665.8,236.4 665.6,235.5 665.3,234.5 665.1,234.1 665,233.6 664.6,232.7 664.3,231.7 664.1,231.2 663.9,230.8 663.5,229.8 663.1,228.9 663.1,228.8 662.6,227.9 662.1,227 662,226.8 661.6,226 661,225.1 661,225 660.4,224.1 660,223.5 659.7,223.2 659,222.2 658.9,222.1 658.3,221.3 657.9,220.8 657.4,220.3 656.9,219.7 656.5,219.4 655.8,218.7 655.5,218.4 654.8,217.8 654.3,217.5 653.8,217 653,216.5 652.7,216.3 651.7,215.7 651.5,215.6 650.7,215.1 649.7,214.6 649.6,214.6 648.6,214.1 647.6,213.8 647.2,213.7 646.5,213.4 645.5,213.2 644.5,213 643.4,212.8 642.6,212.7 642.4,212.7 641.4,212.6 640.3,212.6 639.3,212.6 638.3,212.7 637.9,212.7 637.2,212.8 636.2,212.9 635.2,213 634.2,213.2 633.1,213.3 632.1,213.6 631.7,213.7 631.1,213.8 630,214.1 629,214.5 628.7,214.6 628,214.9 626.9,215.4 626.6,215.6 625.9,215.9 625,216.5 624.9,216.6 623.8,217.4 623.8,217.5 622.8,218.4 621.8,219.3 621.7,219.4 620.7,220.3 619.8,221.3 619.7,221.4 619.1,222.2 618.7,222.8 618.4,223.2 617.8,224.1 617.6,224.4 617.3,225.1 616.8,226 616.6,226.3 616.3,227 615.8,227.9 615.6,228.5 615.4,228.9 615,229.8 614.7,230.8 614.5,231.2 614.4,231.7 614,232.7 613.8,233.6 613.5,234.5 613.5,234.6 613.3,235.5 613,236.4 612.8,237.4 612.6,238.3 612.5,239.3 612.3,240.2 612.2,241.2 612,242.1 611.9,243.1 611.8,244 611.7,245 611.7,245.9 611.6,246.9 611.6,247.8 611.5,248.8 611.5,249.7 611.4,250.2 611.4,250.7 611.4,251.6 611.4,252.6 611.4,253.5 611.4,254.4 611.4,254.5 611.4,255.4 611.4,256.4 611.3,257.3 611.2,258.3 611.1,259.2 610.9,260.2 610.6,261.1 610.4,261.7 610.3,262.1 609.9,263 609.5,264 609.4,264.4 609.1,264.9 608.7,265.9 608.4,266.8 608.4,266.9 608,267.8 607.7,268.7 607.4,269.7 607.3,269.8 607.1,270.6 606.8,271.6 606.6,272.5 606.5,273.5 606.4,274.4 606.3,275.4 606.3,275.8 606.3,276.3 606.3,277.3 606.3,277.6 606.3,278.2 606.4,279.2 606.5,280.1 606.7,281.1 606.9,282 607.1,283 607.3,283.5 607.4,283.9 607.8,284.9 608.2,285.8 608.4,286.2 608.6,286.8 609.1,287.7 609.4,288.1 609.7,288.7 610.3,289.6 610.4,289.7 611,290.6 611.4,291.1 611.8,291.5 612.5,292.3 612.6,292.5 613.2,293.4 613.4,294.4 613.4,295.3 613.3,296.3 613.5,296.8 613.6,297.2 614.5,298 614.7,298.2 615.6,298.6 616.6,299.1 616.7,299.1Z"/>
<path fill-rule="evenodd" fill="rgb(0,58,255)" d="M624.2,299.1 624.9,299.1 625.9,299.1 626.9,299.1 628,299.1 629,299.1 630,299.1 631.1,299.1 632.1,299.1 633.1,299.1 634.2,299.1 635.2,299.1 636.2,299.1 637.2,299.1 638.3,299.1 639.3,299.1 640.3,299.1 641.4,299.1 642.4,299.1 643.4,299.1 644.5,299.1 645.5,299.1 646.5,298.9 647.6,298.6 648.6,298.3 649.1,298.2 649.6,297.9 650.7,297.4 651,297.2 651.7,296.4 651.8,296.3 652.2,295.3 652.7,294.4 652.7,294.3 653.7,293.4 653.8,293.4 654.8,292.7 655.1,292.5 655.8,292 656.6,291.5 656.9,291.4 657.9,290.6 658,290.6 658.9,289.8 659.2,289.6 660,288.9 660.2,288.7 661,287.8 661.1,287.7 661.9,286.8 662,286.6 662.6,285.8 663.1,285.1 663.2,284.9 663.7,283.9 664.1,283.1 664.2,283 664.6,282 664.9,281.1 665.1,280.2 665.1,280.1 665.3,279.2 665.5,278.2 665.6,277.3 665.6,276.3 665.6,275.4 665.6,274.4 665.5,273.5 665.3,272.5 665.1,271.8 665.1,271.6 664.8,270.6 664.5,269.7 664.2,268.7 664.1,268.5 663.8,267.8 663.4,266.8 663.1,266 663,265.9 662.6,264.9 662.2,264 662,263.4 661.9,263 661.6,262.1 661.4,261.1 661.2,260.2 661.1,259.2 661.1,258.3 661.1,257.3 661.2,256.4 661.3,255.4 661.3,254.5 661.4,253.5 661.5,252.6 661.5,251.6 661.6,250.7 661.5,249.7 661.5,248.8 661.4,247.8 661.3,246.9 661.2,245.9 661.1,245 661,244.2 661,244 660.8,243.1 660.7,242.1 660.5,241.2 660.2,240.2 660,239.3 660,239.2 659.7,238.3 659.4,237.4 659.1,236.4 658.9,236 658.7,235.5 658.3,234.5 657.9,233.6 657.4,232.7 656.9,231.7 656.9,231.6 656.4,230.8 655.8,229.9 655.8,229.8 655.1,228.9 654.8,228.5 654.3,227.9 653.8,227.2 653.5,227 652.7,226.2 652.6,226 651.7,225.2 651.5,225.1 650.7,224.4 650.3,224.1 649.6,223.7 648.8,223.2 648.6,223 647.6,222.5 646.9,222.2 646.5,222 645.5,221.6 644.5,221.3 644.3,221.3 643.4,221 642.4,220.8 641.4,220.7 640.3,220.6 639.3,220.5 638.3,220.5 637.2,220.6 636.2,220.6 635.2,220.7 634.2,220.8 633.1,220.9 632.1,221.1 631.4,221.3 631.1,221.3 630,221.6 629,222 628.5,222.2 628,222.4 626.9,223 626.6,223.2 625.9,223.6 625.2,224.1 624.9,224.3 624,225.1 623.8,225.2 623,226 622.8,226.2 622.2,227 621.8,227.5 621.4,227.9 620.8,228.9 620.7,228.9 620.2,229.8 619.7,230.6 619.6,230.8 619.1,231.7 618.7,232.7 618.3,233.6 617.9,234.5 617.6,235.3 617.6,235.5 617.2,236.4 617,237.4 616.7,238.3 616.6,238.8 616.5,239.3 616.3,240.2 616.1,241.2 615.9,242.1 615.8,243.1 615.7,244 615.6,244.9 615.6,245 615.5,245.9 615.4,246.9 615.3,247.8 615.3,248.8 615.2,249.7 615.2,250.7 615.2,251.6 615.3,252.6 615.3,253.5 615.4,254.5 615.4,255.4 615.5,256.4 615.5,257.3 615.5,258.3 615.4,259.2 615.2,260.2 615,261.1 614.7,262.1 614.5,262.4 614.3,263 613.9,264 613.5,264.8 613.5,264.9 613,265.9 612.5,266.8 612.5,266.9 612.1,267.8 611.7,268.7 611.4,269.3 611.3,269.7 611,270.6 610.7,271.6 610.4,272.5 610.4,272.6 610.2,273.5 610.1,274.4 610,275.4 609.9,276.3 609.9,277.3 610,278.2 610.1,279.2 610.2,280.1 610.4,280.9 610.5,281.1 610.7,282 611,283 611.4,283.9 611.4,284 611.8,284.9 612.3,285.8 612.5,286 612.9,286.8 613.5,287.6 613.6,287.7 614.4,288.7 614.5,288.8 615.3,289.6 615.6,289.9 616.3,290.6 616.6,290.8 617.4,291.5 617.6,291.7 618.6,292.5 618.7,292.6 619.4,293.4 619.5,294.4 619.1,295.3 618.8,296.3 619.2,297.2 619.7,297.5 620.7,298.2 621.8,298.5 622.8,298.8 623.8,299 624.2,299.1Z"/>
<path fill-rule="evenodd" fill="rgb(0,151,255)" stroke="#000" stroke-opacity="0.15" stroke-width="0.5" d="M626.4,298.2 626.9,298.3 628,298.4 629,298.6 630,298.7 631.1,298.7 632.1,298.8 633.1,298.8 634.2,298.8 635.2,298.8 636.2,298.8 637.2,298.8 638.3,298.7 639.3,298.6 640.3,298.5 641.4,298.3 642.4,298.2 642.5,298.2 643.4,297.9 644.5,297.5 645.2,297.2 645.5,296.8 646,296.3 645.6,295.3 645.5,295.1 645,294.4 645.5,293.5 645.6,293.4 646.5,293 647.6,292.5 647.7,292.5 648.6,292.1 649.6,291.7 650.2,291.5 650.7,291.3 651.7,290.8 652.3,290.6 652.7,290.3 653.8,289.7 654,289.6 654.8,289.1 655.4,288.7 655.8,288.3 656.6,287.7 656.9,287.5 657.6,286.8 657.9,286.5 658.5,285.8 658.9,285.3 659.2,284.9 659.9,283.9 660,283.8 660.4,283 660.9,282 661,281.7 661.3,281.1 661.6,280.1 661.8,279.2 662,278.2 662,277.6 662.1,277.3 662.1,276.3 662.1,275.4 662,274.9 662,274.4 661.8,273.5 661.6,272.5 661.3,271.6 661,270.6 660.6,269.7 660.2,268.7 660,268.2 659.7,267.8 659.3,266.8 658.9,266.2 658.8,265.9 658.3,264.9 657.9,264.1 657.8,264 657.5,263 657.1,262.1 656.9,261.1 656.9,260.7 656.8,260.2 656.8,259.2 656.8,258.3 656.9,257.5 656.9,257.3 657,256.4 657.2,255.4 657.3,254.5 657.5,253.5 657.6,252.6 657.7,251.6 657.7,250.7 657.7,249.7 657.7,248.8 657.6,247.8 657.5,246.9 657.4,245.9 657.2,245 657.1,244 656.9,243.1 656.9,242.9 656.7,242.1 656.4,241.2 656.2,240.2 655.9,239.3 655.8,239.2 655.5,238.3 655.1,237.4 654.8,236.7 654.7,236.4 654.2,235.5 653.8,234.7 653.7,234.5 653.1,233.6 652.7,233.1 652.4,232.7 651.7,231.8 651.6,231.7 650.8,230.8 650.7,230.6 649.8,229.8 649.6,229.7 648.6,228.9 648.6,228.8 647.6,228.1 647.2,227.9 646.5,227.5 645.5,227 645.4,227 644.5,226.6 643.4,226.3 642.5,226 642.4,226 641.4,225.8 640.3,225.6 639.3,225.6 638.3,225.5 637.2,225.5 636.2,225.6 635.2,225.6 634.2,225.7 633.1,225.8 632.1,226 631.1,226.2 630,226.6 629,227 628,227.5 627.2,227.9 626.9,228.1 625.9,228.8 625.9,228.9 624.9,229.7 624.8,229.8 623.9,230.8 623.8,230.8 623.2,231.7 622.8,232.2 622.5,232.7 621.9,233.6 621.8,233.8 621.4,234.5 620.9,235.5 620.7,235.9 620.5,236.4 620.1,237.4 619.8,238.3 619.7,238.6 619.5,239.3 619.2,240.2 619,241.2 618.8,242.1 618.7,242.7 618.6,243.1 618.4,244 618.3,245 618.2,245.9 618.1,246.9 618,247.8 618,248.8 617.9,249.7 617.9,250.7 618,251.6 618,252.6 618.1,253.5 618.2,254.5 618.4,255.4 618.5,256.4 618.5,257.3 618.6,258.3 618.5,259.2 618.4,260.2 618.2,261.1 617.9,262.1 617.6,262.8 617.6,263 617.1,264 616.6,264.9 616.1,265.9 615.6,266.8 615.5,266.8 615,267.8 614.6,268.7 614.5,268.7 614.1,269.7 613.7,270.6 613.5,271.2 613.4,271.6 613.1,272.5 612.8,273.5 612.7,274.4 612.6,275.4 612.5,276.3 612.5,277.3 612.6,278.2 612.7,279.2 612.9,280.1 613.1,281.1 613.4,282 613.5,282.2 613.8,283 614.3,283.9 614.5,284.4 614.8,284.9 615.4,285.8 615.6,286 616.2,286.8 616.6,287.3 617,287.7 617.6,288.3 618.1,288.7 618.7,289.1 619.3,289.6 619.7,289.9 620.7,290.5 620.8,290.6 621.8,291.1 622.6,291.5 622.8,291.6 623.8,292.1 624.6,292.5 624.9,292.7 625.9,293.4 625.9,293.5 625.6,294.4 624.9,294.8 624.3,295.3 623.8,295.8 623.5,296.3 623.8,297.1 623.9,297.2 624.9,297.6 625.9,298 626.4,298.2Z"/>
<path fill-rule="evenodd" fill="rgb(0,243,255)" stroke="#000" stroke-opacity="0.3" stroke-width="0.5" d="M630,297.2 631.1,297.4 632.1,297.5 633.1,297.5 634.2,297.6 635.2,297.5 636.2,297.5 637.2,297.4 638.3,297.2 638.4,297.2 639.3,296.3 638.3,295.9 637.2,295.6 636.2,295.5 635.2,295.4 634.2,295.4 633.1,295.4 632.1,295.5 631.1,295.7 630,296 629.4,296.3 630,297.2ZM632.2,291.5 633.1,291.6 634.2,291.6 635.2,291.6 636.2,291.7 637.2,291.6 638.3,291.6 639.3,291.5 639.8,291.5 640.3,291.5 641.4,291.4 642.4,291.2 643.4,291.1 644.5,290.9 645.5,290.6 645.8,290.6 646.5,290.4 647.6,290 648.6,289.7 648.8,289.6 649.6,289.3 650.7,288.8 650.9,288.7 651.7,288.2 652.5,287.7 652.7,287.6 653.8,286.9 653.9,286.8 654.8,286 655,285.8 655.8,285 655.9,284.9 656.7,283.9 656.9,283.7 657.4,283 657.9,282.1 657.9,282 658.4,281.1 658.7,280.1 658.9,279.3 659,279.2 659.2,278.2 659.3,277.3 659.3,276.3 659.3,275.4 659.2,274.4 659,273.5 658.9,273.4 658.7,272.5 658.4,271.6 658,270.6 657.9,270.5 657.5,269.7 657,268.7 656.9,268.5 656.4,267.8 655.8,266.8 655.2,265.9 654.8,265.1 654.7,264.9 654.2,264 653.8,263.1 653.7,263 653.4,262.1 653.1,261.1 653,260.2 653.1,259.2 653.2,258.3 653.3,257.3 653.6,256.4 653.8,255.5 653.8,255.4 654,254.5 654.2,253.5 654.4,252.6 654.5,251.6 654.6,250.7 654.6,249.7 654.6,248.8 654.5,247.8 654.4,246.9 654.2,245.9 654.1,245 653.9,244 653.8,243.6 653.6,243.1 653.4,242.1 653.1,241.2 652.7,240.3 652.7,240.2 652.3,239.3 651.9,238.3 651.7,238.1 651.3,237.4 650.7,236.4 650.7,236.3 650.1,235.5 649.6,235 649.3,234.5 648.6,233.8 648.3,233.6 647.6,232.9 647.2,232.7 646.5,232.1 645.9,231.7 645.5,231.5 644.5,230.9 644,230.8 643.4,230.5 642.4,230.2 641.4,229.9 640.8,229.8 640.3,229.7 639.3,229.6 638.3,229.5 637.2,229.5 636.2,229.6 635.2,229.6 634.2,229.7 633.3,229.8 633.1,229.8 632.1,230 631.1,230.3 630,230.6 629.8,230.8 629,231.1 628,231.7 626.9,232.5 626.7,232.7 625.9,233.4 625.7,233.6 624.9,234.5 624.9,234.6 624.2,235.5 623.8,236.1 623.6,236.4 623.1,237.4 622.8,238 622.6,238.3 622.2,239.3 621.9,240.2 621.8,240.6 621.6,241.2 621.3,242.1 621.1,243.1 620.9,244 620.7,244.9 620.7,245 620.6,245.9 620.5,246.9 620.4,247.8 620.3,248.8 620.3,249.7 620.3,250.7 620.3,251.6 620.4,252.6 620.6,253.5 620.7,254.4 620.8,254.5 620.9,255.4 621.1,256.4 621.3,257.3 621.4,258.3 621.4,259.2 621.4,260.2 621.2,261.1 620.9,262.1 620.7,262.4 620.5,263 620,264 619.7,264.4 619.4,264.9 618.8,265.9 618.7,266 618.2,266.8 617.6,267.7 617.6,267.8 617,268.7 616.6,269.4 616.5,269.7 616,270.6 615.6,271.6 615.6,271.7 615.3,272.5 615,273.5 614.8,274.4 614.7,275.4 614.6,276.3 614.6,277.3 614.7,278.2 614.8,279.2 615.1,280.1 615.3,281.1 615.6,281.7 615.7,282 616.2,283 616.6,283.7 616.7,283.9 617.4,284.9 617.6,285.2 618.2,285.8 618.7,286.3 619.1,286.8 619.7,287.3 620.3,287.7 620.7,288 621.7,288.7 621.8,288.7 622.8,289.2 623.6,289.6 623.8,289.7 624.9,290.1 625.9,290.4 626.3,290.6 626.9,290.7 628,291 629,291.2 630,291.3 631.1,291.4 632.1,291.5 632.2,291.5Z"/>
<path fill-rule="evenodd" fill="rgb(81,255,174)" stroke="#000" stroke-opacity="0.5" stroke-width="0.5" d="M631.6,289.6 632.1,289.6 633.1,289.7 634.2,289.7 635.2,289.8 636.2,289.8 637.2,289.8 638.3,289.7 639.3,289.7 640.1,289.6 640.3,289.6 641.4,289.5 642.4,289.3 643.4,289.2 644.5,288.9 645.5,288.7 646.5,288.4 647.6,288 648.2,287.7 648.6,287.6 649.6,287.1 650.2,286.8 650.7,286.5 651.6,285.8 651.7,285.8 652.7,285 652.8,284.9 653.8,284 653.8,283.9 654.6,283 654.8,282.7 655.3,282 655.8,281.1 655.8,280.9 656.2,280.1 656.5,279.2 656.7,278.2 656.8,277.3 656.9,276.4 656.9,276.3 656.8,275.4 656.7,274.4 656.4,273.5 656.1,272.5 655.8,271.8 655.7,271.6 655.2,270.6 654.8,269.8 654.7,269.7 654.1,268.7 653.8,268.3 653.4,267.8 652.7,266.9 652.7,266.8 651.9,265.9 651.7,265.6 651.2,264.9 650.7,264.1 650.6,264 650,263 649.6,262.2 649.6,262.1 649.3,261.1 649.3,260.2 649.4,259.2 649.6,258.3 649.6,258.1 649.9,257.3 650.2,256.4 650.6,255.4 650.7,255.1 650.9,254.5 651.2,253.5 651.4,252.6 651.6,251.6 651.7,251 651.7,250.7 651.8,249.7 651.7,248.8 651.7,248.7 651.6,247.8 651.5,246.9 651.3,245.9 651.1,245 650.8,244 650.7,243.5 650.5,243.1 650.2,242.1 649.8,241.2 649.6,240.9 649.3,240.2 648.7,239.3 648.6,239.1 648.1,238.3 647.6,237.7 647.3,237.4 646.5,236.6 646.3,236.4 645.5,235.8 645.1,235.5 644.5,235.1 643.5,234.5 643.4,234.5 642.4,234.1 641.4,233.7 640.9,233.6 640.3,233.5 639.3,233.3 638.3,233.2 637.2,233.2 636.2,233.2 635.2,233.3 634.2,233.4 633.1,233.5 632.7,233.6 632.1,233.7 631.1,234 630,234.5 629.9,234.5 629,235.1 628.4,235.5 628,235.8 627.3,236.4 626.9,236.8 626.4,237.4 625.9,238.1 625.7,238.3 625.1,239.3 624.9,239.8 624.6,240.2 624.2,241.2 623.9,242.1 623.8,242.2 623.6,243.1 623.3,244 623.1,245 622.9,245.9 622.8,246.7 622.8,246.9 622.7,247.8 622.6,248.8 622.5,249.7 622.5,250.7 622.6,251.6 622.8,252.6 622.8,252.7 623,253.5 623.2,254.5 623.5,255.4 623.8,256.4 623.8,256.5 624.1,257.3 624.3,258.3 624.4,259.2 624.4,260.2 624.3,261.1 624,262.1 623.8,262.3 623.5,263 622.9,264 622.8,264.1 622.2,264.9 621.8,265.5 621.5,265.9 620.7,266.8 620,267.8 619.7,268.2 619.3,268.7 618.7,269.7 618.2,270.6 617.7,271.6 617.6,271.7 617.3,272.5 617,273.5 616.8,274.4 616.6,275.4 616.6,275.5 616.5,276.3 616.6,277.3 616.6,277.9 616.6,278.2 616.8,279.2 617,280.1 617.4,281.1 617.6,281.6 617.8,282 618.4,283 618.7,283.4 619,283.9 619.7,284.7 619.9,284.9 620.7,285.7 620.9,285.8 621.8,286.5 622.2,286.8 622.8,287.2 623.8,287.7 624.9,288.2 625.9,288.5 626.3,288.7 626.9,288.9 628,289.1 629,289.3 630,289.5 631.1,289.6 631.6,289.6Z"/>
<path fill-rule="evenodd" fill="rgb(174,255,81)" stroke="#000" stroke-opacity="0.7" stroke-width="0.5" d="M629.5,287.7 630,287.8 631.1,287.9 632.1,288 633.1,288.1 634.2,288.1 635.2,288.1 636.2,288.1 637.2,288.1 638.3,288.1 639.3,288 640.3,287.9 641.4,287.8 641.9,287.7 642.4,287.6 643.4,287.4 644.5,287.2 645.5,286.8 645.7,286.8 646.5,286.5 647.6,286 648,285.8 648.6,285.5 649.6,284.9 650.7,284.1 650.9,283.9 651.7,283.2 651.9,283 652.7,282 652.7,281.9 653.3,281.1 653.8,280.2 653.8,280.1 654.2,279.2 654.4,278.2 654.5,277.3 654.6,276.3 654.5,275.4 654.3,274.4 654.1,273.5 653.8,272.7 653.7,272.5 653.2,271.6 652.7,270.8 652.6,270.6 651.9,269.7 651.7,269.4 651.2,268.7 650.7,268.2 650.3,267.8 649.6,267.1 649.4,266.8 648.6,266.1 648.4,265.9 647.6,265.1 647.4,264.9 646.5,264.1 646.4,264 645.6,263 645.5,262.8 645,262.1 644.6,261.1 644.6,260.2 644.8,259.2 645.3,258.3 645.5,257.9 645.8,257.3 646.4,256.4 646.5,256.2 647,255.4 647.5,254.5 647.6,254.4 648,253.5 648.3,252.6 648.6,251.6 648.8,250.7 648.8,249.7 648.7,248.8 648.6,247.8 648.4,246.9 648.2,245.9 647.9,245 647.6,244 647.1,243.1 646.6,242.1 646.5,242 646,241.2 645.5,240.6 645.2,240.2 644.5,239.5 644.2,239.3 643.4,238.7 642.8,238.3 642.4,238.1 641.4,237.6 640.6,237.4 640.3,237.3 639.3,237.1 638.3,237 637.2,236.9 636.2,236.9 635.2,237 634.2,237.1 633.1,237.3 632.6,237.4 632.1,237.5 631.1,237.9 630.3,238.3 630,238.5 629,239.3 628.1,240.2 628,240.4 627.4,241.2 626.9,242 626.8,242.1 626.4,243.1 626,244 625.9,244.3 625.7,245 625.5,245.9 625.3,246.9 625.1,247.8 625,248.8 624.9,249.7 625,250.7 625.1,251.6 625.3,252.6 625.6,253.5 625.9,254.2 626,254.5 626.5,255.4 626.9,256.3 627,256.4 627.5,257.3 628,258.2 628,258.3 628.4,259.2 628.5,260.2 628.4,261.1 628,262.1 627.3,263 626.9,263.4 626.4,264 625.9,264.4 625.4,264.9 624.9,265.4 624.4,265.9 623.8,266.4 623.4,266.8 622.8,267.5 622.5,267.8 621.8,268.6 621.7,268.7 620.9,269.7 620.7,269.9 620.3,270.6 619.7,271.6 619.3,272.5 618.9,273.5 618.7,274.2 618.6,274.4 618.4,275.4 618.4,276.3 618.4,277.3 618.5,278.2 618.7,279.2 619,280.1 619.4,281.1 619.7,281.7 619.9,282 620.6,283 620.7,283.2 621.4,283.9 621.8,284.3 622.5,284.9 622.8,285.1 623.8,285.8 623.9,285.8 624.9,286.3 625.9,286.8 626.9,287.1 628,287.4 629,287.6 629.5,287.7Z"/>
<path fill-rule="evenodd" fill="rgb(255,243,0)" stroke="#000" stroke-opacity="0.7" stroke-width="0.5" d="M628.3,285.8 629,286 630,286.2 631.1,286.3 632.1,286.4 633.1,286.5 634.2,286.5 635.2,286.5 636.2,286.6 637.2,286.5 638.3,286.5 639.3,286.4 640.3,286.3 641.4,286.1 642.4,285.9 643,285.8 643.4,285.7 644.5,285.4 645.5,285 645.8,284.9 646.5,284.5 647.6,284 647.7,283.9 648.6,283.3 649,283 649.6,282.4 650,282 650.7,281.2 650.8,281.1 651.4,280.1 651.7,279.5 651.8,279.2 652.1,278.2 652.3,277.3 652.3,276.3 652.2,275.4 652,274.4 651.7,273.5 651.2,272.5 650.7,271.6 649.9,270.6 649.6,270.3 649,269.7 648.6,269.2 648,268.7 647.6,268.3 646.8,267.8 646.5,267.6 645.5,266.9 645.4,266.8 644.5,266.3 643.7,265.9 643.4,265.7 642.4,265.2 641.6,264.9 641.4,264.8 640.3,264.5 639.3,264.3 638.3,264.1 637.2,264 636.2,264 635.2,264.1 634.2,264.2 633.1,264.3 632.1,264.5 631.1,264.8 630.8,264.9 630,265.2 629,265.6 628.6,265.9 628,266.2 626.9,266.8 625.9,267.5 625.5,267.8 624.9,268.2 624.3,268.7 623.8,269.2 623.3,269.7 622.8,270.3 622.5,270.6 621.8,271.6 621.2,272.5 620.8,273.5 620.7,273.7 620.5,274.4 620.3,275.4 620.2,276.3 620.2,277.3 620.3,278.2 620.6,279.2 620.7,279.7 620.9,280.1 621.4,281.1 621.8,281.6 622.1,282 622.8,282.8 622.9,283 623.8,283.7 624.1,283.9 624.9,284.4 625.7,284.9 625.9,285 626.9,285.4 628,285.7 628.3,285.8ZM633.9,256.4 634.2,256.5 635.2,256.6 636.2,256.7 637.2,256.7 638.3,256.6 639.3,256.4 639.4,256.4 640.3,256.1 641.4,255.6 641.6,255.4 642.4,254.9 642.9,254.5 643.4,253.9 643.8,253.5 644.5,252.6 644.9,251.6 645.2,250.7 645.3,249.7 645.2,248.8 645,247.8 644.7,246.9 644.5,246.3 644.3,245.9 643.8,245 643.4,244.4 643.2,244 642.4,243.2 642.3,243.1 641.4,242.4 640.9,242.1 640.3,241.9 639.3,241.5 638.3,241.3 637.2,241.2 636.2,241.2 635.2,241.3 634.2,241.5 633.1,241.7 632.1,242.1 632,242.1 631.1,242.8 630.7,243.1 630,243.8 629.8,244 629.2,245 629,245.4 628.8,245.9 628.4,246.9 628.2,247.8 628,248.8 627.9,249.7 628,250.7 628.2,251.6 628.6,252.6 629,253.2 629.3,253.5 630,254.4 630.1,254.5 631.1,255.2 631.4,255.4 632.1,255.8 633.1,256.2 633.9,256.4Z"/>
<path fill-rule="evenodd" fill="rgb(255,151,0)" stroke="#000" stroke-opacity="0.7" stroke-width="0.5" d="M632.7,284.9 633.1,284.9 634.2,284.9 635.2,285 636.2,285 637.2,284.9 638.3,284.9 638.5,284.9 639.3,284.8 640.3,284.6 641.4,284.5 642.4,284.2 643.4,283.9 644.5,283.5 645.5,283 645.6,283 646.5,282.4 647,282 647.6,281.5 648.1,281.1 648.6,280.4 648.8,280.1 649.4,279.2 649.6,278.5 649.8,278.2 649.9,277.3 650,276.3 649.9,275.4 649.6,274.4 649.2,273.5 648.6,272.5 647.8,271.6 647.6,271.3 646.9,270.6 646.5,270.4 645.6,269.7 645.5,269.6 644.5,269 643.9,268.7 643.4,268.5 642.4,268.1 641.5,267.8 641.4,267.7 640.3,267.5 639.3,267.3 638.3,267.2 637.2,267.1 636.2,267.1 635.2,267.1 634.2,267.2 633.1,267.2 632.1,267.4 631.1,267.6 630.3,267.8 630,267.9 629,268.2 628,268.7 627.9,268.7 626.9,269.2 626.3,269.7 625.9,269.9 625.1,270.6 624.9,270.8 624.2,271.6 623.8,272 623.4,272.5 622.9,273.5 622.8,273.6 622.5,274.4 622.2,275.4 622.1,276.3 622.1,277.3 622.3,278.2 622.6,279.2 622.8,279.7 623,280.1 623.7,281.1 623.8,281.3 624.6,282 624.9,282.3 625.8,283 625.9,283 626.9,283.5 627.8,283.9 628,284 629,284.3 630,284.5 631.1,284.7 632.1,284.8 632.7,284.9Z"/>
<path fill-rule="evenodd" fill="rgb(238,30,0)" stroke="#000" stroke-opacity="0.7" stroke-width="0.5" d="M631.2,283 632.1,283.1 633.1,283.2 634.2,283.2 635.2,283.2 636.2,283.2 637.2,283.2 638.3,283.1 639.3,283 639.6,283 640.3,282.8 641.4,282.6 642.4,282.2 643,282 643.4,281.8 644.5,281.2 644.7,281.1 645.5,280.4 645.9,280.1 646.5,279.3 646.6,279.2 647.1,278.2 647.4,277.3 647.4,276.3 647.3,275.4 646.9,274.4 646.5,273.8 646.3,273.5 645.5,272.5 644.5,271.7 644.3,271.6 643.4,271 642.6,270.6 642.4,270.5 641.4,270.2 640.3,269.9 639.4,269.7 639.3,269.7 638.3,269.5 637.2,269.4 636.2,269.4 635.2,269.4 634.2,269.5 633.1,269.6 632.2,269.7 632.1,269.7 631.1,269.9 630,270.2 629,270.6 628.8,270.6 628,271.1 627.2,271.6 626.9,271.8 626.1,272.5 625.9,272.7 625.3,273.5 624.9,274.2 624.7,274.4 624.4,275.4 624.3,276.3 624.3,277.3 624.5,278.2 624.9,279.1 624.9,279.2 625.5,280.1 625.9,280.5 626.5,281.1 626.9,281.4 628,282 629,282.4 630,282.7 631.1,282.9 631.2,283Z"/>
<path fill-rule="evenodd" fill="rgb(135,0,0)" stroke="#000" stroke-opacity="0.55" stroke-width="0.5" d="M633,281.1 633.1,281.1 634.2,281.1 635.2,281.2 636.2,281.2 637.2,281.1 637.9,281.1 638.3,281 639.3,280.8 640.3,280.5 641.4,280.2 641.5,280.1 642.4,279.5 642.9,279.2 643.4,278.5 643.7,278.2 644.1,277.3 644.2,276.3 644,275.4 643.4,274.5 643.4,274.4 642.4,273.5 641.4,272.9 640.5,272.5 640.3,272.5 639.3,272.2 638.3,272 637.2,271.9 636.2,271.8 635.2,271.8 634.2,271.9 633.1,272 632.1,272.1 631.1,272.4 630.6,272.5 630,272.8 629,273.3 628.8,273.5 628,274.3 627.8,274.4 627.3,275.4 627,276.3 627.1,277.3 627.4,278.2 628,279 628.1,279.2 629,279.8 629.4,280.1 630,280.4 631.1,280.7 632.1,280.9 633,281.1Z"/>
</g>
<!-- T1-C3 -->
<clipPath id="c8"><polygon points="20.3,451.9 157.8,326.5 157.8,451.9"/></clipPath>
<polygon points="20.3,451.9 157.8,326.5 157.8,451.9" fill="rgb(2,4,143)"/>
<g clip-path="url(#c8)">
<path fill-rule="evenodd" fill="rgb(0,0,232)" d="M45,451.9 45.8,451.9 46.8,451.9 47.8,451.9 48.8,451.9 49.8,451.9 50.7,451.9 51.7,451.9 52.7,451.9 53.7,451.9 54.7,451.9 55.7,451.9 56.6,451.9 57.6,451.9 58.6,451.9 59.6,451.9 60.6,451.9 61.5,451.9 62.5,451.9 63.5,451.9 64.5,451.9 65.5,451.9 66.5,451.9 67.4,451.9 68.4,451.9 69.4,451.9 70.4,451.9 71.4,451.9 72.4,451.9 73.3,451.9 74.3,451.9 75.3,451.9 76.3,451.9 77.3,451.9 78.2,451.9 79.2,451.9 80.2,451.9 81.2,451.9 82.2,451.9 83.2,451.9 84.1,451.9 85.1,451.9 86.1,451.9 87.1,451.9 88.1,451.9 89,451.9 89.2,451.9 90,451.8 91,451.7 92,451.7 93,451.6 94,451.5 94.9,451.4 95.9,451.4 96.9,451.3 97.9,451.3 98.9,451.2 99.9,451.1 100.8,451.1 101.8,451 102.4,451 102.8,451 103.8,450.9 104.8,450.9 105.7,450.9 106.7,450.9 107.7,450.8 108.7,450.8 109.7,450.8 110.7,450.8 111.6,450.8 112.6,450.7 113.6,450.7 114.6,450.7 115.6,450.7 116.5,450.7 117.5,450.6 118.5,450.6 119.5,450.6 120.5,450.5 121.5,450.5 122.4,450.5 123.4,450.4 124.4,450.4 125.4,450.4 126.4,450.3 127.4,450.3 128.3,450.2 129.3,450.2 130.3,450.1 130.7,450.1 131.3,450.1 132.3,450 133.2,450 134.2,449.9 135.2,449.8 136.2,449.8 137.2,449.7 138.2,449.6 139.1,449.5 140.1,449.5 141.1,449.4 142.1,449.3 142.8,449.2 143.1,449.2 144.1,449.1 145,448.9 146,448.8 147,448.7 148,448.5 149,448.4 149.3,448.3 149.9,448.1 150.9,447.9 151.9,447.6 152.4,447.4 152.6,446.5 151.9,446.3 150.9,445.9 150.2,445.6 149.9,445.6 149,445.4 148,445.3 147,445.1 146,445 145,444.8 144.4,444.7 144.1,444.7 143.1,444.6 142.1,444.5 141.1,444.4 140.1,444.3 139.1,444.2 138.2,444.1 137.2,444.1 136.2,444 135.2,443.9 134.2,443.9 133.9,443.8 133.2,443.8 132.3,443.7 131.3,443.7 130.3,443.6 129.3,443.6 128.3,443.5 127.4,443.5 126.4,443.4 125.4,443.4 124.4,443.4 123.4,443.3 122.4,443.3 121.5,443.3 120.5,443.2 119.5,443.2 118.5,443.2 117.5,443.1 116.5,443.1 115.6,443.1 114.6,443.1 113.6,443 112.6,443 111.6,443 110.7,443 109.7,443 109.1,442.9 108.7,442.9 107.7,442.9 106.7,442.9 105.7,442.8 104.8,442.8 103.8,442.7 102.8,442.7 101.8,442.6 100.8,442.5 99.9,442.4 98.9,442.4 97.9,442.3 96.9,442.2 95.9,442.1 95.9,442 94.9,441.9 94,441.8 93,441.6 92,441.5 91,441.3 90,441.2 89.7,441.2 89,441 88.1,440.9 87.1,440.7 86.1,440.6 85.1,440.5 84.1,440.4 83.2,440.3 82.2,440.1 81.2,440 80.2,439.9 79.2,439.7 78.2,439.5 77.7,439.4 77.3,439.1 76.3,438.5 76.2,438.5 75.6,437.6 75.5,436.7 76,435.8 76.3,435.4 76.9,434.9 77.3,434.7 78.2,434.2 78.7,434 79.2,433.8 80.2,433.6 81.2,433.5 82.2,433.4 83.2,433.4 84.1,433.4 85.1,433.3 86.1,433.3 87.1,433.3 88.1,433.3 89,433.3 90,433.3 91,433.3 92,433.2 93,433.2 94,433.2 94.9,433.2 95.9,433.1 96.9,433.1 97.2,433.1 97.9,433.1 98.9,433 99.9,433 100.8,433 101.8,432.9 102.8,432.9 103.8,432.8 104.8,432.8 105.7,432.7 106.7,432.6 107.7,432.6 108.7,432.5 109.7,432.4 110.7,432.4 111.6,432.3 112.5,432.2 112.6,432.2 113.6,432.1 114.6,432 115.6,431.9 116.5,431.8 117.5,431.7 118.5,431.5 119.5,431.4 120.3,431.3 120.5,431.3 121.5,431.1 122.4,430.9 123.4,430.7 124.4,430.5 125.1,430.4 125.4,430.3 126.4,430 127.4,429.7 127.8,429.5 128.3,429.1 128.9,428.6 128.6,427.7 128.3,427.6 127.4,427.1 126.7,426.8 126.4,426.7 125.4,426.5 124.4,426.3 123.4,426 123,425.9 122.4,425.8 121.5,425.7 120.5,425.5 119.5,425.4 118.5,425.2 117.5,425.1 116.9,425 116.5,425 115.6,424.9 114.6,424.8 113.6,424.7 112.6,424.6 111.6,424.5 110.7,424.4 109.7,424.3 108.7,424.3 107.7,424.2 106.7,424.1 106.6,424.1 105.7,424.1 104.8,424 103.8,424 102.8,423.9 101.8,423.9 100.8,423.8 99.9,423.8 98.9,423.7 97.9,423.7 96.9,423.7 95.9,423.6 94.9,423.6 94,423.6 93,423.6 92,423.5 91,423.5 90,423.5 89,423.5 88.1,423.5 87.1,423.5 86.1,423.5 85.1,423.4 84.1,423.4 83.2,423.4 82.2,423.4 81.2,423.3 80.2,423.2 79.2,423.1 78.2,422.8 77.3,422.4 77.1,422.3 76.3,422 75.3,421.5 75.2,421.4 74.3,421 73.3,420.6 73.3,420.5 72.4,420.1 71.4,419.8 70.9,419.7 70.4,419.5 69.4,419.2 68.4,419.1 67.4,418.9 66.5,418.9 65.5,418.8 64.5,418.8 63.5,418.8 62.5,418.8 61.5,418.8 60.6,418.8 59.6,418.8 58.6,418.8 57.6,418.9 56.6,419 55.7,419.1 54.7,419.6 54.6,419.7 53.7,420.3 53.4,420.5 52.7,421.1 52.4,421.4 51.7,422 51.3,422.3 50.7,422.9 50.3,423.2 49.8,423.8 49.4,424.1 48.8,424.7 48.5,425 47.8,425.8 47.6,425.9 47,426.8 46.9,427.7 46.8,428.6 46.9,429.5 47,430.4 47.1,431.3 47.4,432.2 47.6,433.1 47.8,433.8 47.8,434 47.9,434.9 47.9,435.8 47.8,436.1 47.6,436.7 47,437.6 46.8,437.9 46.3,438.5 45.8,439.1 45.6,439.4 45,440.3 44.9,440.5 44.4,441.2 44,442 43.9,442.5 43.7,442.9 43.4,443.8 43.3,444.7 43.2,445.6 43.3,446.5 43.4,447.4 43.6,448.3 43.9,449.1 43.9,449.2 44.2,450.1 44.5,451 44.9,451.7 45,451.9Z"/>
<path fill-rule="evenodd" fill="rgb(0,99,255)" stroke="#000" stroke-opacity="0.1" stroke-width="0.5" d="M47.1,451.9 47.8,451.9 48.8,451.9 49.8,451.9 50.7,451.9 51.7,451.9 52.7,451.9 53.7,451.9 54.7,451.9 55.7,451.9 56.6,451.9 57.6,451.9 58.6,451.9 59.6,451.9 60.6,451.9 61.5,451.9 62.5,451.9 63.5,451.9 64.5,451.9 65.5,451.9 66.5,451.9 67.4,451.9 68.4,451.9 69.4,451.9 70.4,451.9 71.4,451.9 72.4,451.9 73.3,451.9 74.3,451.9 75.3,451.9 76.3,451.9 77.3,451.9 78,451.9 78.2,451.8 79.2,451.5 80.2,451.3 81.2,451.2 82.2,451.1 82.7,451 83.2,451 84.1,450.8 85.1,450.7 86.1,450.6 87.1,450.5 88.1,450.4 89,450.2 90,450.1 91,450 92,449.8 93,449.7 94,449.6 94.9,449.5 95.9,449.4 96.9,449.3 97.6,449.2 97.9,449.2 98.9,449.1 99.9,449 100.8,448.8 101.8,448.7 102.8,448.6 103.8,448.6 104.8,448.5 105.7,448.4 106.7,448.3 107.3,448.3 107.7,448.3 108.7,448.2 109.7,448.1 110.7,448 111.6,448 112.6,447.9 113.6,447.8 114.6,447.7 115.6,447.6 116.5,447.5 117.5,447.4 117.6,447.4 118.4,446.5 117.5,446.4 116.5,446.3 115.6,446.2 114.6,446.1 113.6,446 112.6,445.9 111.6,445.8 110.7,445.7 110.2,445.6 109.7,445.6 108.7,445.5 107.7,445.5 106.7,445.4 105.7,445.3 104.8,445.3 103.8,445.2 102.8,445.1 101.8,444.9 100.8,444.8 100.6,444.7 99.9,444.6 98.9,444.5 97.9,444.4 96.9,444.2 95.9,444.1 94.9,443.9 94.6,443.8 94,443.7 93,443.6 92,443.4 91,443.2 90,443 89.8,442.9 89,442.8 88.1,442.6 87.1,442.4 86.1,442.3 85.1,442.1 84.7,442 84.1,442 83.2,441.8 82.2,441.7 81.2,441.6 80.2,441.5 79.2,441.4 78.2,441.2 78,441.2 77.3,440.9 76.3,440.6 75.6,440.3 75.3,440.1 74.3,439.5 74,439.4 73.3,438.8 72.8,438.5 72.4,437.9 72.1,437.6 71.8,436.7 72.1,435.8 72.4,435.4 72.8,434.9 73.3,434.3 73.7,434 74.3,433.5 74.8,433.1 75.3,432.7 75.9,432.2 76.3,431.9 77.2,431.3 77.3,431.3 78.2,430.7 78.8,430.4 79.2,430.2 80.2,429.8 81.2,429.7 82.2,429.6 83.2,429.6 84.1,429.6 85.1,429.5 85.2,429.5 86.1,429.4 87.1,429.4 88.1,429.3 89,429.2 90,429.1 91,429 92,428.9 93,428.7 93.6,428.6 93,428.3 92,427.9 91.6,427.7 91,427.7 90,427.6 89,427.5 88.1,427.5 87.1,427.4 86.1,427.4 85.1,427.3 84.1,427.3 83.2,427.2 82.2,427.2 81.2,427.1 80.2,426.9 80,426.8 79.2,426.6 78.2,426.2 77.9,425.9 77.3,425.6 76.4,425 76.3,424.9 75.3,424.3 75.1,424.1 74.3,423.7 73.6,423.2 73.3,423.1 72.4,422.6 71.8,422.3 71.4,422.1 70.4,421.8 69.4,421.5 69.2,421.4 68.4,421.3 67.4,421.1 66.5,421 65.5,420.9 64.5,420.9 63.5,420.9 62.5,420.9 61.5,420.9 60.6,420.9 59.6,421 58.6,421 57.6,421.1 56.6,421.2 55.7,421.4 55.5,421.4 54.7,421.7 53.7,422 53.1,422.3 52.7,422.5 51.7,423.2 50.8,424.1 50.7,424.2 50.1,425 49.8,425.8 49.7,425.9 49.4,426.8 49.2,427.7 49.2,428.6 49.3,429.5 49.4,430.4 49.7,431.3 49.8,431.5 50,432.2 50.4,433.1 50.7,433.8 50.8,434 51.1,434.9 51.2,435.8 51,436.7 50.7,437 50.4,437.6 49.8,438.1 49.3,438.5 48.8,438.9 48.2,439.4 47.8,439.7 47.2,440.3 46.8,440.7 46.4,441.2 45.8,442 45.4,442.9 45.1,443.8 44.9,444.7 44.9,445.1 44.8,445.6 44.8,446.5 44.9,446.6 45,447.4 45.2,448.3 45.6,449.2 45.8,449.6 46.1,450.1 46.5,451 46.8,451.4 47.1,451.9Z"/>
<path fill-rule="evenodd" fill="rgb(0,212,255)" stroke="#000" stroke-opacity="0.3" stroke-width="0.5" d="M48.9,451.9 49.8,451.9 50.7,451.9 51.7,451.9 52.7,451.9 53.7,451.9 54.7,451.9 55.7,451.9 56.6,451.9 57.6,451.9 58.6,451.9 59.6,451.9 60.6,451.9 61.5,451.9 62.5,451.9 63.5,451.9 64.5,451.9 65.5,451.9 66.5,451.9 67.4,451.9 68.4,451.9 69.4,451.9 70.4,451.9 71.4,451.9 72.4,451.9 73.3,451.9 74.3,451.9 75.3,451.9 76.3,451.3 76.8,451 77.3,450.8 78.2,450.4 79.2,450.2 80,450.1 80.2,450.1 81.2,450 82.2,449.9 83.2,449.7 84.1,449.6 85.1,449.5 86.1,449.3 86.6,449.2 87.1,449.1 88.1,448.9 89,448.7 90,448.5 90.7,448.3 91,448.2 92,447.9 93,447.5 93.3,447.4 94,446.5 93,445.8 92.8,445.6 92,445.4 91,445 90.4,444.7 90,444.6 89,444.4 88.1,444.1 87.1,443.8 86.1,443.6 85.1,443.4 84.1,443.2 83.2,443.1 82.4,442.9 82.2,442.9 81.2,442.8 80.2,442.7 79.2,442.5 78.2,442.3 77.3,442.1 77.1,442 76.3,441.7 75.3,441.3 75,441.2 74.3,440.8 73.3,440.4 73.1,440.3 72.4,439.8 71.4,439.4 70.4,438.8 69.8,438.5 69.4,438.2 68.6,437.6 68.4,437.3 68.1,436.7 68.4,435.8 69.3,434.9 69.4,434.8 70.4,434 71.4,433.3 71.6,433.1 72.4,432.5 72.7,432.2 73.3,431.6 73.6,431.3 74.3,430.5 74.4,430.4 75,429.5 75.2,428.6 75.1,427.7 74.7,426.8 74.3,426.4 73.9,425.9 73.3,425.4 72.9,425 72.4,424.6 71.6,424.1 71.4,424 70.4,423.6 69.5,423.2 69.4,423.2 68.4,423 67.4,422.8 66.5,422.6 65.5,422.6 64.5,422.5 63.5,422.5 62.5,422.5 61.5,422.6 60.6,422.6 59.6,422.6 58.6,422.7 57.6,422.8 56.6,422.9 55.7,423.2 55.5,423.2 54.7,423.6 53.7,424.1 53.6,424.1 52.7,424.9 52.5,425 51.9,425.9 51.7,426.2 51.4,426.8 51.2,427.7 51.1,428.6 51.2,429.5 51.5,430.4 51.7,431 51.9,431.3 52.4,432.2 52.7,432.7 53,433.1 53.7,434 54.3,434.9 54.7,435.8 54.7,435.9 54.6,436.7 53.9,437.6 53.7,437.7 52.7,438.3 52.5,438.5 51.7,438.8 50.8,439.4 50.7,439.4 49.8,439.9 49.3,440.3 48.8,440.6 48.1,441.2 47.8,441.4 47.3,442 46.8,442.7 46.7,442.9 46.3,443.8 46,444.7 45.9,445.6 46,446.5 46.2,447.4 46.5,448.3 46.8,448.9 47,449.2 47.6,450.1 47.8,450.5 48.2,451 48.8,451.8 48.9,451.9Z"/>
<path fill-rule="evenodd" fill="rgb(71,255,184)" stroke="#000" stroke-opacity="0.5" stroke-width="0.5" d="M50.5,451.9 50.7,451.9 51.7,451.9 52.7,451.9 53.7,451.9 54.7,451.9 55.7,451.9 56.6,451.9 57.6,451.9 58.6,451.9 59.6,451.9 60.6,451.9 61.5,451.9 62.5,451.9 63.5,451.9 64.5,451.9 65.5,451.9 66.5,451.9 67.4,451.9 68.4,451.9 69.4,451.9 70.4,451.9 71.4,451.9 72.4,451.9 73.3,451.9 73.5,451.9 74.3,451.2 74.6,451 75.3,450.6 76,450.1 76.3,450 77.3,449.6 78.2,449.3 78.6,449.2 79.2,449.1 80.2,448.9 81.2,448.8 82.2,448.7 83.2,448.5 84,448.3 84.1,448.3 85.1,448 86.1,447.7 86.7,447.4 87.1,447 87.6,446.5 87.1,445.9 86.9,445.6 86.1,445.3 85.1,444.8 84.8,444.7 84.1,444.5 83.2,444.3 82.2,444.1 81.2,443.9 80.7,443.8 80.2,443.8 79.2,443.6 78.2,443.4 77.3,443.1 76.9,442.9 76.3,442.7 75.3,442.3 74.9,442 74.3,441.8 73.3,441.4 72.9,441.2 72.4,440.9 71.4,440.5 70.6,440.3 70.4,440.1 69.4,439.8 68.4,439.5 67.8,439.4 67.4,439.2 66.5,439 65.5,438.7 64.5,438.6 63.6,438.5 63.5,438.4 62.5,438.3 61.5,438.2 60.6,438.2 59.6,438.3 58.6,438.5 57.6,438.6 56.6,438.8 55.7,439 54.7,439.3 54.5,439.4 53.7,439.6 52.7,439.8 51.7,440.2 51.7,440.3 50.7,440.6 49.8,441.2 48.8,441.9 48.7,442 47.9,442.9 47.8,443.1 47.4,443.8 47.1,444.7 47,445.6 47,446.5 47.3,447.4 47.7,448.3 47.8,448.5 48.3,449.2 48.8,449.8 49,450.1 49.7,451 49.8,451.1 50.5,451.9ZM58.4,434 58.6,434.1 59.6,434.4 60.6,434.5 61.5,434.5 62.5,434.5 63.5,434.4 64.5,434.2 65.2,434 65.5,433.9 66.5,433.6 67.4,433.3 67.8,433.1 68.4,432.8 69.4,432.3 69.6,432.2 70.4,431.6 70.8,431.3 71.4,430.8 71.7,430.4 72.3,429.5 72.4,429.2 72.5,428.6 72.4,427.7 72.4,427.6 71.9,426.8 71.4,426.2 71.1,425.9 70.4,425.4 69.7,425 69.4,424.9 68.4,424.6 67.4,424.3 66.5,424.1 66.4,424.1 65.5,424.1 64.5,424 63.5,424 62.5,424 61.5,424.1 60.6,424.1 59.6,424.1 58.6,424.2 57.6,424.4 56.6,424.6 55.7,425 55.6,425 54.7,425.6 54.3,425.9 53.7,426.6 53.6,426.8 53.2,427.7 53.1,428.6 53.3,429.5 53.6,430.4 53.7,430.5 54.3,431.3 54.7,431.8 55.2,432.2 55.7,432.6 56.4,433.1 56.6,433.2 57.6,433.7 58.4,434Z"/>
<path fill-rule="evenodd" fill="rgb(184,255,71)" stroke="#000" stroke-opacity="0.7" stroke-width="0.5" d="M52.2,451.9 52.7,451.9 53.7,451.9 54.7,451.9 55.7,451.9 56.6,451.9 57.6,451.9 58.6,451.9 59.6,451.9 60.6,451.9 61.5,451.9 62.5,451.9 63.5,451.9 64.5,451.9 65.5,451.9 66.5,451.9 67.4,451.9 68.4,451.9 69.4,451.9 70.4,451.9 71.4,451.9 72,451.9 72.4,451.5 72.9,451 73.3,450.6 74,450.1 74.3,449.9 75.3,449.4 75.6,449.2 76.3,448.9 77.3,448.4 77.6,448.3 78.2,448.1 79.2,447.8 80.2,447.5 80.7,447.4 81.2,447.1 82.2,446.6 82.2,446.5 82.2,446.4 81.5,445.6 81.2,445.5 80.2,445.2 79.2,444.9 78.9,444.7 78.2,444.6 77.3,444.2 76.7,443.8 76.3,443.7 75.3,443.1 74.9,442.9 74.3,442.7 73.3,442.2 72.9,442 72.4,441.8 71.4,441.4 70.5,441.2 70.4,441.1 69.4,440.8 68.4,440.6 67.4,440.4 66.5,440.3 66.3,440.3 65.5,440.2 64.5,440.1 63.5,440 62.5,440 61.5,440 60.6,440 59.6,440 58.6,440 57.6,440.1 56.6,440.2 56.3,440.3 55.7,440.3 54.7,440.5 53.7,440.7 52.7,440.9 52.1,441.2 51.7,441.3 50.7,441.7 50.2,442 49.8,442.3 49.1,442.9 48.8,443.3 48.4,443.8 48.1,444.7 47.9,445.6 48,446.5 48.3,447.4 48.8,448.2 48.9,448.3 49.7,449.2 49.8,449.3 50.6,450.1 50.7,450.3 51.3,451 51.7,451.4 52.2,451.9ZM58.7,431.3 59.6,431.5 60.6,431.6 61.5,431.6 62.5,431.7 63.5,431.7 64.5,431.6 65.5,431.5 66.5,431.3 66.6,431.3 67.4,431 68.4,430.5 68.5,430.4 69.4,429.5 69.7,428.6 69.6,427.7 69.4,427.5 68.8,426.8 68.4,426.6 67.4,426.1 66.8,425.9 66.5,425.9 65.5,425.7 64.5,425.7 63.5,425.7 62.5,425.7 61.5,425.8 60.6,425.8 59.6,425.9 59.3,425.9 58.6,426.1 57.6,426.4 56.7,426.8 56.6,426.8 55.9,427.7 55.7,428.6 56,429.5 56.6,430.3 56.8,430.4 57.6,430.9 58.6,431.3 58.7,431.3Z"/>
<path fill-rule="evenodd" fill="rgb(255,228,0)" stroke="#000" stroke-opacity="0.7" stroke-width="0.5" d="M53.8,451.9 54.7,451.9 55.7,451.9 56.6,451.9 57.6,451.9 58.6,451.9 59.6,451.9 60.6,451.9 61.5,451.9 62.5,451.9 63.5,451.9 64.5,451.9 65.5,451.9 66.5,451.9 67.4,451.9 68.4,451.9 69.4,451.9 70.4,451.9 70.5,451.9 71.2,451 71.4,450.8 72,450.1 72.4,449.9 73.3,449.4 73.6,449.2 74.3,448.9 75.3,448.3 75.4,448.3 76.3,447.6 76.6,447.4 77.3,446.6 77.3,446.5 77.3,446.4 77.1,445.6 76.3,444.9 76.2,444.7 75.3,444.1 74.9,443.8 74.3,443.5 73.3,443 73.1,442.9 72.4,442.6 71.4,442.2 70.8,442 70.4,441.9 69.4,441.7 68.4,441.5 67.4,441.3 66.5,441.2 65.6,441.2 65.5,441.1 64.5,441.1 63.5,441.1 62.5,441.1 61.5,441.1 60.6,441.1 59.6,441.1 58.6,441.1 57.6,441.1 57.5,441.2 56.6,441.2 55.7,441.3 54.7,441.4 53.7,441.6 52.7,441.9 52.2,442 51.7,442.2 50.7,442.8 50.5,442.9 49.8,443.6 49.6,443.8 49.1,444.7 48.9,445.6 49,446.5 49.4,447.4 49.8,447.9 50.2,448.3 50.7,448.8 51.3,449.2 51.7,449.6 52.4,450.1 52.7,450.5 53.1,451 53.7,451.8 53.8,451.9Z"/>
<path fill-rule="evenodd" fill="rgb(255,105,0)" stroke="#000" stroke-opacity="0.7" stroke-width="0.5" d="M55.5,451.9 55.7,451.9 56.6,451.9 57.6,451.9 58.6,451.9 59.6,451.9 60.6,451.9 61.5,451.9 62.5,451.9 63.5,451.9 64.5,451.9 65.5,451.9 66.5,451.9 67.4,451.9 68.4,451.9 68.9,451.9 69.4,451 69.7,450.1 70.4,449.7 71.3,449.2 71.4,449.2 72.4,448.8 73.3,448.3 73.4,448.3 74.3,447.8 74.8,447.4 75.3,446.7 75.4,446.5 75.3,445.6 74.6,444.7 74.3,444.6 73.3,443.9 73.2,443.8 72.4,443.4 71.4,443 71.2,442.9 70.4,442.7 69.4,442.4 68.4,442.3 67.4,442.1 66.5,442 65.5,442 64.5,442 63.5,442 62.5,442 61.5,442 60.6,442 59.6,442 58.6,442 57.6,442 57.3,442 56.6,442.1 55.7,442.2 54.7,442.3 53.7,442.5 52.7,442.8 52.4,442.9 51.7,443.3 50.9,443.8 50.7,444 50.3,444.7 50,445.6 50.1,446.5 50.7,447.4 50.7,447.5 51.7,448.3 51.8,448.3 52.7,448.8 53.6,449.2 53.7,449.3 54.7,449.9 54.9,450.1 55,451 55.5,451.9Z"/>
<path fill-rule="evenodd" fill="rgb(238,0,0)" stroke="#000" stroke-opacity="0.55" stroke-width="0.5" d="M57.4,451.9 57.6,451.9 58.6,451.9 59.6,451.9 60.6,451.9 61.5,451.9 62.5,451.9 63.5,451.9 64.5,451.9 65.5,451.9 66.5,451.9 67.1,451.9 67.3,451 66.5,450.3 65.9,450.1 66.1,449.2 66.5,449.2 67.4,449.1 68.4,448.9 69.4,448.7 70.4,448.5 70.8,448.3 71.4,448.1 72.4,447.7 72.9,447.4 73.3,447 73.7,446.5 73.7,445.6 73.3,445.2 72.9,444.7 72.4,444.4 71.4,443.9 71.3,443.8 70.4,443.5 69.4,443.3 68.4,443.1 67.4,442.9 66.5,442.9 65.5,442.8 64.5,442.8 63.5,442.8 62.5,442.8 61.5,442.9 60.6,442.9 59.6,442.9 58.6,442.9 57.6,442.9 57.2,442.9 56.6,443 55.7,443.1 54.7,443.2 53.7,443.5 52.8,443.8 52.7,443.9 51.7,444.7 51.3,445.6 51.5,446.5 51.7,446.8 52.4,447.4 52.7,447.6 53.7,448.1 54.6,448.3 54.7,448.3 55.7,448.6 56.6,448.7 57.6,448.9 58.6,449 59.6,449.1 60.6,449.2 61,449.2 60.6,449.3 59.6,449.7 59.2,450.1 58.6,450.3 57.6,450.8 57.4,451 57.4,451.9Z"/>
<path fill-rule="evenodd" fill="rgb(128,0,0)" stroke="#000" stroke-opacity="0.4" stroke-width="0.5" d="M60,451.9 60.6,451.9 61.5,451.9 62.5,451.9 63.5,451.9 64.5,451.9 64.6,451.9 64.5,451.7 63.5,451.1 63.2,451 62.5,451 61.5,451 60.6,451.4 60,451.9ZM56.3,447.4 56.6,447.5 57.6,447.5 58.6,447.6 59.6,447.6 60.6,447.6 61.5,447.6 62.5,447.7 63.5,447.7 64.5,447.8 65.5,447.8 66.5,447.8 67.4,447.8 68.4,447.7 69.4,447.6 70.1,447.4 70.4,447.3 71.4,446.8 71.7,446.5 71.7,445.6 71.4,445.3 70.7,444.7 70.4,444.6 69.4,444.3 68.4,444 67.4,443.9 66.9,443.8 66.5,443.8 65.5,443.8 64.5,443.8 63.5,443.8 63,443.8 62.5,443.9 61.5,443.9 60.6,443.9 59.6,443.9 58.6,443.9 57.6,444 56.6,444.1 55.7,444.2 54.7,444.5 54,444.7 53.7,445 53.2,445.6 53.6,446.5 53.7,446.6 54.7,447 55.7,447.3 56.3,447.4Z"/>
</g>
<!-- T2-C3 -->
<clipPath id="c9"><polygon points="191.3,451.9 331.8,330.6 331.8,451.9"/></clipPath>
<polygon points="191.3,451.9 331.8,330.6 331.8,451.9" fill="rgb(2,4,143)"/>
<g clip-path="url(#c9)">
<path fill-rule="evenodd" fill="rgb(0,0,232)" d="M222.1,451.9 222.4,451.9 223.4,451.9 224.4,451.9 225.4,451.9 226.4,451.9 227.4,451.9 228.4,451.9 229.4,451.9 230.4,451.9 231.4,451.9 232.4,451.9 233.5,451.9 234.5,451.9 235.5,451.9 236.5,451.9 237.5,451.9 238.5,451.9 239.5,451.9 240.5,451.9 241.5,451.9 242.5,451.9 243.5,451.9 244.5,451.9 245.5,451.9 246.5,451.9 247.5,451.9 248.5,451.9 249.5,451.9 250.5,451.9 251.5,451.9 252.5,451.9 253.5,451.9 254.5,451.9 255.5,451.9 256.5,451.9 257.5,451.9 258.5,451.9 259.5,451.9 260.5,451.9 261.6,451.9 262.6,451.9 263.6,451.9 264.6,451.9 265.6,451.9 266.6,451.9 267.6,451.9 268.6,451.9 269.6,451.9 270.6,451.9 271.6,451.9 272.6,451.9 273.6,451.9 274.6,451.9 275.6,451.9 276.6,451.9 277.6,451.9 278.6,451.9 279.6,451.9 280.6,451.9 281.6,451.9 282.6,451.9 283.6,451.9 284.6,451.9 285.6,451.9 286.6,451.9 287.6,451.9 288.6,451.9 289.6,451.9 290.7,451.9 291.7,451.9 292.7,451.9 293.7,451.9 294.7,451.9 295.7,451.9 296.7,451.9 297.7,451.9 298.7,451.9 299.7,451.9 300.7,451.9 301.7,451.9 302.7,451.9 303.7,451.9 304.7,451.9 305.7,451.9 306.6,451.9 306.7,451.9 307.7,451.7 308.7,451.6 309.7,451.4 310.7,451.2 311.6,451 311.7,451 312.7,450.8 313.7,450.7 314.7,450.5 315.7,450.4 316.7,450.3 317.8,450.2 318.8,450.1 319.8,450 320.8,449.9 321.8,449.8 322.8,449.7 323.8,449.6 324.8,449.6 325.8,449.5 326.8,449.4 327.6,449.3 327.8,449.3 328.8,449.1 329.8,449 330.8,448.9 331.8,448.7 331.8,448.4 331.8,447.6 331.8,446.7 331.8,445.8 331.8,445.7 330.8,445.6 329.8,445.5 328.8,445.3 327.8,445.2 326.8,445.2 325.8,445.1 324.8,445 324.7,445 323.8,444.9 322.8,444.8 321.8,444.8 320.8,444.7 319.8,444.6 318.8,444.5 317.8,444.4 316.7,444.3 315.7,444.2 315.1,444.1 314.7,444.1 313.7,443.9 312.7,443.7 311.7,443.5 310.7,443.3 310.5,443.2 309.7,443 308.7,442.8 307.7,442.6 306.7,442.4 306.6,442.4 305.7,442.1 304.7,441.9 303.7,441.7 302.7,441.5 301.7,441.2 300.7,440.9 299.7,440.7 299.5,440.6 298.7,440.3 297.7,440 296.7,439.8 296.6,439.8 295.7,439.5 294.7,439.2 293.7,439 293,438.9 292.7,438.8 291.7,438.5 290.7,438.3 289.6,438.2 288.6,438.1 288.5,438 288.6,437.6 288.8,437.2 289.7,437.1 290.7,436.9 291.7,436.7 292.7,436.5 293.2,436.3 293.7,436.2 294.7,436.1 295.7,435.9 296.7,435.7 297.7,435.4 298.7,435.2 299.7,435 300.7,434.8 301.5,434.6 301.7,434.5 302.7,434.3 303.7,434 304.7,433.7 305.7,433.4 306.7,433.1 307.5,432.8 307.7,432.8 308.7,432.4 309.7,432.1 310,432 310.7,431.7 311.7,431.3 312.1,431.1 312.7,430.7 313.5,430.2 313.7,429.9 314.1,429.4 313.9,428.5 313.7,428.4 312.9,427.6 312.7,427.6 311.7,427.1 311.1,426.8 310.7,426.6 309.7,426.2 308.9,425.9 308.7,425.8 307.7,425.5 306.7,425.1 306.4,425 305.7,424.8 304.7,424.5 303.8,424.2 303.7,424.1 302.7,423.8 301.7,423.5 301,423.3 300.7,423.2 299.7,422.9 298.7,422.6 297.9,422.4 297.7,422.4 296.7,422.1 295.7,421.9 294.7,421.7 293.9,421.6 293.7,421.5 292.7,421.4 291.7,421.2 290.7,421.1 289.6,421 288.6,420.9 287.6,420.8 286.6,420.7 286.4,420.7 285.6,420.7 284.6,420.6 283.6,420.6 282.6,420.5 281.6,420.5 280.6,420.5 279.6,420.4 278.6,420.4 277.6,420.4 276.6,420.4 275.6,420.4 274.6,420.4 273.6,420.4 272.6,420.4 271.6,420.4 270.6,420.4 269.6,420.4 268.6,420.4 267.6,420.4 266.6,420.4 265.6,420.4 264.6,420.3 263.6,420.3 262.6,420.3 261.6,420.3 260.5,420.2 259.5,420.2 258.5,420.2 257.5,420.2 256.5,420.2 255.5,420.2 254.5,420.3 253.5,420.3 252.5,420.3 251.5,420.4 250.5,420.4 249.5,420.4 248.5,420.4 247.5,420.3 246.5,420.3 245.5,420.2 244.5,420.1 243.5,420 242.5,419.9 241.5,419.8 240.5,419.8 239.5,419.7 238.5,419.7 237.5,419.7 236.5,419.7 235.5,419.8 235.2,419.8 234.5,419.9 233.5,420 232.4,420.2 231.4,420.3 230.4,420.6 229.9,420.7 229.4,420.8 228.4,421.1 227.4,421.5 227.1,421.6 226.4,421.8 225.4,422.3 225.1,422.4 224.4,422.8 223.6,423.3 223.4,423.4 222.4,424.2 221.4,425 220.6,425.9 220.4,426.3 220.1,426.8 219.6,427.6 219.4,428.4 219.4,428.5 219.2,429.4 219.2,430.2 219.3,431.1 219.4,431.7 219.4,432 219.6,432.8 219.8,433.7 220,434.6 220.2,435.4 220.4,436 220.5,436.3 220.8,437.2 221.1,438 221.4,438.9 221.6,439.8 221.6,440.6 221.5,441.5 221.4,441.8 221.3,442.4 221.1,443.2 220.9,444.1 220.8,445 220.8,445.8 220.8,446.7 220.9,447.6 221,448.4 221.1,449.3 221.4,450.2 221.7,451 222.1,451.9Z"/>
<path fill-rule="evenodd" fill="rgb(0,99,255)" stroke="#000" stroke-opacity="0.1" stroke-width="0.5" d="M224.4,451.9 225.4,451.9 226.4,451.9 227.4,451.9 228.4,451.9 229.4,451.9 230.4,451.9 231.4,451.9 232.4,451.9 233.5,451.9 234.5,451.9 235.5,451.9 236.5,451.9 237.5,451.9 238.5,451.9 239.5,451.9 240.5,451.9 241.5,451.9 242.5,451.9 243.5,451.9 244.5,451.9 245.5,451.9 246.5,451.9 247.5,451.9 248.5,451.9 249.5,451.9 250.5,451.9 251.5,451.9 252.5,451.9 253.5,451.9 254.5,451.9 255.5,451.9 256.5,451.9 257.5,451.9 258.5,451.9 259.5,451.9 260.5,451.9 261.6,451.9 262.6,451.9 263.6,451.9 264.6,451.9 265.6,451.9 266.6,451.9 267.6,451.9 268.6,451.9 269.6,451.9 270.6,451.9 271.6,451.9 272.6,451.9 273.6,451.9 274.6,451.9 275.6,451.9 276.6,451.9 277.6,451.9 278.6,451.9 279.6,451.9 280.6,451.9 281.6,451.9 282.6,451.9 283.6,451.9 284.6,451.9 285.6,451.9 286.6,451.9 287.6,451.9 288.6,451.9 289.6,451.9 290.7,451.9 291.7,451.9 292.7,451.9 293.7,451.9 294.7,451.9 295.7,451.9 296.7,451.9 297.1,451.9 297.7,451.7 298.7,451.3 299.6,451 299.7,451 300.7,450.7 301.7,450.4 302.6,450.2 302.7,450.1 303.7,449.9 304.7,449.7 305.7,449.5 306.7,449.3 307.7,449 308.7,448.7 309.5,448.4 309.7,448.3 310.7,447.7 310.9,447.6 311.2,446.7 310.7,446.3 310.1,445.8 309.7,445.7 308.7,445.3 307.8,445 307.7,445 306.7,444.7 305.7,444.4 304.7,444.2 304.5,444.1 303.7,443.9 302.7,443.7 301.7,443.4 301.3,443.2 300.7,443 299.7,442.7 298.7,442.4 297.7,442 296.7,441.7 295.9,441.5 295.7,441.4 294.7,441.2 293.7,441 292.7,440.8 291.7,440.7 290.9,440.6 290.7,440.6 289.6,440.5 288.6,440.5 287.6,440.4 286.6,440.4 285.6,440.3 284.6,440.3 283.6,440.3 282.6,440.3 281.6,440.3 280.6,440.3 279.6,440.3 278.6,440.3 277.6,440.3 276.6,440.3 275.6,440.3 274.6,440.3 273.6,440.3 272.6,440.3 271.6,440.3 270.6,440.3 269.6,440.3 268.6,440.3 267.6,440.3 266.6,440.3 265.6,440.3 264.6,440.3 263.6,440.3 262.6,440.3 261.6,440.3 260.5,440.2 259.5,440.2 258.5,440.2 257.5,440.2 256.5,440.2 255.5,440.1 254.5,440.1 253.5,440.1 252.5,440 251.5,440 250.5,439.9 249.5,439.8 249.3,439.8 248.5,439.6 247.5,439.4 246.5,439.1 246,438.9 245.5,438 246.5,437.2 246.6,437.2 247.5,436.8 248.5,436.5 249,436.3 249.5,436.2 250.5,435.9 251.5,435.8 252.5,435.6 253.5,435.4 254.5,435.3 255.5,435.2 256.5,435.1 257.5,435 258.5,434.9 259.5,434.8 260.5,434.7 261.6,434.7 262.6,434.6 263,434.6 263.6,434.5 264.6,434.5 265.6,434.5 266.6,434.5 267.6,434.5 268.6,434.5 269.6,434.5 270.6,434.5 271.6,434.5 272.6,434.5 273.6,434.6 274.4,434.6 274.6,434.6 275.6,434.6 276.6,434.6 277.6,434.6 278.6,434.6 279.6,434.6 280.6,434.6 281.6,434.6 281.9,434.6 282.6,434.6 283.6,434.5 284.6,434.5 285.6,434.4 286.6,434.4 287.6,434.3 288.6,434.2 289.6,434.1 290.7,434 291.7,433.9 292.7,433.7 292.8,433.7 293.7,433.6 294.7,433.4 295.7,433.2 296.7,433 297.6,432.8 297.7,432.8 298.7,432.6 299.7,432.3 300.7,432 300.8,432 301.7,431.6 302.7,431.2 302.9,431.1 303.7,430.6 304.2,430.2 304.7,429.4 304.7,429.2 304.5,428.5 303.7,427.8 303.6,427.6 302.7,427.2 301.9,426.8 301.7,426.7 300.7,426.3 299.7,426 299.5,425.9 298.7,425.6 297.7,425.4 296.7,425.1 296.4,425 295.7,424.9 294.7,424.7 293.7,424.5 292.7,424.3 292,424.2 291.7,424.1 290.7,424 289.6,423.8 288.6,423.7 287.6,423.6 286.6,423.5 285.6,423.4 284.6,423.4 283.6,423.3 283.4,423.3 282.6,423.3 281.6,423.2 280.6,423.2 279.6,423.2 278.6,423.2 277.6,423.2 276.6,423.2 275.6,423.2 274.6,423.2 273.6,423.2 272.6,423.2 271.6,423.3 270.6,423.3 269.6,423.3 269.5,423.3 268.6,423.3 267.6,423.3 266.6,423.3 265.9,423.3 265.6,423.3 264.6,423.3 263.6,423.2 262.6,423.2 261.6,423.2 260.5,423.1 259.5,423.1 258.5,423 257.5,423 256.5,423 255.5,423 254.5,423 253.5,423 252.5,423 251.5,423 250.5,422.9 249.5,422.9 248.5,422.8 247.5,422.7 246.5,422.6 245.5,422.5 245.3,422.4 244.5,422.3 243.5,422.2 242.5,422.1 241.5,421.9 240.5,421.9 239.5,421.8 238.5,421.8 237.5,421.8 236.5,421.8 235.5,421.9 234.5,422 233.5,422.2 232.4,422.4 232.2,422.4 231.4,422.6 230.4,422.9 229.4,423.3 229.3,423.3 228.4,423.7 227.4,424.2 226.4,424.8 226.1,425 225.4,425.6 225,425.9 224.4,426.6 224.3,426.8 223.7,427.6 223.4,428.4 223.4,428.5 223.2,429.4 223.2,430.2 223.3,431.1 223.4,431.8 223.5,432 223.7,432.8 224,433.7 224.3,434.6 224.4,435.1 224.5,435.4 224.8,436.3 225.1,437.2 225.3,438 225.3,438.9 225,439.8 224.5,440.6 224.4,440.7 223.8,441.5 223.4,442 223.2,442.4 222.7,443.2 222.4,444.1 222.2,445 222.1,445.8 222.2,446.7 222.3,447.6 222.4,448.2 222.5,448.4 222.7,449.3 223.1,450.2 223.4,450.7 223.6,451 224.4,451.9Z"/>
<path fill-rule="evenodd" fill="rgb(0,212,255)" stroke="#000" stroke-opacity="0.3" stroke-width="0.5" d="M227.7,451.9 228.4,451.9 229.4,451.9 230.4,451.9 231.4,451.9 232.4,451.9 233.5,451.9 234.5,451.9 235.5,451.9 236.5,451.9 237.5,451.9 238.5,451.9 239.5,451.9 240.5,451.9 241.5,451.9 242.5,451.9 243.5,451.9 244.5,451.9 245.5,451.9 246.5,451.9 247.5,451.9 248.5,451.9 249.5,451.9 250.5,451.9 251.5,451.9 252.5,451.9 253.5,451.9 254.5,451.9 255.5,451.9 256.5,451.9 257.5,451.9 258.5,451.9 259.5,451.9 260.5,451.9 261.6,451.9 262.6,451.9 263.6,451.9 264.6,451.9 265.6,451.9 266.6,451.9 267.6,451.9 268.6,451.9 269.6,451.9 270.6,451.9 271.6,451.9 272.6,451.9 273.6,451.9 274.6,451.9 275.6,451.9 276.6,451.9 277.6,451.9 278.6,451.9 279.6,451.9 280.6,451.9 281.6,451.9 282.6,451.9 283.6,451.9 284.6,451.9 285.6,451.9 286.6,451.9 287.6,451.9 288.6,451.9 289.6,451.9 290.7,451.9 291.6,451.9 291.7,451.9 292.7,451.7 293.7,451.4 294.7,451.1 294.9,451 295.7,450.8 296.7,450.4 297.1,450.2 297.7,449.9 298.7,449.4 298.9,449.3 299.7,448.9 300.5,448.4 300.7,448.3 301.7,447.7 301.9,447.6 302.4,446.7 301.9,445.8 301.7,445.7 300.7,445.1 300.6,445 299.7,444.5 298.9,444.1 298.7,444 297.7,443.5 297,443.2 296.7,443.1 295.7,442.8 294.7,442.5 294.3,442.4 293.7,442.2 292.7,442 291.7,441.9 290.7,441.8 289.6,441.7 288.6,441.6 287.6,441.6 286.6,441.5 285.6,441.5 284.6,441.5 283.6,441.5 282.6,441.5 281.6,441.5 280.6,441.5 279.6,441.5 278.6,441.5 277.6,441.5 276.6,441.5 275.6,441.5 274.6,441.5 273.6,441.5 272.6,441.5 271.6,441.5 270.6,441.5 269.6,441.5 268.6,441.5 267.6,441.5 266.6,441.5 265.6,441.5 264.6,441.5 263.6,441.5 262.6,441.5 261.6,441.5 260.5,441.5 259.5,441.4 258.5,441.4 257.5,441.4 256.5,441.4 255.5,441.4 254.5,441.4 253.5,441.4 252.5,441.3 251.5,441.3 250.5,441.2 249.5,441.2 248.5,441.1 247.5,441 246.5,440.9 245.5,440.7 244.9,440.6 244.5,440.5 243.5,440.3 242.5,440.1 241.5,439.8 241.2,439.8 240.5,439.5 239.5,439.2 238.5,438.9 238.5,438.8 238,438 238.5,437.8 239.5,437.3 239.6,437.2 240.5,436.9 241.5,436.5 241.9,436.3 242.5,436.1 243.5,435.8 244.5,435.4 245.5,435.1 246.5,434.8 247.3,434.6 247.5,434.5 248.5,434.2 249.5,434 250.5,433.8 251,433.7 251.5,433.6 252.5,433.5 253.5,433.3 254.5,433.2 255.5,433.1 256.5,433 257.5,432.9 258.2,432.8 258.5,432.8 259.5,432.7 260.5,432.6 261.6,432.5 262.6,432.5 263.6,432.4 264.6,432.4 265.6,432.4 266.6,432.4 267.6,432.4 268.6,432.5 269.6,432.5 270.6,432.6 271.6,432.6 272.6,432.7 273.6,432.8 274.6,432.8 275.2,432.8 275.6,432.9 276.6,432.9 277.6,432.9 278.6,432.9 279.6,432.9 280.6,432.9 281.6,432.9 282.6,432.8 283.6,432.8 284.6,432.7 285.6,432.6 286.6,432.5 287.6,432.4 288.6,432.3 289.6,432.1 290.7,432 291.7,431.8 292.7,431.6 293.7,431.3 294.5,431.1 294.7,431 295.7,430.6 296.5,430.2 296.7,430 297.2,429.4 296.8,428.5 296.7,428.4 295.7,427.8 295.4,427.6 294.7,427.4 293.7,427.1 292.7,426.8 291.7,426.5 290.7,426.3 289.6,426.1 288.6,425.9 288.5,425.9 287.6,425.8 286.6,425.7 285.6,425.5 284.6,425.5 283.6,425.4 282.6,425.3 281.6,425.3 280.6,425.2 279.6,425.2 278.6,425.2 277.6,425.2 276.6,425.2 275.6,425.3 274.6,425.3 273.6,425.4 272.6,425.4 271.6,425.5 270.6,425.6 269.6,425.7 268.6,425.7 267.6,425.8 266.6,425.8 265.6,425.8 264.6,425.8 263.6,425.8 262.6,425.8 261.6,425.7 260.5,425.6 259.5,425.6 258.5,425.5 257.5,425.4 256.5,425.4 255.5,425.3 254.5,425.3 253.5,425.2 252.5,425.2 251.5,425.1 250.6,425 250.5,425 249.5,424.9 248.5,424.8 247.5,424.6 246.5,424.4 245.5,424.2 245.2,424.2 244.5,424 243.5,423.8 242.5,423.7 241.5,423.5 240.5,423.4 239.5,423.4 238.5,423.3 237.5,423.3 236.5,423.4 235.5,423.5 234.5,423.6 233.5,423.8 232.4,424.1 232.1,424.2 231.4,424.4 230.4,424.8 229.9,425 229.4,425.3 228.5,425.9 228.4,425.9 227.4,426.8 226.7,427.6 226.4,428.3 226.3,428.5 226.1,429.4 226.1,430.2 226.2,431.1 226.4,431.8 226.5,432 226.9,432.8 227.3,433.7 227.4,433.9 227.8,434.6 228.4,435.4 228.4,435.5 229.1,436.3 229.4,436.7 230,437.2 230.4,437.6 231.1,438 231.4,438.8 231.5,438.9 231.4,438.9 230.4,439.6 230.3,439.8 229.4,440.1 228.4,440.6 228.3,440.6 227.4,441 226.5,441.5 226.4,441.5 225.4,442.2 225.2,442.4 224.4,443.1 224.3,443.2 223.7,444.1 223.4,445 223.3,445.8 223.4,446.7 223.4,447 223.5,447.6 223.8,448.4 224.2,449.3 224.4,449.7 224.8,450.2 225.4,450.8 225.8,451 226.4,451.4 227.4,451.8 227.7,451.9Z"/>
<path fill-rule="evenodd" fill="rgb(71,255,184)" stroke="#000" stroke-opacity="0.5" stroke-width="0.5" d="M235.5,451.9 236.5,451.9 237.5,451.9 238.5,451.9 239.5,451.9 240.5,451.9 241.5,451.9 241.8,451.9 242.5,451.8 243.5,451.7 244.5,451.6 245.5,451.5 246.5,451.5 247.5,451.4 248.5,451.3 249.5,451.3 250.5,451.3 251.5,451.2 252.5,451.2 253.5,451.2 254.5,451.2 255.5,451.2 256.5,451.2 257.5,451.2 258.5,451.2 259.5,451.2 260.5,451.2 261.6,451.2 262.6,451.2 263.6,451.2 264.6,451.2 265.6,451.2 266.6,451.2 267.6,451.2 268.6,451.2 269.6,451.2 270.6,451.2 271.6,451.2 272.6,451.2 273.6,451.2 274.6,451.2 275.6,451.2 276.6,451.2 277.6,451.2 278.6,451.2 279.6,451.2 280.6,451.2 281.6,451.2 282.6,451.2 283.6,451.2 284.6,451.2 285.6,451.2 286.6,451.1 287.6,451.1 288.1,451 288.6,451 289.6,450.9 290.7,450.7 291.7,450.5 292.7,450.3 293.1,450.2 293.7,450 294.7,449.6 295.3,449.3 295.7,449.1 296.7,448.5 296.7,448.4 297.6,447.6 297.7,447.5 298.1,446.7 297.9,445.8 297.7,445.5 297.2,445 296.7,444.7 295.8,444.1 295.7,444.1 294.7,443.7 293.7,443.3 293.3,443.2 292.7,443.1 291.7,442.9 290.7,442.7 289.6,442.6 288.6,442.5 287.6,442.5 286.6,442.5 285.6,442.4 284.6,442.4 283.6,442.4 282.6,442.4 281.6,442.4 280.6,442.4 279.6,442.4 278.6,442.4 277.6,442.4 276.6,442.4 275.6,442.4 274.6,442.4 273.6,442.4 272.6,442.4 271.6,442.4 270.6,442.4 269.6,442.4 268.6,442.4 267.6,442.4 266.6,442.4 265.6,442.4 264.6,442.4 263.6,442.4 262.6,442.4 261.6,442.4 260.5,442.4 259.5,442.4 258.5,442.4 257.5,442.4 256.5,442.4 256.3,442.4 255.5,442.4 254.5,442.3 253.5,442.3 252.5,442.3 251.5,442.3 250.5,442.2 249.5,442.2 248.5,442.1 247.5,442 246.5,441.9 245.5,441.8 244.5,441.6 243.9,441.5 243.5,441.4 242.5,441.2 241.5,441 240.5,440.9 239.5,440.7 238.5,440.7 238,440.6 237.5,440.6 236.6,440.6 236.5,440.6 235.5,440.7 234.5,440.8 233.5,441 232.4,441.2 231.4,441.4 231.2,441.5 230.4,441.7 229.4,441.9 228.4,442.2 228,442.4 227.4,442.6 226.4,443.1 226.2,443.2 225.4,443.9 225.2,444.1 224.7,445 224.5,445.8 224.6,446.7 224.8,447.6 225.2,448.4 225.4,448.7 225.9,449.3 226.4,449.7 227.1,450.2 227.4,450.3 228.4,450.7 229.4,451 229.7,451 230.4,451.2 231.4,451.4 232.4,451.5 233.5,451.7 234.5,451.8 235.5,451.9ZM232.1,434.6 232.4,434.8 233.5,435.1 234.5,435.3 235.5,435.4 236.5,435.4 237.5,435.4 238.5,435.2 239.5,435.1 240.5,434.9 241.5,434.6 241.6,434.6 242.5,434.3 243.5,434 244.3,433.7 244.5,433.7 245.5,433.3 246.5,432.9 246.7,432.8 247.5,432.5 248.5,432.1 249,432 249.5,431.7 250.5,431.4 251.5,431.1 251.6,431.1 252.5,430.8 253.5,430.5 254.5,430.3 254.6,430.2 255.5,429.5 255.7,429.4 255.5,429.3 254.5,428.7 254.1,428.5 253.5,428.4 252.5,428.1 251.5,427.8 250.9,427.6 250.5,427.5 249.5,427.3 248.5,426.9 248.1,426.8 247.5,426.6 246.5,426.3 245.5,425.9 245.4,425.9 244.5,425.7 243.5,425.4 242.5,425.1 241.9,425 241.5,425 240.5,424.8 239.5,424.7 238.5,424.7 237.5,424.7 236.5,424.8 235.5,424.9 234.7,425 234.5,425.1 233.5,425.4 232.4,425.7 232,425.9 231.4,426.2 230.5,426.8 230.4,426.8 229.5,427.6 229.4,427.8 229,428.5 228.7,429.4 228.7,430.2 228.9,431.1 229.3,432 229.4,432.2 229.9,432.8 230.4,433.4 230.8,433.7 231.4,434.2 232.1,434.6ZM272.1,430.2 272.6,430.3 273.6,430.5 274.6,430.7 275.6,430.9 276.6,431 277.6,431 278.6,431.1 279.6,431.1 280.6,431.1 281.6,431 282.6,430.9 283.6,430.8 284.6,430.6 285.6,430.4 286.2,430.2 286.6,429.9 287.4,429.4 286.7,428.5 286.6,428.5 285.6,428.2 284.6,427.9 283.7,427.6 283.6,427.6 282.6,427.5 281.6,427.4 280.6,427.4 279.6,427.3 278.6,427.3 277.6,427.4 276.6,427.5 275.6,427.6 274.9,427.6 274.6,427.7 273.6,427.9 272.6,428.2 271.6,428.5 270.7,429.4 271.6,429.9 272.1,430.2Z"/>
<path fill-rule="evenodd" fill="rgb(184,255,71)" stroke="#000" stroke-opacity="0.7" stroke-width="0.5" d="M235.9,451 236.5,451.1 237.5,451.2 238.5,451.2 239.5,451.2 240.5,451.1 241.2,451 241.5,451 242.5,450.9 243.5,450.7 244.5,450.6 245.5,450.4 246.5,450.3 247.5,450.2 247.9,450.2 248.5,450.1 249.5,450 250.5,450 251.5,450 252.5,449.9 253.5,449.9 254.5,449.9 255.5,449.9 256.5,449.9 257.5,449.9 258.5,449.9 259.5,449.9 260.5,449.9 261.6,449.9 262.6,449.9 263.6,449.9 264.6,449.9 265.6,449.9 266.6,449.9 267.6,449.9 268.6,449.9 269.6,449.9 270.6,449.9 271.6,449.9 272.6,449.9 273.6,449.9 274.6,449.9 275.6,449.9 276.6,449.9 277.6,449.9 278.6,449.9 279.6,449.9 280.6,449.9 281.6,449.9 282.6,449.9 283.6,449.9 284.6,449.9 285.6,449.9 286.6,449.8 287.6,449.8 288.6,449.7 289.6,449.5 290.7,449.4 290.9,449.3 291.7,449.1 292.7,448.7 293.4,448.4 293.7,448.3 294.6,447.6 294.7,447.5 295.1,446.7 295.1,445.8 294.7,445.4 294.3,445 293.7,444.7 292.7,444.2 292.3,444.1 291.7,443.9 290.7,443.7 289.6,443.6 288.6,443.5 287.6,443.4 286.6,443.4 285.6,443.3 284.6,443.3 283.6,443.3 282.6,443.3 281.6,443.3 280.6,443.3 279.6,443.3 278.6,443.3 277.6,443.3 276.6,443.3 275.6,443.3 274.6,443.3 273.6,443.3 272.6,443.3 271.6,443.3 270.6,443.3 269.6,443.3 268.6,443.3 267.6,443.3 266.6,443.3 265.6,443.3 264.6,443.3 263.6,443.3 262.6,443.3 261.6,443.3 260.5,443.3 259.5,443.3 258.5,443.3 257.5,443.3 256.5,443.3 255.5,443.3 254.5,443.3 253.5,443.2 252.9,443.2 252.5,443.2 251.5,443.2 250.5,443.2 249.5,443.1 248.5,443 247.5,442.9 246.5,442.8 245.5,442.7 244.5,442.5 244,442.4 243.5,442.3 242.5,442.1 241.5,441.9 240.5,441.7 239.5,441.6 238.5,441.5 237.5,441.5 236.5,441.6 235.5,441.7 234.5,441.9 233.5,442.1 232.4,442.3 232.2,442.4 231.4,442.6 230.4,442.8 229.4,443.1 229,443.2 228.4,443.4 227.4,443.9 227.1,444.1 226.4,444.7 226.2,445 226,445.8 226.1,446.7 226.4,447.6 227.2,448.4 227.4,448.7 228.4,449.3 228.5,449.3 229.4,449.6 230.4,450 231.3,450.2 231.4,450.2 232.4,450.4 233.5,450.6 234.5,450.8 235.5,451 235.9,451ZM233.8,432.8 234.5,433.1 235.5,433.4 236.5,433.5 237.5,433.5 238.5,433.5 239.5,433.4 240.5,433.2 241.5,432.9 241.7,432.8 242.5,432.5 243.5,432.1 243.8,432 244.5,431.5 245.1,431.1 245.5,430.7 245.9,430.2 246.1,429.4 245.6,428.5 245.5,428.5 244.5,427.7 244.4,427.6 243.5,427.2 242.5,426.8 241.5,426.5 240.5,426.3 239.5,426.2 238.5,426.1 237.5,426.1 236.5,426.2 235.5,426.4 234.5,426.7 234.2,426.8 233.5,427.1 232.6,427.6 232.4,427.8 231.8,428.5 231.4,429.2 231.4,429.4 231.4,430.2 231.4,430.4 231.7,431.1 232.4,432 233.5,432.7 233.8,432.8Z"/>
<path fill-rule="evenodd" fill="rgb(255,228,0)" stroke="#000" stroke-opacity="0.7" stroke-width="0.5" d="M235.8,450.2 236.5,450.3 237.5,450.4 238.5,450.4 239.5,450.4 240.5,450.3 241.3,450.2 241.5,450.1 242.5,449.9 243.5,449.7 244.5,449.5 245.4,449.3 245.5,449.3 246.5,449.1 247.5,448.9 248.5,448.7 249.5,448.6 250.5,448.5 251.5,448.5 252.5,448.4 253.5,448.4 254.5,448.4 255.5,448.4 256.5,448.4 257.5,448.4 258.5,448.4 259.5,448.4 260.5,448.3 261.5,448.3 262.6,448.3 263.6,448.3 264.6,448.3 265.6,448.3 266.6,448.3 267.6,448.3 268.6,448.3 269.6,448.3 270.6,448.3 271.6,448.3 272.6,448.3 273.6,448.4 274.6,448.4 275.6,448.4 276.6,448.4 277.6,448.4 278.6,448.4 279.6,448.4 280.6,448.4 281.6,448.4 282.5,448.4 282.6,448.4 283.6,448.4 284.6,448.4 285.6,448.4 286.6,448.3 287.6,448.2 288.6,448.1 289.6,447.8 290.5,447.6 290.7,447.5 291.7,446.7 291.7,445.8 290.7,445.1 290.3,445 289.6,444.8 288.6,444.7 287.6,444.5 286.6,444.5 285.6,444.4 284.6,444.4 283.6,444.4 282.6,444.4 281.6,444.4 280.6,444.4 279.6,444.4 278.6,444.4 277.6,444.4 276.6,444.4 275.6,444.4 274.6,444.4 273.6,444.4 272.6,444.4 271.6,444.4 270.6,444.4 269.6,444.4 268.6,444.4 267.6,444.4 266.6,444.4 265.6,444.4 264.6,444.4 263.6,444.4 262.6,444.4 261.6,444.4 260.5,444.4 259.5,444.3 258.5,444.3 257.5,444.3 256.5,444.3 255.5,444.3 254.5,444.3 253.5,444.3 252.5,444.3 251.5,444.3 250.5,444.2 249.5,444.1 248.5,444 247.5,443.9 246.5,443.7 245.5,443.5 244.5,443.3 244.2,443.2 243.5,443.1 242.5,442.8 241.5,442.6 240.5,442.4 240,442.4 239.5,442.3 238.5,442.2 237.5,442.3 236.5,442.3 236.3,442.4 235.5,442.5 234.5,442.7 233.5,443 232.5,443.2 232.4,443.3 231.4,443.6 230.4,443.9 229.9,444.1 229.4,444.4 228.4,445 227.9,445.8 228.1,446.7 228.4,447.1 228.8,447.6 229.4,448 230.1,448.4 230.4,448.6 231.4,449 232.3,449.3 232.4,449.3 233.5,449.6 234.5,449.9 235.5,450.1 235.8,450.2ZM236.1,431.1 236.5,431.2 237.5,431.4 238.5,431.4 239.5,431.3 240,431.1 240.5,430.9 241.3,430.2 241.5,429.6 241.5,429.4 241.5,429.3 240.7,428.5 240.5,428.4 239.5,428.1 238.5,428 237.5,428 236.5,428.3 235.8,428.5 235.5,428.8 235,429.4 235,430.2 235.5,430.7 236.1,431.1Z"/>
<path fill-rule="evenodd" fill="rgb(255,105,0)" stroke="#000" stroke-opacity="0.7" stroke-width="0.5" d="M235.7,449.3 236.5,449.5 237.5,449.6 238.5,449.6 239.5,449.6 240.5,449.5 241.3,449.3 241.5,449.3 242.5,449 243.5,448.6 244.1,448.4 244.5,448.2 245.5,447.8 246.1,447.6 246.5,447.3 247.5,446.8 247.7,446.7 248.3,445.8 247.5,445.5 246.6,445 246.5,444.9 245.5,444.6 244.5,444.2 244.1,444.1 243.5,443.9 242.5,443.6 241.5,443.3 241.1,443.2 240.5,443.1 239.5,443 238.5,442.9 237.5,442.9 236.5,443 235.5,443.2 235.4,443.2 234.5,443.5 233.5,443.9 232.9,444.1 232.4,444.3 231.4,444.9 231.3,445 230.6,445.8 230.9,446.7 231.4,447.3 231.7,447.6 232.4,448 233.2,448.4 233.5,448.5 234.5,448.9 235.5,449.3 235.7,449.3ZM256.4,445.8 256.5,445.9 257.5,446.1 258.5,445.9 258.6,445.8 258.5,445.8 257.5,445.7 256.5,445.8 256.4,445.8Z"/>
<path fill-rule="evenodd" fill="rgb(238,0,0)" stroke="#000" stroke-opacity="0.55" stroke-width="0.5" d="M235.9,448.4 236.5,448.6 237.5,448.8 238.5,448.8 239.5,448.8 240.5,448.6 241,448.4 241.5,448.3 242.5,447.8 242.9,447.6 243.5,447 243.9,446.7 244.1,445.8 243.5,445.1 243.4,445 242.5,444.5 241.5,444.1 240.5,443.8 239.5,443.7 238.5,443.6 237.5,443.6 236.5,443.8 235.5,444 235.2,444.1 234.5,444.5 233.6,445 233.5,445.2 233,445.8 233.3,446.7 233.5,446.9 234.1,447.6 234.5,447.8 235.5,448.3 235.9,448.4Z"/>
<path fill-rule="evenodd" fill="rgb(128,0,0)" stroke="#000" stroke-opacity="0.4" stroke-width="0.5" d="M236.5,447.6 237.5,447.8 238.5,447.9 239.5,447.8 240.2,447.6 240.5,447.5 241.5,446.8 241.5,446.7 241.8,445.8 241.5,445.4 241,445 240.5,444.7 239.5,444.5 238.5,444.4 237.5,444.4 236.5,444.7 235.7,445 235.5,445.3 235,445.8 235.3,446.7 235.5,446.8 236.5,447.5 236.5,447.6Z"/>
</g>
<!-- T3-C3 -->
<clipPath id="c10"><polygon points="365,456.1 505.1,329.4 505.1,456.1"/></clipPath>
<polygon points="365,456.1 505.1,329.4 505.1,456.1" fill="rgb(2,4,143)"/>
<g clip-path="url(#c10)">
<path fill-rule="evenodd" fill="rgb(0,0,232)" d="M395.7,456.1 396,456.1 397,456.1 398,456.1 399,456.1 400,456.1 401,456.1 402,456.1 403,456.1 404,456.1 405,456.1 406,456.1 407,456.1 408,456.1 409,456.1 410,456.1 411,456.1 412,456.1 413,456.1 414,456.1 415,456.1 416,456.1 417,456.1 418,456.1 419,456.1 420,456.1 421,456.1 422,456.1 423,456.1 424,456.1 425,456.1 426,456.1 427,456.1 428,456.1 429,456.1 430,456.1 431,456.1 432,456.1 433,456.1 434,456.1 435.1,456.1 436.1,456.1 437.1,456.1 438.1,456.1 439.1,456.1 440.1,456.1 441.1,456.1 442.1,456.1 443.1,456.1 444.1,456.1 445.1,456.1 446.1,456.1 447.1,456.1 448.1,456.1 449.1,456.1 450.1,456.1 451.1,456.1 452.1,456.1 453.1,456.1 454.1,456.1 455.1,456.1 456.1,456.1 457.1,456.1 458.1,456.1 459.1,456.1 460.1,456.1 461.1,456.1 462.1,456.1 463.1,456.1 464.1,456.1 465.1,456.1 466.1,456.1 467.1,456.1 468.1,456.1 469.1,456.1 470.1,456.1 471.1,456.1 472.1,456.1 473.1,456.1 474.1,456.1 475.1,456.1 476.1,456.1 477.1,456.1 478.1,456.1 479.1,456.1 480,456.1 480.1,456.1 481.1,455.9 482.1,455.8 483.1,455.6 484.1,455.4 484.9,455.2 485.1,455.2 486.1,455 487.1,454.8 488.1,454.7 489.1,454.5 490.1,454.4 491.1,454.3 492.1,454.2 493.1,454.1 494.1,454 495.1,453.9 496.1,453.8 497.1,453.7 498.1,453.7 499.1,453.6 500.1,453.5 500.9,453.4 501.1,453.4 502.1,453.2 503.1,453.1 504.1,452.9 505.1,452.7 505.1,452.5 505.1,451.6 505.1,450.7 505.1,449.8 505.1,449.6 504.1,449.5 503.1,449.4 502.1,449.3 501.1,449.2 500.1,449.1 499.1,449 498.1,448.9 498,448.9 497.1,448.8 496.1,448.7 495.1,448.7 494.1,448.6 493.1,448.5 492.1,448.4 491.1,448.3 490.1,448.2 489.1,448.1 488.4,448 488.1,447.9 487.1,447.7 486.1,447.5 485.1,447.3 484.1,447.1 483.9,447.1 483.1,446.9 482.1,446.6 481.1,446.4 480.1,446.2 480,446.1 479.1,445.9 478.1,445.7 477.1,445.5 476.1,445.2 475.1,444.9 474.1,444.7 473.1,444.4 472.9,444.3 472.1,444 471.1,443.7 470.1,443.4 470,443.4 469.1,443.1 468.1,442.8 467.1,442.6 466.4,442.5 466.1,442.4 465.1,442.1 464.1,441.9 463.1,441.8 462.1,441.6 461.9,441.6 462.1,441.2 462.2,440.7 463.1,440.6 464.1,440.4 465.1,440.2 466.1,440 466.7,439.8 467.1,439.7 468.1,439.6 469.1,439.4 470.1,439.1 471,438.9 471.1,438.9 472.1,438.7 473.1,438.5 474.1,438.2 474.8,438 475.1,437.9 476.1,437.7 477.1,437.4 478,437.1 478.1,437.1 479.1,436.8 480.1,436.5 480.9,436.2 481.1,436.1 482.1,435.8 483.1,435.4 483.4,435.3 484.1,435 485.1,434.6 485.5,434.4 486.1,434 486.9,433.5 487.1,433.2 487.5,432.6 487.3,431.7 487.1,431.5 486.2,430.8 486.1,430.7 485.1,430.2 484.5,429.9 484.1,429.7 483.1,429.3 482.3,428.9 482.1,428.9 481.1,428.5 480.1,428.2 479.8,428 479.1,427.8 478.1,427.4 477.2,427.1 477.1,427.1 476.1,426.8 475.1,426.4 474.4,426.2 474.1,426.1 473.1,425.8 472.1,425.5 471.3,425.3 471.1,425.3 470.1,425 469.1,424.8 468.1,424.6 467.3,424.4 467.1,424.4 466.1,424.2 465.1,424 464.1,423.9 463.1,423.8 462.1,423.7 461.1,423.6 460.1,423.5 459.8,423.5 459.1,423.5 458.1,423.4 457.1,423.4 456.1,423.3 455.1,423.3 454.1,423.3 453.1,423.2 452.1,423.2 451.1,423.2 450.1,423.2 449.1,423.2 448.1,423.2 447.1,423.2 446.1,423.2 445.1,423.2 444.1,423.2 443.1,423.2 442.1,423.2 441.1,423.2 440.1,423.2 439.1,423.2 438.1,423.1 437.1,423.1 436.1,423.1 435.1,423.1 434,423 433,423 432,423 431,423 430,423 429,423 428,423.1 427,423.1 426,423.1 425,423.2 424,423.2 423,423.2 422,423.2 421,423.1 420,423.1 419,423 418,422.9 417,422.8 416,422.7 415.1,422.6 415,422.6 414,422.5 413,422.5 412,422.5 411,422.5 410,422.5 409,422.6 408.7,422.6 408,422.7 407,422.8 406,422.9 405,423.1 404,423.4 403.5,423.5 403,423.6 402,423.9 401,424.3 400.7,424.4 400,424.7 399,425.2 398.7,425.3 398,425.7 397.2,426.2 397,426.4 396,427.1 395,428 394.3,428.9 394,429.3 393.7,429.9 393.3,430.8 393,431.6 393,431.7 392.8,432.6 392.8,433.5 392.9,434.4 393,435 393.1,435.3 393.3,436.2 393.5,437.1 393.7,438 393.9,438.9 394,439.5 394.1,439.8 394.4,440.7 394.7,441.6 395,442.5 395.2,443.4 395.2,444.3 395.1,445.2 395,445.5 394.9,446.1 394.7,447.1 394.5,448 394.4,448.9 394.4,449.8 394.4,450.7 394.5,451.6 394.6,452.5 394.8,453.4 395,454.3 395.3,455.2 395.7,456.1Z"/>
<path fill-rule="evenodd" fill="rgb(0,99,255)" stroke="#000" stroke-opacity="0.1" stroke-width="0.5" d="M398,456.1 399,456.1 400,456.1 401,456.1 402,456.1 403,456.1 404,456.1 405,456.1 406,456.1 407,456.1 408,456.1 409,456.1 410,456.1 411,456.1 412,456.1 413,456.1 414,456.1 415,456.1 416,456.1 417,456.1 418,456.1 419,456.1 420,456.1 421,456.1 422,456.1 423,456.1 424,456.1 425,456.1 426,456.1 427,456.1 428,456.1 429,456.1 430,456.1 431,456.1 432,456.1 433,456.1 434,456.1 435.1,456.1 436.1,456.1 437.1,456.1 438.1,456.1 439.1,456.1 440.1,456.1 441.1,456.1 442.1,456.1 443.1,456.1 444.1,456.1 445.1,456.1 446.1,456.1 447.1,456.1 448.1,456.1 449.1,456.1 450.1,456.1 451.1,456.1 452.1,456.1 453.1,456.1 454.1,456.1 455.1,456.1 456.1,456.1 457.1,456.1 458.1,456.1 459.1,456.1 460.1,456.1 461.1,456.1 462.1,456.1 463.1,456.1 464.1,456.1 465.1,456.1 466.1,456.1 467.1,456.1 468.1,456.1 469.1,456.1 470.1,456.1 470.5,456.1 471.1,455.9 472.1,455.5 472.9,455.2 473.1,455.1 474.1,454.8 475.1,454.5 476,454.3 476.1,454.3 477.1,454 478.1,453.8 479.1,453.6 480.1,453.4 481.1,453.1 482.1,452.8 482.9,452.5 483.1,452.4 484.1,451.7 484.3,451.6 484.6,450.7 484.1,450.3 483.5,449.8 483.1,449.6 482.1,449.2 481.1,448.9 481.1,448.8 480.1,448.6 479.1,448.3 478.1,448 477.9,448 477.1,447.8 476.1,447.5 475.1,447.2 474.7,447.1 474.1,446.9 473.1,446.5 472.1,446.1 471.1,445.8 470.1,445.5 469.3,445.2 469.1,445.2 468.1,444.9 467.1,444.7 466.1,444.5 465.1,444.4 464.3,444.3 464.1,444.3 463.1,444.2 462.1,444.1 461.1,444.1 460.1,444.1 459.1,444 458.1,444 457.1,444 456.1,444 455.1,444 454.1,444 453.1,444 452.1,444 451.1,444 450.1,444 449.1,444 448.1,444 447.1,444 446.1,444 445.1,444 444.1,444 443.1,444 442.1,444 441.1,444 440.1,444 439.1,444 438.1,444 437.1,444 436.1,444 435.1,443.9 434,443.9 433,443.9 432,443.9 431,443.9 430,443.8 429,443.8 428,443.8 427,443.7 426,443.7 425,443.6 424,443.5 423,443.4 422.9,443.4 422,443.3 421,443 420,442.7 419.6,442.5 419.1,441.6 420,440.8 420.1,440.7 421,440.4 422,440 422.5,439.8 423,439.7 424,439.4 425,439.2 426,439.1 427,438.9 428,438.8 429,438.7 430,438.6 431,438.5 432,438.4 433,438.3 434,438.2 435.1,438.1 436.1,438 436.5,438 437.1,438 438.1,437.9 439.1,437.9 440.1,437.9 441.1,437.9 442.1,437.9 443.1,437.9 444.1,437.9 445.1,437.9 446.1,438 447.1,438 447.8,438 448.1,438 449.1,438 450.1,438 451.1,438.1 452.1,438.1 453.1,438 454.1,438 455.1,438 455.4,438 456.1,438 457.1,437.9 458.1,437.9 459.1,437.8 460.1,437.8 461.1,437.7 462.1,437.6 463.1,437.5 464.1,437.4 465.1,437.3 466.1,437.1 466.2,437.1 467.1,437 468.1,436.8 469.1,436.6 470.1,436.4 471,436.2 471.1,436.2 472.1,435.9 473.1,435.6 474.1,435.3 474.2,435.3 475.1,434.9 476.1,434.5 476.3,434.4 477.1,433.8 477.6,433.5 478.1,432.6 478.1,432.4 477.9,431.7 477.1,430.9 476.9,430.8 476.1,430.3 475.3,429.9 475.1,429.8 474.1,429.4 473.1,429 472.9,428.9 472.1,428.7 471.1,428.4 470.1,428.1 469.8,428 469.1,427.9 468.1,427.6 467.1,427.4 466.1,427.2 465.5,427.1 465.1,427.1 464.1,426.9 463.1,426.8 462.1,426.6 461.1,426.5 460.1,426.4 459.1,426.4 458.1,426.3 457.1,426.2 456.8,426.2 456.1,426.2 455.1,426.2 454.1,426.1 453.1,426.1 452.1,426.1 451.1,426.1 450.1,426.1 449.1,426.1 448.1,426.1 447.1,426.2 446.1,426.2 445.1,426.2 444.1,426.2 443.1,426.2 443,426.2 442.1,426.2 441.1,426.2 440.1,426.2 439.4,426.2 439.1,426.2 438.1,426.2 437.1,426.2 436.1,426.1 435.1,426.1 434,426 433,426 432,426 431,425.9 430,425.9 429,425.9 428,425.9 427,425.9 426,425.9 425,425.9 424,425.9 423,425.8 422,425.7 421,425.6 420,425.5 419,425.4 418.8,425.3 418,425.2 417,425.1 416,424.9 415,424.8 414,424.7 413,424.7 412,424.6 411,424.6 410,424.7 409,424.8 408,424.9 407,425.1 406,425.3 405.8,425.3 405,425.5 404,425.8 403,426.2 402.9,426.2 402,426.6 401,427.1 400,427.8 399.7,428 399,428.6 398.6,428.9 398,429.7 397.9,429.9 397.3,430.8 397,431.5 397,431.7 396.8,432.6 396.8,433.5 396.9,434.4 397,435.1 397.1,435.3 397.3,436.2 397.6,437.1 397.9,438 398,438.6 398.1,438.9 398.4,439.8 398.7,440.7 398.9,441.6 398.9,442.5 398.7,443.4 398.1,444.3 398,444.4 397.4,445.2 397,445.8 396.8,446.1 396.3,447.1 396,448 395.8,448.9 395.7,449.8 395.8,450.7 395.9,451.6 396,452.2 396.1,452.5 396.3,453.4 396.7,454.3 397,454.9 397.2,455.2 398,456.1Z"/>
<path fill-rule="evenodd" fill="rgb(0,212,255)" stroke="#000" stroke-opacity="0.3" stroke-width="0.5" d="M401.3,456.1 402,456.1 403,456.1 404,456.1 405,456.1 406,456.1 407,456.1 408,456.1 409,456.1 410,456.1 411,456.1 412,456.1 413,456.1 414,456.1 415,456.1 416,456.1 417,456.1 418,456.1 419,456.1 420,456.1 421,456.1 422,456.1 423,456.1 424,456.1 425,456.1 426,456.1 427,456.1 428,456.1 429,456.1 430,456.1 431,456.1 432,456.1 433,456.1 434,456.1 435.1,456.1 436.1,456.1 437.1,456.1 438.1,456.1 439.1,456.1 440.1,456.1 441.1,456.1 442.1,456.1 443.1,456.1 444.1,456.1 445.1,456.1 446.1,456.1 447.1,456.1 448.1,456.1 449.1,456.1 450.1,456.1 451.1,456.1 452.1,456.1 453.1,456.1 454.1,456.1 455.1,456.1 456.1,456.1 457.1,456.1 458.1,456.1 459.1,456.1 460.1,456.1 461.1,456.1 462.1,456.1 463.1,456.1 464.1,456.1 465,456.1 465.1,456.1 466.1,455.9 467.1,455.6 468.1,455.3 468.3,455.2 469.1,454.9 470.1,454.5 470.5,454.3 471.1,454 472.1,453.5 472.3,453.4 473.1,452.9 473.9,452.5 474.1,452.4 475.1,451.7 475.3,451.6 475.8,450.7 475.3,449.8 475.1,449.6 474.1,449 474,448.9 473.1,448.4 472.3,448 472.1,447.8 471.1,447.4 470.4,447.1 470.1,446.9 469.1,446.6 468.1,446.2 467.7,446.1 467.1,446 466.1,445.8 465.1,445.6 464.1,445.5 463.1,445.4 462.1,445.3 461.1,445.3 460.1,445.3 459.1,445.2 458.1,445.2 457.1,445.2 456.1,445.2 455.1,445.2 454.1,445.2 453.1,445.2 452.1,445.2 451.1,445.2 450.1,445.2 449.1,445.2 448.1,445.2 447.1,445.2 446.1,445.2 445.1,445.2 444.1,445.2 443.1,445.2 442.1,445.2 441.1,445.2 440.1,445.2 439.1,445.2 438.1,445.2 437.1,445.2 436.1,445.2 435.1,445.2 434,445.2 433,445.2 432,445.2 431,445.2 430,445.1 429,445.1 428,445.1 427,445.1 426,445.1 425,445 424,445 423,444.9 422,444.8 421,444.7 420,444.6 419,444.4 418.5,444.3 418,444.2 417,444 416,443.7 415,443.5 414.8,443.4 414,443.1 413,442.8 412.1,442.5 412,442.4 411.6,441.6 412,441.4 413,440.8 413.2,440.7 414,440.4 415,440 415.5,439.8 416,439.6 417,439.3 418,438.9 418.1,438.9 419,438.6 420,438.3 420.8,438 421,437.9 422,437.7 423,437.4 424,437.2 424.5,437.1 425,437 426,436.8 427,436.7 428,436.6 429,436.5 430,436.4 431,436.3 431.7,436.2 432,436.2 433,436 434,435.9 435.1,435.9 436.1,435.8 437.1,435.7 438.1,435.7 439.1,435.7 440.1,435.7 441.1,435.7 442.1,435.8 443.1,435.9 444.1,435.9 445.1,436 446.1,436 447.1,436.1 448.1,436.2 448.7,436.2 449.1,436.2 450.1,436.2 451.1,436.3 452.1,436.3 453.1,436.3 454.1,436.3 455.1,436.2 456,436.2 456.1,436.2 457.1,436.1 458.1,436.1 459.1,436 460.1,435.9 461.1,435.7 462.1,435.6 463.1,435.5 464.1,435.3 464.2,435.3 465.1,435.1 466.1,434.9 467.1,434.6 467.9,434.4 468.1,434.3 469.1,433.9 469.9,433.5 470.1,433.2 470.6,432.6 470.2,431.7 470.1,431.6 469.1,430.9 468.8,430.8 468.1,430.5 467.1,430.2 466.2,429.9 466.1,429.8 465.1,429.6 464.1,429.4 463.1,429.2 462.1,429 461.9,428.9 461.1,428.8 460.1,428.7 459.1,428.6 458.1,428.5 457.1,428.4 456.1,428.3 455.1,428.3 454.1,428.2 453.1,428.2 452.1,428.2 451.1,428.2 450.1,428.3 449.1,428.3 448.1,428.3 447.1,428.4 446.1,428.5 445.1,428.5 444.1,428.6 443.1,428.7 442.1,428.8 441.1,428.8 440.1,428.8 439.1,428.9 438.1,428.9 437.1,428.8 436.1,428.8 435.1,428.7 434,428.7 433,428.6 432,428.5 431,428.5 430,428.4 429,428.3 428,428.3 427,428.2 426,428.2 425,428.1 424.1,428 424,428 423,427.9 422,427.8 421,427.6 420,427.4 419,427.2 418.8,427.1 418,427 417,426.8 416,426.6 415,426.5 414,426.4 413,426.3 412,426.2 411,426.3 410,426.3 409,426.4 408,426.6 407,426.8 406,427 405.7,427.1 405,427.4 404,427.8 403.5,428 403,428.3 402.1,428.9 402,429 401,429.9 400.3,430.8 400,431.4 399.9,431.7 399.7,432.6 399.7,433.5 399.8,434.4 400,435.1 400.1,435.3 400.5,436.2 400.9,437.1 401,437.3 401.4,438 402,438.9 402,439 402.7,439.8 403,440.2 403.6,440.7 404,441.1 404.7,441.6 405,442.5 405.1,442.5 405,442.5 404,443.3 403.9,443.4 403,443.8 402,444.3 401.9,444.3 401,444.7 400.1,445.2 400,445.3 399,445.9 398.8,446.1 398,446.9 397.9,447.1 397.4,448 397,448.9 396.9,449.8 397,450.7 397,451 397.1,451.6 397.4,452.5 397.8,453.4 398,453.8 398.4,454.3 399,454.9 399.4,455.2 400,455.6 401,456 401.3,456.1Z"/>
<path fill-rule="evenodd" fill="rgb(71,255,184)" stroke="#000" stroke-opacity="0.5" stroke-width="0.5" d="M409.1,456.1 410,456.1 411,456.1 412,456.1 413,456.1 414,456.1 415,456.1 415.3,456.1 416,456 417,455.9 418,455.8 419,455.7 420,455.6 421,455.6 422,455.5 423,455.5 424,455.4 425,455.4 426,455.4 427,455.4 428,455.4 429,455.4 430,455.4 431,455.4 432,455.4 433,455.4 434,455.4 435.1,455.4 436.1,455.4 437.1,455.4 438.1,455.4 439.1,455.4 440.1,455.4 441.1,455.4 442.1,455.4 443.1,455.4 444.1,455.4 445.1,455.4 446.1,455.4 447.1,455.4 448.1,455.4 449.1,455.4 450.1,455.4 451.1,455.4 452.1,455.4 453.1,455.4 454.1,455.4 455.1,455.4 456.1,455.4 457.1,455.4 458.1,455.4 459.1,455.3 460.1,455.3 461.1,455.2 461.5,455.2 462.1,455.2 463.1,455 464.1,454.9 465.1,454.7 466.1,454.4 466.5,454.3 467.1,454.1 468.1,453.7 468.7,453.4 469.1,453.2 470.1,452.5 471,451.6 471.1,451.5 471.5,450.7 471.3,449.8 471.1,449.5 470.6,448.9 470.1,448.5 469.2,448 469.1,447.9 468.1,447.5 467.1,447.1 466.7,447.1 466.1,446.9 465.1,446.7 464.1,446.5 463.1,446.4 462.1,446.3 461.1,446.3 460.1,446.2 459.1,446.2 458.1,446.2 457.1,446.2 456.1,446.2 455.1,446.2 454.1,446.2 453.1,446.2 452.1,446.2 451.1,446.2 450.1,446.2 449.1,446.2 448.1,446.2 447.1,446.2 446.1,446.2 445.1,446.2 444.1,446.2 443.1,446.2 442.1,446.2 441.1,446.2 440.1,446.2 439.1,446.2 438.1,446.2 437.1,446.2 436.1,446.2 435.1,446.2 434,446.2 433,446.2 432,446.2 431,446.2 430,446.1 429.8,446.1 429,446.1 428,446.1 427,446.1 426,446.1 425,446 424,446 423,445.9 422,445.9 421,445.8 420,445.7 419,445.5 418,445.4 417.4,445.2 417,445.2 416,444.9 415,444.7 414,444.6 413,444.4 412,444.3 411.6,444.3 411,444.3 410.2,444.3 410,444.3 409,444.4 408,444.5 407,444.7 406,444.9 405,445.2 404.7,445.2 404,445.4 403,445.6 402,446 401.6,446.1 401,446.3 400,446.9 399.8,447.1 399,447.7 398.8,448 398.3,448.9 398.1,449.8 398.2,450.7 398.4,451.6 398.8,452.5 399,452.8 399.5,453.4 400,453.8 400.7,454.3 401,454.5 402,454.9 403,455.1 403.3,455.2 404,455.4 405,455.5 406,455.7 407,455.9 408,456 409,456.1 409.1,456.1ZM405.6,438 406,438.2 407,438.6 408,438.8 409,438.9 410,438.9 411,438.8 412,438.7 413,438.5 414,438.3 415,438 415.1,438 416,437.7 417,437.4 417.9,437.1 418,437 419,436.6 420,436.3 420.2,436.2 421,435.8 422,435.4 422.5,435.3 423,435.1 424,434.7 425,434.4 425.2,434.4 426,434 427,433.7 428,433.5 428.1,433.5 429,432.7 429.2,432.6 429,432.5 428,431.9 427.6,431.7 427,431.5 426,431.3 425,431 424.5,430.8 424,430.7 423,430.4 422,430 421.6,429.9 421,429.7 420,429.3 419,429 418.9,428.9 418,428.7 417,428.4 416,428.2 415.5,428 415,428 414,427.8 413,427.7 412,427.7 411,427.7 410,427.8 409,427.9 408.3,428 408,428.1 407,428.4 406,428.7 405.6,428.9 405,429.2 404.1,429.9 404,429.9 403.1,430.8 403,430.9 402.6,431.7 402.3,432.6 402.3,433.5 402.5,434.4 402.9,435.3 403,435.5 403.5,436.2 404,436.8 404.4,437.1 405,437.6 405.6,438ZM445.5,433.5 446.1,433.6 447.1,433.8 448.1,434 449.1,434.1 450.1,434.2 451.1,434.3 452.1,434.4 453.1,434.4 454.1,434.3 455.1,434.3 456.1,434.2 457.1,434 458.1,433.8 459.1,433.6 459.6,433.5 460.1,433.1 460.8,432.6 460.1,431.7 459.1,431.3 458.1,431 457.1,430.8 456.1,430.6 455.1,430.5 454.1,430.5 453.1,430.4 452.1,430.5 451.1,430.5 450.1,430.6 449.1,430.7 448.3,430.8 448.1,430.8 447.1,431.1 446.1,431.4 445.1,431.7 444.2,432.6 445.1,433.2 445.5,433.5Z"/>
<path fill-rule="evenodd" fill="rgb(184,255,71)" stroke="#000" stroke-opacity="0.7" stroke-width="0.5" d="M409.5,455.2 410,455.3 411,455.3 412,455.4 413,455.3 414,455.3 414.7,455.2 415,455.2 416,455 417,454.9 418,454.7 419,454.6 420,454.4 421,454.3 421.4,454.3 422,454.2 423,454.2 424,454.1 425,454.1 426,454 427,454 428,454 429,454 430,454 431,454 432,454 433,454 434,454 435.1,454 436.1,454 437.1,454 438.1,454 439.1,454 440.1,454 441.1,454 442.1,454 443.1,454 444.1,454 445.1,454 446.1,454 447.1,454 448.1,454 449.1,454 450.1,454 451.1,454 452.1,454 453.1,454 454.1,454 455.1,454 456.1,454 457.1,454 458.1,454 459.1,454 460.1,453.9 461.1,453.9 462.1,453.8 463.1,453.6 464.1,453.5 464.4,453.4 465.1,453.2 466.1,452.8 466.8,452.5 467.1,452.3 468,451.6 468.1,451.5 468.5,450.7 468.5,449.8 468.1,449.3 467.7,448.9 467.1,448.5 466.1,448.1 465.7,448 465.1,447.8 464.1,447.6 463.1,447.4 462.1,447.3 461.1,447.2 460.1,447.2 459.1,447.2 458.1,447.1 457.1,447.1 456.1,447.1 455.1,447.1 454.1,447.1 453.1,447.1 452.1,447.1 451.1,447.1 450.1,447.1 449.1,447.1 448.1,447.1 447.1,447.1 446.1,447.1 445.1,447.1 444.1,447.1 443.1,447.1 442.1,447.1 441.1,447.1 440.1,447.1 439.1,447.1 438.1,447.1 437.1,447.1 436.1,447.1 435.1,447.1 434,447.1 433,447.1 432,447.1 431,447.1 430,447.1 429,447.1 428,447.1 427,447.1 426.5,447.1 426,447 425,447 424,447 423,446.9 422,446.8 421,446.7 420,446.6 419,446.4 418,446.3 417.5,446.1 417,446 416,445.8 415,445.6 414,445.5 413,445.3 412,445.3 411,445.3 410,445.3 409,445.4 408,445.6 407,445.8 406,446.1 405.8,446.1 405,446.3 404,446.6 403,446.9 402.6,447.1 402,447.3 401,447.7 400.7,448 400,448.6 399.8,448.9 399.6,449.8 399.7,450.7 400,451.6 400.8,452.5 401,452.7 402,453.3 402.1,453.4 403,453.7 404,454.1 404.8,454.3 405,454.3 406,454.6 407,454.8 408,455 409,455.1 409.5,455.2ZM407.4,436.2 408,436.5 409,436.7 410,436.9 411,436.9 412,436.9 413,436.7 414,436.5 415,436.3 415.2,436.2 416,435.9 417,435.4 417.3,435.3 418,434.8 418.7,434.4 419,434 419.5,433.5 419.6,432.6 419.1,431.7 419,431.6 418,430.8 417,430.3 416,429.9 415,429.6 414,429.4 413,429.2 412,429.1 411,429.2 410,429.3 409,429.5 408,429.8 407.8,429.9 407,430.2 406.2,430.8 406,430.9 405.3,431.7 405,432.4 405,432.6 405,433.5 405,433.7 405.3,434.4 406,435.3 407,436 407.4,436.2Z"/>
<path fill-rule="evenodd" fill="rgb(255,228,0)" stroke="#000" stroke-opacity="0.7" stroke-width="0.5" d="M409.3,454.3 410,454.4 411,454.5 412,454.5 413,454.5 414,454.4 414.8,454.3 415,454.3 416,454.1 417,453.8 418,453.6 419,453.4 420,453.1 421,452.9 422,452.8 423,452.7 424,452.6 425,452.5 426,452.5 427,452.4 428,452.4 429,452.4 430,452.4 431,452.4 432,452.4 433,452.4 434,452.4 435,452.4 436.1,452.4 437.1,452.4 438.1,452.4 439.1,452.4 440.1,452.4 441.1,452.4 442.1,452.4 443.1,452.4 444.1,452.4 445.1,452.4 446.1,452.4 447.1,452.4 448.1,452.4 449.1,452.4 450.1,452.4 451.1,452.4 452.1,452.4 453.1,452.4 454.1,452.5 455.1,452.5 456,452.5 456.1,452.5 457.1,452.5 458.1,452.5 459.1,452.4 460.1,452.4 461.1,452.3 462.1,452.1 463.1,451.8 463.9,451.6 464.1,451.5 465.1,450.7 465.2,449.8 465.1,449.7 464.1,449 463.7,448.9 463.1,448.7 462.1,448.5 461.1,448.4 460.1,448.3 459.1,448.3 458.1,448.3 457.1,448.2 456.1,448.2 455.1,448.2 454.1,448.2 453.1,448.2 452.1,448.2 451.1,448.3 450.1,448.3 449.1,448.3 448.1,448.3 447.1,448.3 446.1,448.3 445.1,448.3 444.1,448.3 443.1,448.3 442.1,448.3 441.1,448.3 440.1,448.3 439.1,448.3 438.1,448.3 437.1,448.3 436.1,448.3 435.1,448.3 434,448.2 433,448.2 432,448.1 431,448.1 430,448.1 429,448.2 428,448.2 427,448.2 426,448.2 425,448.1 424,448 423.1,448 423,448 422,447.9 421,447.7 420,447.6 419,447.4 418,447.1 417.8,447.1 417,446.9 416,446.6 415,446.4 414,446.2 413.6,446.1 413,446.1 412,446 411,446 410,446.1 409.8,446.1 409,446.3 408,446.5 407,446.8 406.1,447.1 406,447.1 405,447.4 404,447.8 403.5,448 403,448.2 402,448.8 402,448.9 401.5,449.8 401.7,450.7 402,451.1 402.4,451.6 403,452 403.7,452.5 404,452.6 405,453 405.9,453.4 406,453.4 407,453.7 408,454 409,454.2 409.3,454.3ZM409.7,434.4 410,434.5 411,434.7 412,434.7 413,434.5 413.6,434.4 414,434.1 414.9,433.5 415,432.9 415.1,432.6 415,432.5 414.2,431.7 414,431.6 413,431.3 412,431.1 411,431.2 410,431.4 409.4,431.7 409,432 408.5,432.6 408.6,433.5 409,433.9 409.7,434.4Z"/>
<path fill-rule="evenodd" fill="rgb(255,105,0)" stroke="#000" stroke-opacity="0.7" stroke-width="0.5" d="M409.2,453.4 410,453.6 411,453.7 412,453.7 413,453.7 414,453.6 414.8,453.4 415,453.3 416,453 417,452.7 417.6,452.5 418,452.3 419,451.8 419.7,451.6 420,451.3 421,450.8 421.3,450.7 421.8,449.8 421,449.4 420.2,448.9 420,448.8 419,448.5 418,448.1 417.7,448 417,447.8 416,447.4 415,447.1 414.7,447.1 414,446.9 413,446.8 412,446.7 411,446.7 410,446.8 409,447 409,447.1 408,447.4 407,447.7 406.4,448 406,448.2 405,448.8 404.9,448.9 404.2,449.8 404.5,450.7 405,451.2 405.3,451.6 406,452 406.8,452.5 407,452.6 408,453 409,453.3 409.2,453.4ZM429.9,449.8 430,449.8 431,450.1 432,449.8 432.1,449.8 432,449.7 431,449.6 430,449.7 429.9,449.8Z"/>
<path fill-rule="evenodd" fill="rgb(238,0,0)" stroke="#000" stroke-opacity="0.55" stroke-width="0.5" d="M409.5,452.5 410,452.7 411,452.8 412,452.9 413,452.8 414,452.6 414.6,452.5 415,452.3 416,451.8 416.5,451.6 417,451 417.4,450.7 417.7,449.8 417,449 416.9,448.9 416,448.4 415.1,448 415,447.9 414,447.7 413,447.5 412,447.4 411,447.4 410,447.6 409,447.9 408.8,448 408,448.4 407.2,448.9 407,449.1 406.6,449.8 406.9,450.7 407,450.9 407.7,451.6 408,451.8 409,452.3 409.5,452.5Z"/>
<path fill-rule="evenodd" fill="rgb(128,0,0)" stroke="#000" stroke-opacity="0.4" stroke-width="0.5" d="M410.1,451.6 411,451.8 412,451.9 413,451.8 413.8,451.6 414,451.5 415,450.7 415.1,450.7 415.4,449.8 415,449.3 414.6,448.9 414,448.6 413,448.3 412,448.2 411,448.3 410,448.6 409.3,448.9 409,449.2 408.6,449.8 408.9,450.7 409,450.8 410,451.5 410.1,451.6Z"/>
</g>
<!-- T4-C3 -->
<clipPath id="c11"><polygon points="536.1,452.1 680.3,330.8 680.3,452.1"/></clipPath>
<polygon points="536.1,452.1 680.3,330.8 680.3,452.1" fill="rgb(2,4,143)"/>
<g clip-path="url(#c11)">
<path fill-rule="evenodd" fill="rgb(0,0,232)" d="M567.7,452.1 568,452.1 569.1,452.1 570.1,452.1 571.1,452.1 572.1,452.1 573.2,452.1 574.2,452.1 575.2,452.1 576.3,452.1 577.3,452.1 578.3,452.1 579.4,452.1 580.4,452.1 581.4,452.1 582.5,452.1 583.5,452.1 584.5,452.1 585.5,452.1 586.6,452.1 587.6,452.1 588.6,452.1 589.7,452.1 590.7,452.1 591.7,452.1 592.8,452.1 593.8,452.1 594.8,452.1 595.8,452.1 596.9,452.1 597.9,452.1 598.9,452.1 600,452.1 601,452.1 602,452.1 603,452.1 604.1,452.1 605.1,452.1 606.1,452.1 607.2,452.1 608.2,452.1 609.2,452.1 610.3,452.1 611.3,452.1 612.3,452.1 613.4,452.1 614.4,452.1 615.4,452.1 616.4,452.1 617.5,452.1 618.5,452.1 619.5,452.1 620.6,452.1 621.6,452.1 622.6,452.1 623.6,452.1 624.7,452.1 625.7,452.1 626.7,452.1 627.8,452.1 628.8,452.1 629.8,452.1 630.9,452.1 631.9,452.1 632.9,452.1 633.9,452.1 635,452.1 636,452.1 637,452.1 638.1,452.1 639.1,452.1 640.1,452.1 641.2,452.1 642.2,452.1 643.2,452.1 644.2,452.1 645.3,452.1 646.3,452.1 647.3,452.1 648.4,452.1 649.4,452.1 650.4,452.1 651.5,452.1 652.5,452.1 653.5,452.1 654.4,452.1 654.5,452.1 655.6,451.9 656.6,451.8 657.6,451.6 658.7,451.4 659.6,451.2 659.7,451.2 660.7,451 661.8,450.9 662.8,450.7 663.8,450.6 664.8,450.5 665.9,450.4 666.9,450.3 667.9,450.2 669,450.1 670,450 671,449.9 672.1,449.8 673.1,449.8 674.1,449.7 675.1,449.6 676,449.5 676.2,449.5 677.2,449.3 678.2,449.2 679.3,449.1 680.3,448.9 680.3,448.6 680.3,447.8 680.3,446.9 680.3,446 680.3,445.9 679.3,445.8 678.2,445.7 677.2,445.5 676.2,445.4 675.1,445.4 674.1,445.3 673.1,445.2 673,445.2 672.1,445.1 671,445 670,445 669,444.9 667.9,444.8 666.9,444.7 665.9,444.6 664.8,444.5 663.8,444.4 663.1,444.3 662.8,444.3 661.8,444.1 660.7,443.9 659.7,443.7 658.7,443.5 658.4,443.4 657.6,443.2 656.6,443 655.6,442.8 654.5,442.6 653.5,442.3 652.5,442.1 651.5,441.9 650.5,441.7 650.4,441.7 649.4,441.4 648.4,441.1 647.3,440.9 647.2,440.8 646.3,440.5 645.3,440.2 644.2,440 643.2,439.7 642.2,439.4 641.2,439.2 640.5,439.1 640.1,439 639.1,438.7 638.1,438.5 637,438.4 636,438.3 635.8,438.2 636,437.8 636.1,437.4 637,437.3 638.1,437.1 639.1,436.9 640.1,436.7 640.7,436.5 641.2,436.4 642.2,436.3 643.2,436.1 644.2,435.9 645.3,435.6 646.3,435.4 647.3,435.2 648.4,435 649.2,434.8 649.4,434.7 650.4,434.5 651.5,434.2 652.5,433.9 653.5,433.6 654.5,433.3 655.4,433 655.6,433 656.6,432.6 657.6,432.3 658,432.2 658.7,431.9 659.7,431.5 660.1,431.3 660.7,430.9 661.5,430.4 661.8,430.1 662.2,429.6 661.9,428.7 661.8,428.6 660.9,427.8 660.7,427.8 659.7,427.3 659.1,427 658.7,426.8 657.6,426.4 656.8,426.1 656.6,426 655.6,425.7 654.5,425.3 654.2,425.2 653.5,425 652.5,424.7 651.6,424.4 651.5,424.3 650.4,424 649.4,423.7 648.7,423.5 648.4,423.4 647.3,423.1 646.3,422.8 645.5,422.6 645.3,422.6 644.2,422.3 643.2,422.1 642.2,421.9 641.4,421.8 641.2,421.7 640.1,421.6 639.1,421.4 638.1,421.3 637,421.2 636,421.1 635,421 633.9,420.9 633.7,420.9 632.9,420.9 631.9,420.8 630.9,420.8 629.8,420.7 628.8,420.7 627.8,420.7 626.7,420.6 625.7,420.6 624.7,420.6 623.6,420.6 622.6,420.6 621.6,420.6 620.6,420.6 619.5,420.6 618.5,420.6 617.5,420.6 616.4,420.6 615.4,420.6 614.4,420.6 613.3,420.6 612.3,420.6 611.3,420.5 610.3,420.5 609.2,420.5 608.2,420.5 607.2,420.4 606.1,420.4 605.1,420.4 604.1,420.4 603,420.4 602,420.4 601,420.5 600,420.5 598.9,420.5 597.9,420.6 596.9,420.6 595.8,420.6 594.8,420.6 593.8,420.5 592.8,420.5 591.7,420.4 590.7,420.3 589.7,420.2 588.6,420.1 587.6,420 586.6,420 585.5,419.9 584.5,419.9 583.5,419.9 582.5,419.9 581.4,420 581.1,420 580.4,420.1 579.4,420.2 578.3,420.4 577.3,420.5 576.3,420.8 575.7,420.9 575.2,421 574.2,421.3 573.2,421.7 572.9,421.8 572.1,422 571.1,422.5 570.8,422.6 570.1,423 569.2,423.5 569.1,423.6 568,424.4 567,425.2 566.2,426.1 566,426.5 565.6,427 565.2,427.8 564.9,428.6 564.9,428.7 564.8,429.6 564.7,430.4 564.8,431.3 564.9,431.9 565,432.2 565.2,433 565.4,433.9 565.6,434.8 565.8,435.6 566,436.2 566.1,436.5 566.3,437.4 566.7,438.2 567,439.1 567.2,440 567.2,440.8 567.1,441.7 567,442 566.9,442.6 566.6,443.4 566.5,444.3 566.4,445.2 566.3,446 566.4,446.9 566.4,447.8 566.6,448.6 566.7,449.5 567,450.4 567.3,451.2 567.7,452.1Z"/>
<path fill-rule="evenodd" fill="rgb(0,99,255)" stroke="#000" stroke-opacity="0.1" stroke-width="0.5" d="M570.1,452.1 571.1,452.1 572.1,452.1 573.2,452.1 574.2,452.1 575.2,452.1 576.3,452.1 577.3,452.1 578.3,452.1 579.4,452.1 580.4,452.1 581.4,452.1 582.5,452.1 583.5,452.1 584.5,452.1 585.5,452.1 586.6,452.1 587.6,452.1 588.6,452.1 589.7,452.1 590.7,452.1 591.7,452.1 592.8,452.1 593.8,452.1 594.8,452.1 595.8,452.1 596.9,452.1 597.9,452.1 598.9,452.1 600,452.1 601,452.1 602,452.1 603,452.1 604.1,452.1 605.1,452.1 606.1,452.1 607.2,452.1 608.2,452.1 609.2,452.1 610.3,452.1 611.3,452.1 612.3,452.1 613.4,452.1 614.4,452.1 615.4,452.1 616.4,452.1 617.5,452.1 618.5,452.1 619.5,452.1 620.6,452.1 621.6,452.1 622.6,452.1 623.6,452.1 624.7,452.1 625.7,452.1 626.7,452.1 627.8,452.1 628.8,452.1 629.8,452.1 630.9,452.1 631.9,452.1 632.9,452.1 633.9,452.1 635,452.1 636,452.1 637,452.1 638.1,452.1 639.1,452.1 640.1,452.1 641.2,452.1 642.2,452.1 643.2,452.1 644.2,452.1 644.7,452.1 645.3,451.9 646.3,451.5 647.2,451.2 647.3,451.2 648.4,450.9 649.4,450.6 650.3,450.4 650.4,450.3 651.5,450.1 652.5,449.9 653.5,449.7 654.5,449.5 654.6,449.5 655.6,449.2 656.6,448.9 657.4,448.6 657.6,448.5 658.7,447.9 658.9,447.8 659.2,446.9 658.7,446.5 658,446 657.6,445.9 656.6,445.5 655.6,445.2 654.5,444.9 653.5,444.6 652.5,444.4 652.3,444.3 651.5,444.1 650.4,443.9 649.4,443.6 649,443.4 648.4,443.2 647.3,442.9 646.3,442.6 645.3,442.2 644.2,441.9 643.4,441.7 643.2,441.6 642.2,441.4 641.2,441.2 640.1,441 639.1,440.9 638.3,440.8 638.1,440.8 637,440.7 636,440.7 635,440.6 633.9,440.6 632.9,440.5 631.9,440.5 630.9,440.5 629.8,440.5 628.8,440.5 627.8,440.5 626.7,440.5 625.7,440.5 624.7,440.5 623.6,440.5 622.6,440.5 621.6,440.5 620.6,440.5 619.5,440.5 618.5,440.5 617.5,440.5 616.4,440.5 615.4,440.5 614.4,440.5 613.4,440.5 612.3,440.5 611.3,440.5 610.3,440.5 609.2,440.5 608.2,440.5 607.2,440.4 606.1,440.4 605.1,440.4 604.1,440.4 603,440.4 602,440.3 601,440.3 600,440.3 598.9,440.2 597.9,440.2 596.9,440.1 595.8,440 595.7,440 594.8,439.8 593.8,439.6 592.8,439.3 592.3,439.1 591.7,438.2 592.8,437.4 593.8,437 594.8,436.7 595.3,436.5 595.8,436.4 596.9,436.1 597.9,436 598.9,435.8 599.9,435.6 600,435.6 601,435.5 602,435.4 603,435.3 604.1,435.2 605.1,435.1 606.1,435 607.2,434.9 608.2,434.9 609.2,434.8 609.7,434.8 610.3,434.7 611.3,434.7 612.3,434.7 613.4,434.7 614.4,434.7 615.4,434.7 616.4,434.7 617.5,434.7 618.5,434.7 619.5,434.7 620.6,434.8 621.4,434.8 621.6,434.8 622.6,434.8 623.6,434.8 624.7,434.8 625.7,434.8 626.7,434.8 627.8,434.8 628.8,434.8 629.1,434.8 629.8,434.8 630.9,434.7 631.9,434.7 632.9,434.6 634,434.6 635,434.5 636,434.4 637,434.3 638.1,434.2 639.1,434.1 640.1,433.9 640.3,433.9 641.2,433.8 642.2,433.6 643.2,433.4 644.2,433.2 645.2,433 645.3,433 646.3,432.8 647.3,432.5 648.4,432.2 648.5,432.2 649.4,431.8 650.4,431.4 650.7,431.3 651.5,430.8 652,430.4 652.5,429.6 652.5,429.4 652.3,428.7 651.5,428 651.3,427.8 650.4,427.4 649.6,427 649.4,426.9 648.4,426.5 647.3,426.2 647.2,426.1 646.3,425.8 645.3,425.6 644.2,425.3 644,425.2 643.2,425.1 642.2,424.9 641.2,424.7 640.1,424.5 639.5,424.4 639.1,424.3 638.1,424.2 637,424 636,423.9 635,423.8 633.9,423.7 632.9,423.6 631.9,423.6 630.9,423.5 630.6,423.5 629.8,423.5 628.8,423.4 627.8,423.4 626.7,423.4 625.7,423.4 624.7,423.4 623.6,423.4 622.6,423.4 621.6,423.4 620.6,423.4 619.5,423.4 618.5,423.5 617.5,423.5 616.4,423.5 616.3,423.5 615.4,423.5 614.4,423.5 613.4,423.5 612.7,423.5 612.3,423.5 611.3,423.5 610.3,423.4 609.2,423.4 608.2,423.4 607.2,423.3 606.1,423.3 605.1,423.2 604.1,423.2 603,423.2 602,423.2 601,423.2 600,423.2 598.9,423.2 597.9,423.2 596.9,423.1 595.8,423.1 594.8,423 593.8,422.9 592.8,422.8 591.7,422.7 591.5,422.6 590.7,422.5 589.7,422.4 588.6,422.3 587.6,422.1 586.6,422.1 585.5,422 584.5,422 583.5,422 582.5,422 581.4,422.1 580.4,422.2 579.4,422.4 578.3,422.6 578.1,422.6 577.3,422.8 576.3,423.1 575.2,423.5 575.1,423.5 574.2,423.9 573.2,424.4 572.1,425 571.8,425.2 571.1,425.8 570.7,426.1 570.1,426.8 569.9,427 569.4,427.8 569.1,428.6 569,428.7 568.8,429.6 568.8,430.4 568.9,431.3 569.1,432 569.1,432.2 569.4,433 569.6,433.9 569.9,434.8 570.1,435.3 570.2,435.6 570.5,436.5 570.7,437.4 571,438.2 571,439.1 570.7,440 570.1,440.8 570.1,440.9 569.5,441.7 569.1,442.2 568.8,442.6 568.4,443.4 568,444.3 567.8,445.2 567.7,446 567.8,446.9 567.9,447.8 568,448.4 568.1,448.6 568.3,449.5 568.7,450.4 569.1,450.9 569.3,451.2 570.1,452.1Z"/>
<path fill-rule="evenodd" fill="rgb(0,212,255)" stroke="#000" stroke-opacity="0.3" stroke-width="0.5" d="M573.5,452.1 574.2,452.1 575.2,452.1 576.3,452.1 577.3,452.1 578.3,452.1 579.4,452.1 580.4,452.1 581.4,452.1 582.5,452.1 583.5,452.1 584.5,452.1 585.5,452.1 586.6,452.1 587.6,452.1 588.6,452.1 589.7,452.1 590.7,452.1 591.7,452.1 592.8,452.1 593.8,452.1 594.8,452.1 595.8,452.1 596.9,452.1 597.9,452.1 598.9,452.1 600,452.1 601,452.1 602,452.1 603,452.1 604.1,452.1 605.1,452.1 606.1,452.1 607.2,452.1 608.2,452.1 609.2,452.1 610.3,452.1 611.3,452.1 612.3,452.1 613.4,452.1 614.4,452.1 615.4,452.1 616.4,452.1 617.5,452.1 618.5,452.1 619.5,452.1 620.6,452.1 621.6,452.1 622.6,452.1 623.6,452.1 624.7,452.1 625.7,452.1 626.7,452.1 627.8,452.1 628.8,452.1 629.8,452.1 630.9,452.1 631.9,452.1 632.9,452.1 633.9,452.1 635,452.1 636,452.1 637,452.1 638.1,452.1 639,452.1 639.1,452.1 640.1,451.9 641.2,451.6 642.2,451.3 642.4,451.2 643.2,451 644.2,450.6 644.7,450.4 645.3,450.1 646.3,449.6 646.6,449.5 647.3,449.1 648.2,448.6 648.4,448.5 649.4,447.9 649.6,447.8 650.2,446.9 649.6,446 649.4,445.9 648.4,445.3 648.3,445.2 647.3,444.7 646.6,444.3 646.3,444.2 645.3,443.7 644.6,443.4 644.2,443.3 643.2,443 642.2,442.7 641.8,442.6 641.2,442.4 640.1,442.2 639.1,442.1 638.1,442 637,441.9 636,441.8 635,441.8 634,441.7 632.9,441.7 631.9,441.7 630.9,441.7 629.8,441.7 628.8,441.7 627.8,441.7 626.7,441.7 625.7,441.7 624.7,441.7 623.6,441.7 622.6,441.7 621.6,441.7 620.6,441.7 619.5,441.7 618.5,441.7 617.5,441.7 616.4,441.7 615.4,441.7 614.4,441.7 613.4,441.7 612.3,441.7 611.3,441.7 610.3,441.7 609.2,441.7 608.2,441.7 607.2,441.7 606.1,441.6 605.1,441.6 604.1,441.6 603,441.6 602,441.6 601,441.6 600,441.6 598.9,441.5 597.9,441.5 596.9,441.4 595.8,441.4 594.8,441.3 593.8,441.2 592.8,441.1 591.7,440.9 591.1,440.8 590.7,440.7 589.7,440.5 588.6,440.3 587.6,440 587.3,440 586.6,439.7 585.5,439.4 584.6,439.1 584.5,439 584.1,438.2 584.5,438 585.5,437.5 585.7,437.4 586.6,437.1 587.6,436.7 588.1,436.5 588.6,436.3 589.7,436 590.7,435.6 591.7,435.3 592.8,435 593.6,434.8 593.8,434.7 594.8,434.4 595.8,434.2 596.9,434 597.3,433.9 597.9,433.8 598.9,433.7 600,433.5 601,433.4 602,433.3 603,433.2 604.1,433.1 604.8,433 605.1,433 606.1,432.9 607.2,432.8 608.2,432.7 609.2,432.7 610.3,432.6 611.3,432.6 612.3,432.6 613.4,432.6 614.4,432.6 615.4,432.7 616.4,432.7 617.5,432.8 618.5,432.8 619.5,432.9 620.6,433 621.6,433 622.2,433 622.6,433.1 623.6,433.1 624.7,433.1 625.7,433.1 626.7,433.1 627.8,433.1 628.8,433.1 629.8,433 630.9,433 631.9,432.9 632.9,432.8 634,432.7 635,432.6 636,432.5 637,432.3 638.1,432.2 638.2,432.2 639.1,432 640.1,431.8 641.2,431.5 642,431.3 642.2,431.2 643.2,430.8 644,430.4 644.2,430.2 644.8,429.6 644.4,428.7 644.2,428.6 643.2,428 642.9,427.8 642.2,427.6 641.2,427.3 640.2,427 640.1,427 639.1,426.7 638.1,426.5 637,426.3 636,426.1 635.8,426.1 635,426 633.9,425.9 632.9,425.7 631.9,425.7 630.9,425.6 629.8,425.5 628.8,425.5 627.8,425.4 626.7,425.4 625.7,425.4 624.7,425.4 623.6,425.4 622.6,425.5 621.6,425.5 620.6,425.6 619.5,425.6 618.5,425.7 617.5,425.8 616.4,425.9 615.4,425.9 614.4,426 613.4,426 612.3,426 611.3,426 610.3,426 609.2,426 608.2,425.9 607.2,425.8 606.1,425.8 605.1,425.7 604.1,425.6 603,425.6 602,425.5 601,425.5 600,425.4 598.9,425.4 597.9,425.3 597,425.2 596.9,425.2 595.8,425.1 594.8,425 593.8,424.8 592.8,424.6 591.7,424.4 591.5,424.4 590.7,424.2 589.7,424 588.6,423.9 587.6,423.7 586.6,423.6 585.5,423.6 584.5,423.5 583.5,423.5 582.5,423.6 581.4,423.7 580.4,423.8 579.4,424 578.3,424.3 578,424.4 577.3,424.6 576.3,425 575.7,425.2 575.2,425.5 574.2,426.1 573.2,427 572.5,427.8 572.1,428.5 572,428.7 571.8,429.6 571.8,430.4 571.9,431.3 572.1,432 572.2,432.2 572.6,433 573.1,433.9 573.2,434.1 573.6,434.8 574.2,435.6 574.2,435.7 574.9,436.5 575.2,436.9 575.9,437.4 576.3,437.8 577,438.2 577.3,439 577.3,439.1 576.3,439.8 576.1,440 575.2,440.3 574.2,440.8 574.1,440.8 573.2,441.2 572.2,441.7 572.1,441.7 571.1,442.4 570.9,442.6 570.1,443.3 570,443.4 569.4,444.3 569.1,445.2 569,446 569,446.9 569.1,447.2 569.2,447.8 569.4,448.6 569.9,449.5 570.1,449.9 570.5,450.4 571.1,451 571.5,451.2 572.1,451.6 573.2,452 573.5,452.1Z"/>
<path fill-rule="evenodd" fill="rgb(71,255,184)" stroke="#000" stroke-opacity="0.5" stroke-width="0.5" d="M581.5,452.1 582.5,452.1 583.5,452.1 584.5,452.1 585.5,452.1 586.6,452.1 587.6,452.1 587.9,452.1 588.6,452 589.7,451.9 590.7,451.8 591.7,451.7 592.8,451.7 593.8,451.6 594.8,451.5 595.8,451.5 596.9,451.5 597.9,451.4 598.9,451.4 600,451.4 601,451.4 602,451.4 603,451.4 604.1,451.4 605.1,451.4 606.1,451.4 607.2,451.4 608.2,451.4 609.2,451.4 610.3,451.4 611.3,451.4 612.3,451.4 613.4,451.4 614.4,451.4 615.4,451.4 616.4,451.4 617.5,451.4 618.5,451.4 619.5,451.4 620.6,451.4 621.6,451.4 622.6,451.4 623.6,451.4 624.7,451.4 625.7,451.4 626.7,451.4 627.8,451.4 628.8,451.4 629.8,451.4 630.9,451.4 631.9,451.4 632.9,451.4 633.9,451.3 635,451.3 635.5,451.2 636,451.2 637,451.1 638.1,450.9 639.1,450.7 640.1,450.5 640.6,450.4 641.2,450.2 642.2,449.8 642.8,449.5 643.2,449.3 644.2,448.7 644.3,448.6 645.2,447.8 645.3,447.7 645.7,446.9 645.6,446 645.3,445.7 644.8,445.2 644.2,444.9 643.3,444.3 643.2,444.3 642.2,443.9 641.2,443.5 640.8,443.4 640.1,443.3 639.1,443.1 638.1,442.9 637,442.8 636,442.7 635,442.7 633.9,442.7 632.9,442.6 631.9,442.6 630.9,442.6 629.8,442.6 628.8,442.6 627.8,442.6 626.7,442.6 625.7,442.6 624.7,442.6 623.6,442.6 622.6,442.6 621.6,442.6 620.6,442.6 619.5,442.6 618.5,442.6 617.5,442.6 616.4,442.6 615.4,442.6 614.4,442.6 613.4,442.6 612.3,442.6 611.3,442.6 610.3,442.6 609.2,442.6 608.2,442.6 607.2,442.6 606.1,442.6 605.1,442.6 604.1,442.6 603,442.6 602.8,442.6 602,442.6 601,442.5 600,442.5 598.9,442.5 597.9,442.5 596.9,442.4 595.8,442.4 594.8,442.3 593.8,442.2 592.8,442.1 591.7,442 590.7,441.8 590.1,441.7 589.7,441.6 588.6,441.4 587.6,441.2 586.6,441.1 585.5,440.9 584.5,440.9 584,440.8 583.5,440.8 582.6,440.8 582.5,440.8 581.4,440.9 580.4,441 579.4,441.2 578.3,441.4 577.3,441.6 577,441.7 576.3,441.9 575.2,442.1 574.2,442.4 573.7,442.6 573.2,442.8 572.1,443.3 571.9,443.4 571.1,444.1 570.9,444.3 570.4,445.2 570.2,446 570.3,446.9 570.5,447.8 570.9,448.6 571.1,448.9 571.6,449.5 572.1,449.9 572.9,450.4 573.2,450.5 574.2,450.9 575.2,451.2 575.5,451.2 576.3,451.4 577.3,451.6 578.3,451.7 579.4,451.9 580.4,452 581.4,452.1 581.5,452.1ZM577.9,434.8 578.3,435 579.4,435.3 580.4,435.5 581.4,435.6 582.5,435.6 583.5,435.6 584.5,435.4 585.5,435.3 586.6,435.1 587.6,434.8 587.7,434.8 588.6,434.5 589.7,434.2 590.5,433.9 590.7,433.9 591.7,433.5 592.8,433.1 592.9,433 593.8,432.7 594.8,432.3 595.3,432.2 595.8,431.9 596.9,431.6 597.9,431.3 598,431.3 598.9,431 600,430.7 601,430.5 601.1,430.4 602,429.7 602.2,429.6 602,429.5 601,428.9 600.6,428.7 600,428.6 598.9,428.3 597.9,428 597.3,427.8 596.9,427.7 595.8,427.5 594.8,427.1 594.4,427 593.8,426.8 592.8,426.5 591.7,426.1 591.6,426.1 590.7,425.9 589.7,425.6 588.6,425.3 588.1,425.2 587.6,425.2 586.6,425 585.5,424.9 584.5,424.9 583.5,424.9 582.5,425 581.4,425.1 580.6,425.2 580.4,425.3 579.4,425.6 578.3,425.9 577.8,426.1 577.3,426.4 576.3,427 575.3,427.8 575.2,428 574.8,428.7 574.5,429.6 574.5,430.4 574.7,431.3 575.1,432.2 575.2,432.4 575.7,433 576.3,433.6 576.6,433.9 577.3,434.4 577.9,434.8ZM619,430.4 619.5,430.5 620.6,430.7 621.6,430.9 622.6,431.1 623.6,431.2 624.7,431.2 625.7,431.3 626.7,431.3 627.8,431.3 628.8,431.2 629.8,431.1 630.9,431 631.9,430.8 632.9,430.6 633.5,430.4 633.9,430.1 634.7,429.6 634,428.7 633.9,428.7 632.9,428.4 631.9,428.1 630.9,427.8 629.8,427.7 628.8,427.6 627.8,427.6 626.7,427.5 625.7,427.5 624.7,427.6 623.6,427.7 622.6,427.8 621.9,427.8 621.6,427.9 620.6,428.1 619.5,428.4 618.5,428.7 617.6,429.6 618.5,430.1 619,430.4Z"/>
<path fill-rule="evenodd" fill="rgb(184,255,71)" stroke="#000" stroke-opacity="0.7" stroke-width="0.5" d="M581.9,451.2 582.5,451.3 583.5,451.4 584.5,451.4 585.5,451.4 586.6,451.3 587.3,451.2 587.6,451.2 588.6,451.1 589.7,450.9 590.7,450.8 591.7,450.6 592.8,450.5 593.8,450.4 594.2,450.4 594.8,450.3 595.8,450.2 596.9,450.2 597.9,450.2 598.9,450.1 600,450.1 601,450.1 602,450.1 603,450.1 604.1,450.1 605.1,450.1 606.1,450.1 607.2,450.1 608.2,450.1 609.2,450.1 610.3,450.1 611.3,450.1 612.3,450.1 613.4,450.1 614.4,450.1 615.4,450.1 616.4,450.1 617.5,450.1 618.5,450.1 619.5,450.1 620.6,450.1 621.6,450.1 622.6,450.1 623.6,450.1 624.7,450.1 625.7,450.1 626.7,450.1 627.8,450.1 628.8,450.1 629.8,450.1 630.9,450.1 631.9,450.1 632.9,450.1 633.9,450 635,450 636,449.9 637,449.7 638.1,449.6 638.4,449.5 639.1,449.3 640.1,448.9 640.9,448.6 641.2,448.5 642.1,447.8 642.2,447.7 642.7,446.9 642.6,446 642.2,445.6 641.8,445.2 641.2,444.9 640.1,444.4 639.8,444.3 639.1,444.1 638.1,443.9 637,443.8 636,443.7 635,443.6 633.9,443.6 632.9,443.5 631.9,443.5 630.9,443.5 629.8,443.5 628.8,443.5 627.8,443.5 626.7,443.5 625.7,443.5 624.7,443.5 623.6,443.5 622.6,443.5 621.6,443.5 620.6,443.5 619.5,443.5 618.5,443.5 617.5,443.5 616.4,443.5 615.4,443.5 614.4,443.5 613.4,443.5 612.3,443.5 611.3,443.5 610.3,443.5 609.2,443.5 608.2,443.5 607.2,443.5 606.1,443.5 605.1,443.5 604.1,443.5 603,443.5 602,443.5 601,443.5 600,443.4 599.4,443.4 598.9,443.4 597.9,443.4 596.9,443.4 595.8,443.3 594.8,443.2 593.8,443.1 592.8,443 591.7,442.9 590.7,442.7 590.2,442.6 589.7,442.5 588.6,442.3 587.6,442.1 586.6,441.9 585.5,441.8 584.5,441.7 583.5,441.7 582.5,441.8 581.4,441.9 580.4,442.1 579.4,442.3 578.3,442.5 578.1,442.6 577.3,442.8 576.3,443 575.2,443.3 574.8,443.4 574.2,443.6 573.2,444.1 572.9,444.3 572.1,444.9 572,445.2 571.7,446 571.8,446.9 572.1,447.8 572.9,448.6 573.2,448.9 574.2,449.5 574.3,449.5 575.2,449.8 576.3,450.2 577.1,450.4 577.3,450.4 578.3,450.6 579.4,450.8 580.4,451 581.4,451.2 581.9,451.2ZM579.7,433 580.4,433.3 581.4,433.6 582.5,433.7 583.5,433.7 584.5,433.7 585.5,433.6 586.6,433.4 587.6,433.1 587.8,433 588.6,432.7 589.7,432.3 590,432.2 590.7,431.7 591.4,431.3 591.7,430.9 592.1,430.4 592.3,429.6 591.8,428.7 591.7,428.7 590.7,427.9 590.6,427.8 589.7,427.4 588.6,427 587.6,426.7 586.6,426.5 585.5,426.4 584.5,426.3 583.5,426.3 582.5,426.4 581.4,426.6 580.4,426.9 580.1,427 579.4,427.3 578.5,427.8 578.3,428 577.6,428.7 577.3,429.4 577.2,429.6 577.2,430.4 577.3,430.6 577.6,431.3 578.3,432.2 579.4,432.9 579.7,433Z"/>
<path fill-rule="evenodd" fill="rgb(255,228,0)" stroke="#000" stroke-opacity="0.7" stroke-width="0.5" d="M581.7,450.4 582.5,450.5 583.5,450.6 584.5,450.6 585.5,450.6 586.6,450.5 587.4,450.4 587.6,450.3 588.6,450.1 589.7,449.9 590.7,449.7 591.6,449.5 591.7,449.5 592.8,449.3 593.8,449.1 594.8,448.9 595.8,448.8 596.9,448.7 597.9,448.7 598.9,448.6 600,448.6 601,448.6 602,448.6 603,448.6 604.1,448.6 605.1,448.6 606.1,448.6 607.2,448.5 608.2,448.5 609.2,448.5 610.3,448.5 611.3,448.5 612.3,448.5 613.4,448.5 614.4,448.5 615.4,448.5 616.4,448.5 617.5,448.5 618.5,448.5 619.5,448.5 620.6,448.6 621.6,448.6 622.6,448.6 623.6,448.6 624.7,448.6 625.7,448.6 626.7,448.6 627.8,448.6 628.8,448.6 629.7,448.6 629.8,448.6 630.9,448.6 631.9,448.6 632.9,448.6 633.9,448.5 635,448.4 636,448.3 637,448 637.9,447.8 638.1,447.7 639.1,446.9 639.2,446 639.1,446 638.1,445.3 637.7,445.2 637,445 636,444.9 635,444.7 633.9,444.7 632.9,444.6 631.9,444.6 630.9,444.6 629.8,444.6 628.8,444.6 627.8,444.6 626.7,444.6 625.7,444.6 624.7,444.6 623.6,444.6 622.6,444.6 621.6,444.6 620.6,444.6 619.5,444.6 618.5,444.6 617.5,444.6 616.4,444.6 615.4,444.6 614.4,444.6 613.3,444.6 612.3,444.6 611.3,444.6 610.3,444.6 609.2,444.6 608.2,444.6 607.2,444.6 606.1,444.5 605.1,444.5 604.1,444.5 603,444.5 602,444.5 601,444.5 600,444.5 598.9,444.5 597.9,444.5 596.9,444.4 595.9,444.3 595.8,444.3 594.8,444.2 593.8,444.1 592.8,443.9 591.7,443.7 590.7,443.5 590.4,443.4 589.7,443.3 588.6,443 587.6,442.8 586.6,442.6 586.1,442.6 585.5,442.5 584.5,442.4 583.5,442.5 582.5,442.5 582.3,442.6 581.4,442.7 580.4,442.9 579.4,443.2 578.4,443.4 578.3,443.5 577.3,443.8 576.3,444.1 575.8,444.3 575.2,444.6 574.2,445.2 573.7,446 573.9,446.9 574.2,447.3 574.6,447.8 575.2,448.2 576,448.6 576.3,448.8 577.3,449.2 578.2,449.5 578.3,449.5 579.4,449.8 580.4,450.1 581.4,450.3 581.7,450.4ZM582.1,431.3 582.5,431.4 583.5,431.6 584.5,431.6 585.5,431.5 586.1,431.3 586.6,431.1 587.5,430.4 587.6,429.8 587.6,429.6 587.6,429.5 586.8,428.7 586.6,428.6 585.5,428.3 584.5,428.2 583.5,428.2 582.5,428.5 581.8,428.7 581.4,429 580.9,429.6 581,430.4 581.4,430.9 582.1,431.3Z"/>
<path fill-rule="evenodd" fill="rgb(255,105,0)" stroke="#000" stroke-opacity="0.7" stroke-width="0.5" d="M581.6,449.5 582.5,449.7 583.5,449.8 584.5,449.8 585.5,449.8 586.6,449.7 587.4,449.5 587.6,449.5 588.6,449.2 589.7,448.8 590.3,448.6 590.7,448.4 591.7,448 592.4,447.8 592.8,447.5 593.8,447 594,446.9 594.6,446 593.8,445.7 592.9,445.2 592.8,445.1 591.7,444.8 590.7,444.4 590.3,444.3 589.7,444.1 588.6,443.8 587.6,443.5 587.2,443.4 586.6,443.3 585.5,443.2 584.5,443.1 583.5,443.1 582.5,443.2 581.4,443.4 580.4,443.7 579.4,444.1 578.7,444.3 578.3,444.5 577.3,445.1 577.1,445.2 576.5,446 576.7,446.9 577.3,447.5 577.6,447.8 578.3,448.2 579.1,448.6 579.4,448.7 580.4,449.1 581.4,449.5 581.6,449.5ZM602.9,446 603,446.1 604.1,446.3 605.1,446.1 605.2,446 605.1,446 604.1,445.9 603,446 602.9,446Z"/>
<path fill-rule="evenodd" fill="rgb(238,0,0)" stroke="#000" stroke-opacity="0.55" stroke-width="0.5" d="M581.9,448.6 582.5,448.8 583.5,449 584.5,449 585.5,449 586.6,448.8 587.1,448.6 587.6,448.5 588.6,448 589.1,447.8 589.7,447.2 590,446.9 590.3,446 589.7,445.3 589.5,445.2 588.6,444.7 587.6,444.3 586.6,444 585.5,443.9 584.5,443.8 583.5,443.8 582.5,444 581.4,444.2 581.2,444.3 580.4,444.7 579.5,445.2 579.4,445.4 578.9,446 579.2,446.9 579.4,447.1 580,447.8 580.4,448 581.4,448.5 581.9,448.6Z"/>
<path fill-rule="evenodd" fill="rgb(128,0,0)" stroke="#000" stroke-opacity="0.4" stroke-width="0.5" d="M582.5,447.8 583.5,448 584.5,448.1 585.5,448 586.3,447.8 586.6,447.7 587.6,447 587.7,446.9 588,446 587.6,445.6 587.1,445.2 586.6,444.9 585.5,444.7 584.5,444.6 583.5,444.6 582.5,444.9 581.7,445.2 581.4,445.5 581,446 581.3,446.9 581.4,447 582.5,447.7 582.5,447.8Z"/>
</g>
</g>
<g fill="none" stroke="#666" stroke-width="0.6">
<path d="M16.5,9.3H149.5V133.6H16.5ZM33.1,133.6v-1.5M33.1,9.3v1.5M16.5,118.1h1.5M149.5,118.1h-1.5M49.8,133.6v-1.5M49.8,9.3v1.5M16.5,102.5h1.5M149.5,102.5h-1.5M66.4,133.6v-1.5M66.4,9.3v1.5M16.5,87h1.5M149.5,87h-1.5M83,133.6v-1.5M83,9.3v1.5M16.5,71.4h1.5M149.5,71.4h-1.5M99.6,133.6v-1.5M99.6,9.3v1.5M16.5,55.9h1.5M149.5,55.9h-1.5M116.2,133.6v-1.5M116.2,9.3v1.5M16.5,40.4h1.5M149.5,40.4h-1.5M132.9,133.6v-1.5M132.9,9.3v1.5M16.5,24.8h1.5M149.5,24.8h-1.5"/>
<path d="M190.4,10.5H331.6V133.6H190.4ZM208.1,133.6v-1.5M208.1,10.5v1.5M190.4,118.2h1.5M331.6,118.2h-1.5M225.7,133.6v-1.5M225.7,10.5v1.5M190.4,102.8h1.5M331.6,102.8h-1.5M243.4,133.6v-1.5M243.4,10.5v1.5M190.4,87.4h1.5M331.6,87.4h-1.5M261,133.6v-1.5M261,10.5v1.5M190.4,72h1.5M331.6,72h-1.5M278.7,133.6v-1.5M278.7,10.5v1.5M190.4,56.7h1.5M331.6,56.7h-1.5M296.3,133.6v-1.5M296.3,10.5v1.5M190.4,41.3h1.5M331.6,41.3h-1.5M314,133.6v-1.5M314,10.5v1.5M190.4,25.9h1.5M331.6,25.9h-1.5"/>
<path d="M363.4,12.1H504.8V137.6H363.4ZM381.1,137.6v-1.5M381.1,12.1v1.5M363.4,121.9h1.5M504.8,121.9h-1.5M398.8,137.6v-1.5M398.8,12.1v1.5M363.4,106.2h1.5M504.8,106.2h-1.5M416.4,137.6v-1.5M416.4,12.1v1.5M363.4,90.5h1.5M504.8,90.5h-1.5M434.1,137.6v-1.5M434.1,12.1v1.5M363.4,74.8h1.5M504.8,74.8h-1.5M451.8,137.6v-1.5M451.8,12.1v1.5M363.4,59.2h1.5M504.8,59.2h-1.5M469.4,137.6v-1.5M469.4,12.1v1.5M363.4,43.5h1.5M504.8,43.5h-1.5M487.1,137.6v-1.5M487.1,12.1v1.5M363.4,27.8h1.5M504.8,27.8h-1.5"/>
<path d="M536,11.9H678.6V137.6H536ZM553.8,137.6v-1.5M553.8,11.9v1.5M536,121.9h1.5M678.6,121.9h-1.5M571.6,137.6v-1.5M571.6,11.9v1.5M536,106.2h1.5M678.6,106.2h-1.5M589.4,137.6v-1.5M589.4,11.9v1.5M536,90.5h1.5M678.6,90.5h-1.5M607.3,137.6v-1.5M607.3,11.9v1.5M536,74.8h1.5M678.6,74.8h-1.5M625.1,137.6v-1.5M625.1,11.9v1.5M536,59h1.5M678.6,59h-1.5M642.9,137.6v-1.5M642.9,11.9v1.5M536,43.3h1.5M678.6,43.3h-1.5M660.8,137.6v-1.5M660.8,11.9v1.5M536,27.6h1.5M678.6,27.6h-1.5"/>
<path d="M16.5,163.6H147.7V296.5H16.5ZM32.9,296.5v-1.5M32.9,163.6v1.5M16.5,279.9h1.5M147.7,279.9h-1.5M49.3,296.5v-1.5M49.3,163.6v1.5M16.5,263.3h1.5M147.7,263.3h-1.5M65.7,296.5v-1.5M65.7,163.6v1.5M16.5,246.7h1.5M147.7,246.7h-1.5M82.1,296.5v-1.5M82.1,163.6v1.5M16.5,230.1h1.5M147.7,230.1h-1.5M98.5,296.5v-1.5M98.5,163.6v1.5M16.5,213.4h1.5M147.7,213.4h-1.5M114.9,296.5v-1.5M114.9,163.6v1.5M16.5,196.8h1.5M147.7,196.8h-1.5M131.3,296.5v-1.5M131.3,163.6v1.5M16.5,180.2h1.5M147.7,180.2h-1.5"/>
<path d="M190.8,167.5H328.5V296.9H190.8ZM208,296.9v-1.5M208,167.5v1.5M190.8,280.7h1.5M328.5,280.7h-1.5M225.2,296.9v-1.5M225.2,167.5v1.5M190.8,264.5h1.5M328.5,264.5h-1.5M242.4,296.9v-1.5M242.4,167.5v1.5M190.8,248.4h1.5M328.5,248.4h-1.5M259.6,296.9v-1.5M259.6,167.5v1.5M190.8,232.2h1.5M328.5,232.2h-1.5M276.9,296.9v-1.5M276.9,167.5v1.5M190.8,216h1.5M328.5,216h-1.5M294.1,296.9v-1.5M294.1,167.5v1.5M190.8,199.8h1.5M328.5,199.8h-1.5M311.3,296.9v-1.5M311.3,167.5v1.5M190.8,183.7h1.5M328.5,183.7h-1.5"/>
<path d="M362.9,170.8H500.5V296.3H362.9ZM380.1,296.3v-1.5M380.1,170.8v1.5M362.9,280.6h1.5M500.5,280.6h-1.5M397.3,296.3v-1.5M397.3,170.8v1.5M362.9,264.9h1.5M500.5,264.9h-1.5M414.5,296.3v-1.5M414.5,170.8v1.5M362.9,249.2h1.5M500.5,249.2h-1.5M431.7,296.3v-1.5M431.7,170.8v1.5M362.9,233.6h1.5M500.5,233.6h-1.5M448.9,296.3v-1.5M448.9,170.8v1.5M362.9,217.9h1.5M500.5,217.9h-1.5M466.1,296.3v-1.5M466.1,170.8v1.5M362.9,202.2h1.5M500.5,202.2h-1.5M483.3,296.3v-1.5M483.3,170.8v1.5M362.9,186.5h1.5M500.5,186.5h-1.5"/>
<path d="M536.1,166.2H680.6V299.1H536.1ZM554.2,299.1v-1.5M554.2,166.2v1.5M536.1,282.5h1.5M680.6,282.5h-1.5M572.2,299.1v-1.5M572.2,166.2v1.5M536.1,265.9h1.5M680.6,265.9h-1.5M590.3,299.1v-1.5M590.3,166.2v1.5M536.1,249.3h1.5M680.6,249.3h-1.5M608.4,299.1v-1.5M608.4,166.2v1.5M536.1,232.7h1.5M680.6,232.7h-1.5M626.4,299.1v-1.5M626.4,166.2v1.5M536.1,216h1.5M680.6,216h-1.5M644.5,299.1v-1.5M644.5,166.2v1.5M536.1,199.4h1.5M680.6,199.4h-1.5M662.5,299.1v-1.5M662.5,166.2v1.5M536.1,182.8h1.5M680.6,182.8h-1.5"/>
<path d="M20.3,326.5H157.8V451.9H20.3ZM37.5,451.9v-1.5M37.5,326.5v1.5M20.3,436.2h1.5M157.8,436.2h-1.5M54.7,451.9v-1.5M54.7,326.5v1.5M20.3,420.5h1.5M157.8,420.5h-1.5M71.9,451.9v-1.5M71.9,326.5v1.5M20.3,404.9h1.5M157.8,404.9h-1.5M89,451.9v-1.5M89,326.5v1.5M20.3,389.2h1.5M157.8,389.2h-1.5M106.2,451.9v-1.5M106.2,326.5v1.5M20.3,373.5h1.5M157.8,373.5h-1.5M123.4,451.9v-1.5M123.4,326.5v1.5M20.3,357.9h1.5M157.8,357.9h-1.5M140.6,451.9v-1.5M140.6,326.5v1.5M20.3,342.2h1.5M157.8,342.2h-1.5"/>
<path d="M191.3,330.6H331.8V451.9H191.3ZM208.9,451.9v-1.5M208.9,330.6v1.5M191.3,436.7h1.5M331.8,436.7h-1.5M226.4,451.9v-1.5M226.4,330.6v1.5M191.3,421.6h1.5M331.8,421.6h-1.5M244,451.9v-1.5M244,330.6v1.5M191.3,406.4h1.5M331.8,406.4h-1.5M261.6,451.9v-1.5M261.6,330.6v1.5M191.3,391.2h1.5M331.8,391.2h-1.5M279.1,451.9v-1.5M279.1,330.6v1.5M191.3,376.1h1.5M331.8,376.1h-1.5M296.7,451.9v-1.5M296.7,330.6v1.5M191.3,360.9h1.5M331.8,360.9h-1.5M314.2,451.9v-1.5M314.2,330.6v1.5M191.3,345.8h1.5M331.8,345.8h-1.5"/>
<path d="M365,329.4H505.1V456.1H365ZM382.5,456.1v-1.5M382.5,329.4v1.5M365,440.3h1.5M505.1,440.3h-1.5M400,456.1v-1.5M400,329.4v1.5M365,424.4h1.5M505.1,424.4h-1.5M417.5,456.1v-1.5M417.5,329.4v1.5M365,408.6h1.5M505.1,408.6h-1.5M435.1,456.1v-1.5M435.1,329.4v1.5M365,392.8h1.5M505.1,392.8h-1.5M452.6,456.1v-1.5M452.6,329.4v1.5M365,376.9h1.5M505.1,376.9h-1.5M470.1,456.1v-1.5M470.1,329.4v1.5M365,361.1h1.5M505.1,361.1h-1.5M487.6,456.1v-1.5M487.6,329.4v1.5M365,345.2h1.5M505.1,345.2h-1.5"/>
<path d="M536.1,330.8H680.3V452.1H536.1ZM554.1,452.1v-1.5M554.1,330.8v1.5M536.1,436.9h1.5M680.3,436.9h-1.5M572.1,452.1v-1.5M572.1,330.8v1.5M536.1,421.8h1.5M680.3,421.8h-1.5M590.2,452.1v-1.5M590.2,330.8v1.5M536.1,406.6h1.5M680.3,406.6h-1.5M608.2,452.1v-1.5M608.2,330.8v1.5M536.1,391.5h1.5M680.3,391.5h-1.5M626.2,452.1v-1.5M626.2,330.8v1.5M536.1,376.3h1.5M680.3,376.3h-1.5M644.2,452.1v-1.5M644.2,330.8v1.5M536.1,361.1h1.5M680.3,361.1h-1.5M662.3,452.1v-1.5M662.3,330.8v1.5M536.1,346h1.5M680.3,346h-1.5"/>
</g>
<g filter="url(#bt)" fill="#1a1a1a" stroke="#1a1a1a" stroke-width="0.08">
<g font-size="4.9"><text x="16.5" y="140.2" text-anchor="middle" textLength="6.1" lengthAdjust="spacingAndGlyphs">200</text><text x="14.5" y="135.8" text-anchor="end" textLength="6.1" lengthAdjust="spacingAndGlyphs">200</text><text x="33.1" y="140.2" text-anchor="middle" textLength="6.1" lengthAdjust="spacingAndGlyphs">250</text><text x="14.5" y="120.2" text-anchor="end" textLength="6.1" lengthAdjust="spacingAndGlyphs">250</text><text x="49.8" y="140.2" text-anchor="middle" textLength="6.1" lengthAdjust="spacingAndGlyphs">300</text><text x="14.5" y="104.7" text-anchor="end" textLength="6.1" lengthAdjust="spacingAndGlyphs">300</text><text x="66.4" y="140.2" text-anchor="middle" textLength="6.1" lengthAdjust="spacingAndGlyphs">350</text><text x="14.5" y="89.1" text-anchor="end" textLength="6.1" lengthAdjust="spacingAndGlyphs">350</text><text x="83" y="140.2" text-anchor="middle" textLength="6.1" lengthAdjust="spacingAndGlyphs">400</text><text x="14.5" y="73.6" text-anchor="end" textLength="6.1" lengthAdjust="spacingAndGlyphs">400</text><text x="99.6" y="140.2" text-anchor="middle" textLength="6.1" lengthAdjust="spacingAndGlyphs">450</text><text x="14.5" y="58.1" text-anchor="end" textLength="6.1" lengthAdjust="spacingAndGlyphs">450</text><text x="116.2" y="140.2" text-anchor="middle" textLength="6.1" lengthAdjust="spacingAndGlyphs">500</text><text x="14.5" y="42.5" text-anchor="end" textLength="6.1" lengthAdjust="spacingAndGlyphs">500</text><text x="132.9" y="140.2" text-anchor="middle" textLength="6.1" lengthAdjust="spacingAndGlyphs">550</text><text x="14.5" y="27" text-anchor="end" textLength="6.1" lengthAdjust="spacingAndGlyphs">550</text><text x="149.5" y="140.2" text-anchor="middle" textLength="6.1" lengthAdjust="spacingAndGlyphs">600</text><text x="14.5" y="11.4" text-anchor="end" textLength="6.1" lengthAdjust="spacingAndGlyphs">600</text></g>
<text x="83" y="145.6" text-anchor="middle" font-size="4.9" textLength="17" lengthAdjust="spacingAndGlyphs">Em. (nm)</text>
<text transform="translate(6,71.5) rotate(-90)" text-anchor="middle" font-size="4.9" textLength="18" lengthAdjust="spacingAndGlyphs">Ex. (nm)</text>
<text x="83" y="5" text-anchor="middle" font-size="4.9" textLength="24.6" lengthAdjust="spacingAndGlyphs">Component 1</text>
<g font-size="4.9"><text x="190.4" y="140.2" text-anchor="middle" textLength="6.1" lengthAdjust="spacingAndGlyphs">200</text><text x="188.4" y="135.8" text-anchor="end" textLength="6.1" lengthAdjust="spacingAndGlyphs">200</text><text x="208.1" y="140.2" text-anchor="middle" textLength="6.1" lengthAdjust="spacingAndGlyphs">250</text><text x="188.4" y="120.4" text-anchor="end" textLength="6.1" lengthAdjust="spacingAndGlyphs">250</text><text x="225.7" y="140.2" text-anchor="middle" textLength="6.1" lengthAdjust="spacingAndGlyphs">300</text><text x="188.4" y="105" text-anchor="end" textLength="6.1" lengthAdjust="spacingAndGlyphs">300</text><text x="243.4" y="140.2" text-anchor="middle" textLength="6.1" lengthAdjust="spacingAndGlyphs">350</text><text x="188.4" y="89.6" text-anchor="end" textLength="6.1" lengthAdjust="spacingAndGlyphs">350</text><text x="261" y="140.2" text-anchor="middle" textLength="6.1" lengthAdjust="spacingAndGlyphs">400</text><text x="188.4" y="74.2" text-anchor="end" textLength="6.1" lengthAdjust="spacingAndGlyphs">400</text><text x="278.7" y="140.2" text-anchor="middle" textLength="6.1" lengthAdjust="spacingAndGlyphs">450</text><text x="188.4" y="58.8" text-anchor="end" textLength="6.1" lengthAdjust="spacingAndGlyphs">450</text><text x="296.3" y="140.2" text-anchor="middle" textLength="6.1" lengthAdjust="spacingAndGlyphs">500</text><text x="188.4" y="43.4" text-anchor="end" textLength="6.1" lengthAdjust="spacingAndGlyphs">500</text><text x="314" y="140.2" text-anchor="middle" textLength="6.1" lengthAdjust="spacingAndGlyphs">550</text><text x="188.4" y="28" text-anchor="end" textLength="6.1" lengthAdjust="spacingAndGlyphs">550</text><text x="331.6" y="140.2" text-anchor="middle" textLength="6.1" lengthAdjust="spacingAndGlyphs">600</text><text x="188.4" y="12.7" text-anchor="end" textLength="6.1" lengthAdjust="spacingAndGlyphs">600</text></g>
<text x="261" y="145.6" text-anchor="middle" font-size="4.9" textLength="17" lengthAdjust="spacingAndGlyphs">Em. (nm)</text>
<text transform="translate(179.9,72) rotate(-90)" text-anchor="middle" font-size="4.9" textLength="18" lengthAdjust="spacingAndGlyphs">Ex. (nm)</text>
<text x="261" y="6.2" text-anchor="middle" font-size="4.9" textLength="24.6" lengthAdjust="spacingAndGlyphs">Component 1</text>
<g font-size="4.9"><text x="363.4" y="144.2" text-anchor="middle" textLength="6.1" lengthAdjust="spacingAndGlyphs">200</text><text x="361.4" y="139.8" text-anchor="end" textLength="6.1" lengthAdjust="spacingAndGlyphs">200</text><text x="381.1" y="144.2" text-anchor="middle" textLength="6.1" lengthAdjust="spacingAndGlyphs">250</text><text x="361.4" y="124.1" text-anchor="end" textLength="6.1" lengthAdjust="spacingAndGlyphs">250</text><text x="398.8" y="144.2" text-anchor="middle" textLength="6.1" lengthAdjust="spacingAndGlyphs">300</text><text x="361.4" y="108.4" text-anchor="end" textLength="6.1" lengthAdjust="spacingAndGlyphs">300</text><text x="416.4" y="144.2" text-anchor="middle" textLength="6.1" lengthAdjust="spacingAndGlyphs">350</text><text x="361.4" y="92.7" text-anchor="end" textLength="6.1" lengthAdjust="spacingAndGlyphs">350</text><text x="434.1" y="144.2" text-anchor="middle" textLength="6.1" lengthAdjust="spacingAndGlyphs">400</text><text x="361.4" y="77" text-anchor="end" textLength="6.1" lengthAdjust="spacingAndGlyphs">400</text><text x="451.8" y="144.2" text-anchor="middle" textLength="6.1" lengthAdjust="spacingAndGlyphs">450</text><text x="361.4" y="61.3" text-anchor="end" textLength="6.1" lengthAdjust="spacingAndGlyphs">450</text><text x="469.4" y="144.2" text-anchor="middle" textLength="6.1" lengthAdjust="spacingAndGlyphs">500</text><text x="361.4" y="45.6" text-anchor="end" textLength="6.1" lengthAdjust="spacingAndGlyphs">500</text><text x="487.1" y="144.2" text-anchor="middle" textLength="6.1" lengthAdjust="spacingAndGlyphs">550</text><text x="361.4" y="29.9" text-anchor="end" textLength="6.1" lengthAdjust="spacingAndGlyphs">550</text><text x="504.8" y="144.2" text-anchor="middle" textLength="6.1" lengthAdjust="spacingAndGlyphs">600</text><text x="361.4" y="14.2" text-anchor="end" textLength="6.1" lengthAdjust="spacingAndGlyphs">600</text></g>
<text x="434.1" y="149.6" text-anchor="middle" font-size="4.9" textLength="17" lengthAdjust="spacingAndGlyphs">Em. (nm)</text>
<text transform="translate(352.9,74.8) rotate(-90)" text-anchor="middle" font-size="4.9" textLength="18" lengthAdjust="spacingAndGlyphs">Ex. (nm)</text>
<text x="434.1" y="7.8" text-anchor="middle" font-size="4.9" textLength="24.6" lengthAdjust="spacingAndGlyphs">Component 1</text>
<g font-size="4.9"><text x="536" y="144.2" text-anchor="middle" textLength="6.1" lengthAdjust="spacingAndGlyphs">200</text><text x="534" y="139.8" text-anchor="end" textLength="6.1" lengthAdjust="spacingAndGlyphs">200</text><text x="553.8" y="144.2" text-anchor="middle" textLength="6.1" lengthAdjust="spacingAndGlyphs">250</text><text x="534" y="124" text-anchor="end" textLength="6.1" lengthAdjust="spacingAndGlyphs">250</text><text x="571.6" y="144.2" text-anchor="middle" textLength="6.1" lengthAdjust="spacingAndGlyphs">300</text><text x="534" y="108.3" text-anchor="end" textLength="6.1" lengthAdjust="spacingAndGlyphs">300</text><text x="589.4" y="144.2" text-anchor="middle" textLength="6.1" lengthAdjust="spacingAndGlyphs">350</text><text x="534" y="92.6" text-anchor="end" textLength="6.1" lengthAdjust="spacingAndGlyphs">350</text><text x="607.3" y="144.2" text-anchor="middle" textLength="6.1" lengthAdjust="spacingAndGlyphs">400</text><text x="534" y="76.9" text-anchor="end" textLength="6.1" lengthAdjust="spacingAndGlyphs">400</text><text x="625.1" y="144.2" text-anchor="middle" textLength="6.1" lengthAdjust="spacingAndGlyphs">450</text><text x="534" y="61.2" text-anchor="end" textLength="6.1" lengthAdjust="spacingAndGlyphs">450</text><text x="642.9" y="144.2" text-anchor="middle" textLength="6.1" lengthAdjust="spacingAndGlyphs">500</text><text x="534" y="45.5" text-anchor="end" textLength="6.1" lengthAdjust="spacingAndGlyphs">500</text><text x="660.8" y="144.2" text-anchor="middle" textLength="6.1" lengthAdjust="spacingAndGlyphs">550</text><text x="534" y="29.8" text-anchor="end" textLength="6.1" lengthAdjust="spacingAndGlyphs">550</text><text x="678.6" y="144.2" text-anchor="middle" textLength="6.1" lengthAdjust="spacingAndGlyphs">600</text><text x="534" y="14.1" text-anchor="end" textLength="6.1" lengthAdjust="spacingAndGlyphs">600</text></g>
<text x="607.3" y="149.6" text-anchor="middle" font-size="4.9" textLength="17" lengthAdjust="spacingAndGlyphs">Em. (nm)</text>
<text transform="translate(525.5,74.8) rotate(-90)" text-anchor="middle" font-size="4.9" textLength="18" lengthAdjust="spacingAndGlyphs">Ex. (nm)</text>
<text x="607.3" y="7.6" text-anchor="middle" font-size="4.9" textLength="24.6" lengthAdjust="spacingAndGlyphs">Component 1</text>
<g font-size="4.9"><text x="16.5" y="303.1" text-anchor="middle" textLength="6.1" lengthAdjust="spacingAndGlyphs">200</text><text x="14.5" y="298.6" text-anchor="end" textLength="6.1" lengthAdjust="spacingAndGlyphs">200</text><text x="32.9" y="303.1" text-anchor="middle" textLength="6.1" lengthAdjust="spacingAndGlyphs">250</text><text x="14.5" y="282" text-anchor="end" textLength="6.1" lengthAdjust="spacingAndGlyphs">250</text><text x="49.3" y="303.1" text-anchor="middle" textLength="6.1" lengthAdjust="spacingAndGlyphs">300</text><text x="14.5" y="265.4" text-anchor="end" textLength="6.1" lengthAdjust="spacingAndGlyphs">300</text><text x="65.7" y="303.1" text-anchor="middle" textLength="6.1" lengthAdjust="spacingAndGlyphs">350</text><text x="14.5" y="248.8" text-anchor="end" textLength="6.1" lengthAdjust="spacingAndGlyphs">350</text><text x="82.1" y="303.1" text-anchor="middle" textLength="6.1" lengthAdjust="spacingAndGlyphs">400</text><text x="14.5" y="232.2" text-anchor="end" textLength="6.1" lengthAdjust="spacingAndGlyphs">400</text><text x="98.5" y="303.1" text-anchor="middle" textLength="6.1" lengthAdjust="spacingAndGlyphs">450</text><text x="14.5" y="215.6" text-anchor="end" textLength="6.1" lengthAdjust="spacingAndGlyphs">450</text><text x="114.9" y="303.1" text-anchor="middle" textLength="6.1" lengthAdjust="spacingAndGlyphs">500</text><text x="14.5" y="199" text-anchor="end" textLength="6.1" lengthAdjust="spacingAndGlyphs">500</text><text x="131.3" y="303.1" text-anchor="middle" textLength="6.1" lengthAdjust="spacingAndGlyphs">550</text><text x="14.5" y="182.4" text-anchor="end" textLength="6.1" lengthAdjust="spacingAndGlyphs">550</text><text x="147.7" y="303.1" text-anchor="middle" textLength="6.1" lengthAdjust="spacingAndGlyphs">600</text><text x="14.5" y="165.8" text-anchor="end" textLength="6.1" lengthAdjust="spacingAndGlyphs">600</text></g>
<text x="82.1" y="308.5" text-anchor="middle" font-size="4.9" textLength="17" lengthAdjust="spacingAndGlyphs">Em. (nm)</text>
<text transform="translate(6,230.1) rotate(-90)" text-anchor="middle" font-size="4.9" textLength="18" lengthAdjust="spacingAndGlyphs">Ex. (nm)</text>
<text x="82.1" y="159.3" text-anchor="middle" font-size="4.9" textLength="24.6" lengthAdjust="spacingAndGlyphs">Component 2</text>
<g font-size="4.9"><text x="190.8" y="303.5" text-anchor="middle" textLength="6.1" lengthAdjust="spacingAndGlyphs">200</text><text x="188.8" y="299" text-anchor="end" textLength="6.1" lengthAdjust="spacingAndGlyphs">200</text><text x="208" y="303.5" text-anchor="middle" textLength="6.1" lengthAdjust="spacingAndGlyphs">250</text><text x="188.8" y="282.9" text-anchor="end" textLength="6.1" lengthAdjust="spacingAndGlyphs">250</text><text x="225.2" y="303.5" text-anchor="middle" textLength="6.1" lengthAdjust="spacingAndGlyphs">300</text><text x="188.8" y="266.7" text-anchor="end" textLength="6.1" lengthAdjust="spacingAndGlyphs">300</text><text x="242.4" y="303.5" text-anchor="middle" textLength="6.1" lengthAdjust="spacingAndGlyphs">350</text><text x="188.8" y="250.5" text-anchor="end" textLength="6.1" lengthAdjust="spacingAndGlyphs">350</text><text x="259.6" y="303.5" text-anchor="middle" textLength="6.1" lengthAdjust="spacingAndGlyphs">400</text><text x="188.8" y="234.3" text-anchor="end" textLength="6.1" lengthAdjust="spacingAndGlyphs">400</text><text x="276.9" y="303.5" text-anchor="middle" textLength="6.1" lengthAdjust="spacingAndGlyphs">450</text><text x="188.8" y="218.2" text-anchor="end" textLength="6.1" lengthAdjust="spacingAndGlyphs">450</text><text x="294.1" y="303.5" text-anchor="middle" textLength="6.1" lengthAdjust="spacingAndGlyphs">500</text><text x="188.8" y="202" text-anchor="end" textLength="6.1" lengthAdjust="spacingAndGlyphs">500</text><text x="311.3" y="303.5" text-anchor="middle" textLength="6.1" lengthAdjust="spacingAndGlyphs">550</text><text x="188.8" y="185.8" text-anchor="end" textLength="6.1" lengthAdjust="spacingAndGlyphs">550</text><text x="328.5" y="303.5" text-anchor="middle" textLength="6.1" lengthAdjust="spacingAndGlyphs">600</text><text x="188.8" y="169.7" text-anchor="end" textLength="6.1" lengthAdjust="spacingAndGlyphs">600</text></g>
<text x="259.6" y="308.9" text-anchor="middle" font-size="4.9" textLength="17" lengthAdjust="spacingAndGlyphs">Em. (nm)</text>
<text transform="translate(180.3,232.2) rotate(-90)" text-anchor="middle" font-size="4.9" textLength="18" lengthAdjust="spacingAndGlyphs">Ex. (nm)</text>
<text x="259.6" y="163.2" text-anchor="middle" font-size="4.9" textLength="24.6" lengthAdjust="spacingAndGlyphs">Component 2</text>
<g font-size="4.9"><text x="362.9" y="302.9" text-anchor="middle" textLength="6.1" lengthAdjust="spacingAndGlyphs">200</text><text x="360.9" y="298.4" text-anchor="end" textLength="6.1" lengthAdjust="spacingAndGlyphs">200</text><text x="380.1" y="302.9" text-anchor="middle" textLength="6.1" lengthAdjust="spacingAndGlyphs">250</text><text x="360.9" y="282.8" text-anchor="end" textLength="6.1" lengthAdjust="spacingAndGlyphs">250</text><text x="397.3" y="302.9" text-anchor="middle" textLength="6.1" lengthAdjust="spacingAndGlyphs">300</text><text x="360.9" y="267.1" text-anchor="end" textLength="6.1" lengthAdjust="spacingAndGlyphs">300</text><text x="414.5" y="302.9" text-anchor="middle" textLength="6.1" lengthAdjust="spacingAndGlyphs">350</text><text x="360.9" y="251.4" text-anchor="end" textLength="6.1" lengthAdjust="spacingAndGlyphs">350</text><text x="431.7" y="302.9" text-anchor="middle" textLength="6.1" lengthAdjust="spacingAndGlyphs">400</text><text x="360.9" y="235.7" text-anchor="end" textLength="6.1" lengthAdjust="spacingAndGlyphs">400</text><text x="448.9" y="302.9" text-anchor="middle" textLength="6.1" lengthAdjust="spacingAndGlyphs">450</text><text x="360.9" y="220" text-anchor="end" textLength="6.1" lengthAdjust="spacingAndGlyphs">450</text><text x="466.1" y="302.9" text-anchor="middle" textLength="6.1" lengthAdjust="spacingAndGlyphs">500</text><text x="360.9" y="204.3" text-anchor="end" textLength="6.1" lengthAdjust="spacingAndGlyphs">500</text><text x="483.3" y="302.9" text-anchor="middle" textLength="6.1" lengthAdjust="spacingAndGlyphs">550</text><text x="360.9" y="188.6" text-anchor="end" textLength="6.1" lengthAdjust="spacingAndGlyphs">550</text><text x="500.5" y="302.9" text-anchor="middle" textLength="6.1" lengthAdjust="spacingAndGlyphs">600</text><text x="360.9" y="173" text-anchor="end" textLength="6.1" lengthAdjust="spacingAndGlyphs">600</text></g>
<text x="431.7" y="308.3" text-anchor="middle" font-size="4.9" textLength="17" lengthAdjust="spacingAndGlyphs">Em. (nm)</text>
<text transform="translate(352.4,233.6) rotate(-90)" text-anchor="middle" font-size="4.9" textLength="18" lengthAdjust="spacingAndGlyphs">Ex. (nm)</text>
<text x="431.7" y="166.5" text-anchor="middle" font-size="4.9" textLength="24.6" lengthAdjust="spacingAndGlyphs">Component 2</text>
<g font-size="4.9"><text x="536.1" y="305.7" text-anchor="middle" textLength="6.1" lengthAdjust="spacingAndGlyphs">200</text><text x="534.1" y="301.2" text-anchor="end" textLength="6.1" lengthAdjust="spacingAndGlyphs">200</text><text x="554.2" y="305.7" text-anchor="middle" textLength="6.1" lengthAdjust="spacingAndGlyphs">250</text><text x="534.1" y="284.6" text-anchor="end" textLength="6.1" lengthAdjust="spacingAndGlyphs">250</text><text x="572.2" y="305.7" text-anchor="middle" textLength="6.1" lengthAdjust="spacingAndGlyphs">300</text><text x="534.1" y="268" text-anchor="end" textLength="6.1" lengthAdjust="spacingAndGlyphs">300</text><text x="590.3" y="305.7" text-anchor="middle" textLength="6.1" lengthAdjust="spacingAndGlyphs">350</text><text x="534.1" y="251.4" text-anchor="end" textLength="6.1" lengthAdjust="spacingAndGlyphs">350</text><text x="608.4" y="305.7" text-anchor="middle" textLength="6.1" lengthAdjust="spacingAndGlyphs">400</text><text x="534.1" y="234.8" text-anchor="end" textLength="6.1" lengthAdjust="spacingAndGlyphs">400</text><text x="626.4" y="305.7" text-anchor="middle" textLength="6.1" lengthAdjust="spacingAndGlyphs">450</text><text x="534.1" y="218.2" text-anchor="end" textLength="6.1" lengthAdjust="spacingAndGlyphs">450</text><text x="644.5" y="305.7" text-anchor="middle" textLength="6.1" lengthAdjust="spacingAndGlyphs">500</text><text x="534.1" y="201.6" text-anchor="end" textLength="6.1" lengthAdjust="spacingAndGlyphs">500</text><text x="662.5" y="305.7" text-anchor="middle" textLength="6.1" lengthAdjust="spacingAndGlyphs">550</text><text x="534.1" y="185" text-anchor="end" textLength="6.1" lengthAdjust="spacingAndGlyphs">550</text><text x="680.6" y="305.7" text-anchor="middle" textLength="6.1" lengthAdjust="spacingAndGlyphs">600</text><text x="534.1" y="168.3" text-anchor="end" textLength="6.1" lengthAdjust="spacingAndGlyphs">600</text></g>
<text x="608.4" y="311.1" text-anchor="middle" font-size="4.9" textLength="17" lengthAdjust="spacingAndGlyphs">Em. (nm)</text>
<text transform="translate(525.6,232.7) rotate(-90)" text-anchor="middle" font-size="4.9" textLength="18" lengthAdjust="spacingAndGlyphs">Ex. (nm)</text>
<text x="608.4" y="161.9" text-anchor="middle" font-size="4.9" textLength="24.6" lengthAdjust="spacingAndGlyphs">Component 2</text>
<g font-size="4.9"><text x="20.3" y="458.5" text-anchor="middle" textLength="6.1" lengthAdjust="spacingAndGlyphs">200</text><text x="18.3" y="454" text-anchor="end" textLength="6.1" lengthAdjust="spacingAndGlyphs">200</text><text x="37.5" y="458.5" text-anchor="middle" textLength="6.1" lengthAdjust="spacingAndGlyphs">250</text><text x="18.3" y="438.4" text-anchor="end" textLength="6.1" lengthAdjust="spacingAndGlyphs">250</text><text x="54.7" y="458.5" text-anchor="middle" textLength="6.1" lengthAdjust="spacingAndGlyphs">300</text><text x="18.3" y="422.7" text-anchor="end" textLength="6.1" lengthAdjust="spacingAndGlyphs">300</text><text x="71.9" y="458.5" text-anchor="middle" textLength="6.1" lengthAdjust="spacingAndGlyphs">350</text><text x="18.3" y="407" text-anchor="end" textLength="6.1" lengthAdjust="spacingAndGlyphs">350</text><text x="89" y="458.5" text-anchor="middle" textLength="6.1" lengthAdjust="spacingAndGlyphs">400</text><text x="18.3" y="391.3" text-anchor="end" textLength="6.1" lengthAdjust="spacingAndGlyphs">400</text><text x="106.2" y="458.5" text-anchor="middle" textLength="6.1" lengthAdjust="spacingAndGlyphs">450</text><text x="18.3" y="375.7" text-anchor="end" textLength="6.1" lengthAdjust="spacingAndGlyphs">450</text><text x="123.4" y="458.5" text-anchor="middle" textLength="6.1" lengthAdjust="spacingAndGlyphs">500</text><text x="18.3" y="360" text-anchor="end" textLength="6.1" lengthAdjust="spacingAndGlyphs">500</text><text x="140.6" y="458.5" text-anchor="middle" textLength="6.1" lengthAdjust="spacingAndGlyphs">550</text><text x="18.3" y="344.3" text-anchor="end" textLength="6.1" lengthAdjust="spacingAndGlyphs">550</text><text x="157.8" y="458.5" text-anchor="middle" textLength="6.1" lengthAdjust="spacingAndGlyphs">600</text><text x="18.3" y="328.6" text-anchor="end" textLength="6.1" lengthAdjust="spacingAndGlyphs">600</text></g>
<text x="89.1" y="463.9" text-anchor="middle" font-size="4.9" textLength="17" lengthAdjust="spacingAndGlyphs">Em. (nm)</text>
<text transform="translate(9.8,389.2) rotate(-90)" text-anchor="middle" font-size="4.9" textLength="18" lengthAdjust="spacingAndGlyphs">Ex. (nm)</text>
<text x="89.1" y="322.2" text-anchor="middle" font-size="4.9" textLength="24.6" lengthAdjust="spacingAndGlyphs">Component 3</text>
<g font-size="4.9"><text x="191.3" y="458.5" text-anchor="middle" textLength="6.1" lengthAdjust="spacingAndGlyphs">200</text><text x="189.3" y="454" text-anchor="end" textLength="6.1" lengthAdjust="spacingAndGlyphs">200</text><text x="208.9" y="458.5" text-anchor="middle" textLength="6.1" lengthAdjust="spacingAndGlyphs">250</text><text x="189.3" y="438.9" text-anchor="end" textLength="6.1" lengthAdjust="spacingAndGlyphs">250</text><text x="226.4" y="458.5" text-anchor="middle" textLength="6.1" lengthAdjust="spacingAndGlyphs">300</text><text x="189.3" y="423.7" text-anchor="end" textLength="6.1" lengthAdjust="spacingAndGlyphs">300</text><text x="244" y="458.5" text-anchor="middle" textLength="6.1" lengthAdjust="spacingAndGlyphs">350</text><text x="189.3" y="408.6" text-anchor="end" textLength="6.1" lengthAdjust="spacingAndGlyphs">350</text><text x="261.6" y="458.5" text-anchor="middle" textLength="6.1" lengthAdjust="spacingAndGlyphs">400</text><text x="189.3" y="393.4" text-anchor="end" textLength="6.1" lengthAdjust="spacingAndGlyphs">400</text><text x="279.1" y="458.5" text-anchor="middle" textLength="6.1" lengthAdjust="spacingAndGlyphs">450</text><text x="189.3" y="378.2" text-anchor="end" textLength="6.1" lengthAdjust="spacingAndGlyphs">450</text><text x="296.7" y="458.5" text-anchor="middle" textLength="6.1" lengthAdjust="spacingAndGlyphs">500</text><text x="189.3" y="363.1" text-anchor="end" textLength="6.1" lengthAdjust="spacingAndGlyphs">500</text><text x="314.2" y="458.5" text-anchor="middle" textLength="6.1" lengthAdjust="spacingAndGlyphs">550</text><text x="189.3" y="347.9" text-anchor="end" textLength="6.1" lengthAdjust="spacingAndGlyphs">550</text><text x="331.8" y="458.5" text-anchor="middle" textLength="6.1" lengthAdjust="spacingAndGlyphs">600</text><text x="189.3" y="332.8" text-anchor="end" textLength="6.1" lengthAdjust="spacingAndGlyphs">600</text></g>
<text x="261.6" y="463.9" text-anchor="middle" font-size="4.9" textLength="17" lengthAdjust="spacingAndGlyphs">Em. (nm)</text>
<text transform="translate(180.8,391.2) rotate(-90)" text-anchor="middle" font-size="4.9" textLength="18" lengthAdjust="spacingAndGlyphs">Ex. (nm)</text>
<text x="261.6" y="326.3" text-anchor="middle" font-size="4.9" textLength="24.6" lengthAdjust="spacingAndGlyphs">Component 3</text>
<g font-size="4.9"><text x="365" y="462.7" text-anchor="middle" textLength="6.1" lengthAdjust="spacingAndGlyphs">200</text><text x="363" y="458.2" text-anchor="end" textLength="6.1" lengthAdjust="spacingAndGlyphs">200</text><text x="382.5" y="462.7" text-anchor="middle" textLength="6.1" lengthAdjust="spacingAndGlyphs">250</text><text x="363" y="442.4" text-anchor="end" textLength="6.1" lengthAdjust="spacingAndGlyphs">250</text><text x="400" y="462.7" text-anchor="middle" textLength="6.1" lengthAdjust="spacingAndGlyphs">300</text><text x="363" y="426.6" text-anchor="end" textLength="6.1" lengthAdjust="spacingAndGlyphs">300</text><text x="417.5" y="462.7" text-anchor="middle" textLength="6.1" lengthAdjust="spacingAndGlyphs">350</text><text x="363" y="410.7" text-anchor="end" textLength="6.1" lengthAdjust="spacingAndGlyphs">350</text><text x="435.1" y="462.7" text-anchor="middle" textLength="6.1" lengthAdjust="spacingAndGlyphs">400</text><text x="363" y="394.9" text-anchor="end" textLength="6.1" lengthAdjust="spacingAndGlyphs">400</text><text x="452.6" y="462.7" text-anchor="middle" textLength="6.1" lengthAdjust="spacingAndGlyphs">450</text><text x="363" y="379.1" text-anchor="end" textLength="6.1" lengthAdjust="spacingAndGlyphs">450</text><text x="470.1" y="462.7" text-anchor="middle" textLength="6.1" lengthAdjust="spacingAndGlyphs">500</text><text x="363" y="363.2" text-anchor="end" textLength="6.1" lengthAdjust="spacingAndGlyphs">500</text><text x="487.6" y="462.7" text-anchor="middle" textLength="6.1" lengthAdjust="spacingAndGlyphs">550</text><text x="363" y="347.4" text-anchor="end" textLength="6.1" lengthAdjust="spacingAndGlyphs">550</text><text x="505.1" y="462.7" text-anchor="middle" textLength="6.1" lengthAdjust="spacingAndGlyphs">600</text><text x="363" y="331.5" text-anchor="end" textLength="6.1" lengthAdjust="spacingAndGlyphs">600</text></g>
<text x="435.1" y="468.1" text-anchor="middle" font-size="4.9" textLength="17" lengthAdjust="spacingAndGlyphs">Em. (nm)</text>
<text transform="translate(354.5,392.8) rotate(-90)" text-anchor="middle" font-size="4.9" textLength="18" lengthAdjust="spacingAndGlyphs">Ex. (nm)</text>
<text x="435.1" y="325.1" text-anchor="middle" font-size="4.9" textLength="24.6" lengthAdjust="spacingAndGlyphs">Component 3</text>
<g font-size="4.9"><text x="536.1" y="458.7" text-anchor="middle" textLength="6.1" lengthAdjust="spacingAndGlyphs">200</text><text x="534.1" y="454.2" text-anchor="end" textLength="6.1" lengthAdjust="spacingAndGlyphs">200</text><text x="554.1" y="458.7" text-anchor="middle" textLength="6.1" lengthAdjust="spacingAndGlyphs">250</text><text x="534.1" y="439.1" text-anchor="end" textLength="6.1" lengthAdjust="spacingAndGlyphs">250</text><text x="572.1" y="458.7" text-anchor="middle" textLength="6.1" lengthAdjust="spacingAndGlyphs">300</text><text x="534.1" y="423.9" text-anchor="end" textLength="6.1" lengthAdjust="spacingAndGlyphs">300</text><text x="590.2" y="458.7" text-anchor="middle" textLength="6.1" lengthAdjust="spacingAndGlyphs">350</text><text x="534.1" y="408.8" text-anchor="end" textLength="6.1" lengthAdjust="spacingAndGlyphs">350</text><text x="608.2" y="458.7" text-anchor="middle" textLength="6.1" lengthAdjust="spacingAndGlyphs">400</text><text x="534.1" y="393.6" text-anchor="end" textLength="6.1" lengthAdjust="spacingAndGlyphs">400</text><text x="626.2" y="458.7" text-anchor="middle" textLength="6.1" lengthAdjust="spacingAndGlyphs">450</text><text x="534.1" y="378.4" text-anchor="end" textLength="6.1" lengthAdjust="spacingAndGlyphs">450</text><text x="644.2" y="458.7" text-anchor="middle" textLength="6.1" lengthAdjust="spacingAndGlyphs">500</text><text x="534.1" y="363.3" text-anchor="end" textLength="6.1" lengthAdjust="spacingAndGlyphs">500</text><text x="662.3" y="458.7" text-anchor="middle" textLength="6.1" lengthAdjust="spacingAndGlyphs">550</text><text x="534.1" y="348.1" text-anchor="end" textLength="6.1" lengthAdjust="spacingAndGlyphs">550</text><text x="680.3" y="458.7" text-anchor="middle" textLength="6.1" lengthAdjust="spacingAndGlyphs">600</text><text x="534.1" y="332.9" text-anchor="end" textLength="6.1" lengthAdjust="spacingAndGlyphs">600</text></g>
<text x="608.2" y="464.1" text-anchor="middle" font-size="4.9" textLength="17" lengthAdjust="spacingAndGlyphs">Em. (nm)</text>
<text transform="translate(525.6,391.5) rotate(-90)" text-anchor="middle" font-size="4.9" textLength="18" lengthAdjust="spacingAndGlyphs">Ex. (nm)</text>
<text x="608.2" y="326.5" text-anchor="middle" font-size="4.9" textLength="24.6" lengthAdjust="spacingAndGlyphs">Component 3</text>
</g>
<g filter="url(#bb)" font-family="'Liberation Serif',serif" font-size="14.3" fill="#000" stroke="#000" stroke-width="0.2">
<text x="33" y="30.8" textLength="26.9" lengthAdjust="spacingAndGlyphs">T1-C1</text>
<text x="208" y="36" textLength="26.5" lengthAdjust="spacingAndGlyphs">T2-C1</text>
<text x="375.8" y="36" textLength="26.8" lengthAdjust="spacingAndGlyphs">T3-C1</text>
<text x="550" y="36.2" textLength="26.9" lengthAdjust="spacingAndGlyphs">T4-C1</text>
<text x="33" y="183.8" textLength="28" lengthAdjust="spacingAndGlyphs">T1-C2</text>
<text x="207.9" y="189.1" textLength="26.9" lengthAdjust="spacingAndGlyphs">T2-C2</text>
<text x="375.8" y="189.3" textLength="27.6" lengthAdjust="spacingAndGlyphs">T3-C2</text>
<text x="550" y="189.1" textLength="27" lengthAdjust="spacingAndGlyphs">T4-C2</text>
<text x="33" y="352.6" textLength="28" lengthAdjust="spacingAndGlyphs">T1-C3</text>
<text x="207.9" y="357.9" textLength="26.9" lengthAdjust="spacingAndGlyphs">T2-C3</text>
<text x="375.8" y="357.9" textLength="27.6" lengthAdjust="spacingAndGlyphs">T3-C3</text>
<text x="550" y="358.2" textLength="27" lengthAdjust="spacingAndGlyphs">T4-C3</text>
</g>
</svg>
</body>
</html>
